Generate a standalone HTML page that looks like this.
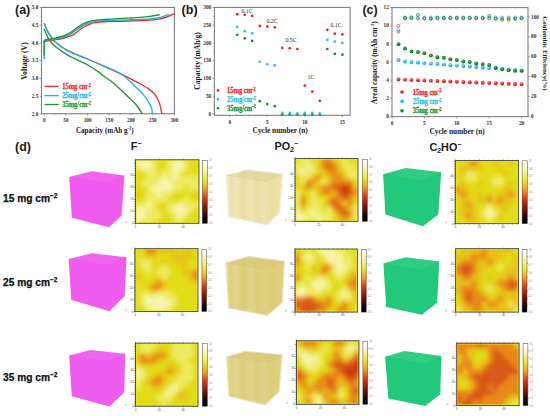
<!DOCTYPE html><html><head><meta charset="utf-8"><style>html,body{margin:0;padding:0;background:#fff;width:550px;height:416px;overflow:hidden}svg{display:block}</style></head><body><svg width="550" height="416" viewBox="0 0 550 416"><text x="15.00" y="14.00" style='font-family:"Liberation Sans",sans-serif;font-weight:bold;font-size:12.50px' fill="#1a1a1a" text-anchor="start" >(a)</text>
<text x="181.60" y="14.00" style='font-family:"Liberation Sans",sans-serif;font-weight:bold;font-size:12.50px' fill="#1a1a1a" text-anchor="start" >(b)</text>
<text x="362.40" y="14.40" style='font-family:"Liberation Sans",sans-serif;font-weight:bold;font-size:12.50px' fill="#1a1a1a" text-anchor="start" >(c)</text>
<text x="15.00" y="150.50" style='font-family:"Liberation Sans",sans-serif;font-weight:bold;font-size:12.50px' fill="#1a1a1a" text-anchor="start" >(d)</text>
<rect x="41.50" y="7.45" width="132.90" height="106.25" fill="none" stroke="#808080" stroke-width="1.1"/>
<line x1="39.70" y1="7.40" x2="41.50" y2="7.40" stroke="#808080" stroke-width="0.8"/>
<text x="0" y="0" transform="translate(38.30 9.00) scale(1 1.180)" style='font-family:"Liberation Serif",serif;font-weight:bold;font-size:5.30px' fill="#303030" text-anchor="end" >5.0</text>
<line x1="39.70" y1="25.17" x2="41.50" y2="25.17" stroke="#808080" stroke-width="0.8"/>
<text x="0" y="0" transform="translate(38.30 26.77) scale(1 1.180)" style='font-family:"Liberation Serif",serif;font-weight:bold;font-size:5.30px' fill="#303030" text-anchor="end" >4.5</text>
<line x1="39.70" y1="42.95" x2="41.50" y2="42.95" stroke="#808080" stroke-width="0.8"/>
<text x="0" y="0" transform="translate(38.30 44.55) scale(1 1.180)" style='font-family:"Liberation Serif",serif;font-weight:bold;font-size:5.30px' fill="#303030" text-anchor="end" >4.0</text>
<line x1="39.70" y1="60.72" x2="41.50" y2="60.72" stroke="#808080" stroke-width="0.8"/>
<text x="0" y="0" transform="translate(38.30 62.32) scale(1 1.180)" style='font-family:"Liberation Serif",serif;font-weight:bold;font-size:5.30px' fill="#303030" text-anchor="end" >3.5</text>
<line x1="39.70" y1="78.50" x2="41.50" y2="78.50" stroke="#808080" stroke-width="0.8"/>
<text x="0" y="0" transform="translate(38.30 80.10) scale(1 1.180)" style='font-family:"Liberation Serif",serif;font-weight:bold;font-size:5.30px' fill="#303030" text-anchor="end" >3.0</text>
<line x1="39.70" y1="96.28" x2="41.50" y2="96.28" stroke="#808080" stroke-width="0.8"/>
<text x="0" y="0" transform="translate(38.30 97.88) scale(1 1.180)" style='font-family:"Liberation Serif",serif;font-weight:bold;font-size:5.30px' fill="#303030" text-anchor="end" >2.5</text>
<line x1="39.70" y1="114.05" x2="41.50" y2="114.05" stroke="#808080" stroke-width="0.8"/>
<text x="0" y="0" transform="translate(38.30 115.65) scale(1 1.180)" style='font-family:"Liberation Serif",serif;font-weight:bold;font-size:5.30px' fill="#303030" text-anchor="end" >2.0</text>
<line x1="40.50" y1="16.29" x2="41.50" y2="16.29" stroke="#808080" stroke-width="0.6"/>
<line x1="40.50" y1="34.06" x2="41.50" y2="34.06" stroke="#808080" stroke-width="0.6"/>
<line x1="40.50" y1="51.84" x2="41.50" y2="51.84" stroke="#808080" stroke-width="0.6"/>
<line x1="40.50" y1="69.61" x2="41.50" y2="69.61" stroke="#808080" stroke-width="0.6"/>
<line x1="40.50" y1="87.39" x2="41.50" y2="87.39" stroke="#808080" stroke-width="0.6"/>
<line x1="40.50" y1="105.16" x2="41.50" y2="105.16" stroke="#808080" stroke-width="0.6"/>
<line x1="44.20" y1="113.70" x2="44.20" y2="115.50" stroke="#808080" stroke-width="0.8"/>
<text x="0" y="0" transform="translate(44.20 121.90) scale(1 1.180)" style='font-family:"Liberation Serif",serif;font-weight:bold;font-size:5.30px' fill="#303030" text-anchor="middle" >0</text>
<line x1="65.90" y1="113.70" x2="65.90" y2="115.50" stroke="#808080" stroke-width="0.8"/>
<text x="0" y="0" transform="translate(65.90 121.90) scale(1 1.180)" style='font-family:"Liberation Serif",serif;font-weight:bold;font-size:5.30px' fill="#303030" text-anchor="middle" >50</text>
<line x1="87.60" y1="113.70" x2="87.60" y2="115.50" stroke="#808080" stroke-width="0.8"/>
<text x="0" y="0" transform="translate(87.60 121.90) scale(1 1.180)" style='font-family:"Liberation Serif",serif;font-weight:bold;font-size:5.30px' fill="#303030" text-anchor="middle" >100</text>
<line x1="109.30" y1="113.70" x2="109.30" y2="115.50" stroke="#808080" stroke-width="0.8"/>
<text x="0" y="0" transform="translate(109.30 121.90) scale(1 1.180)" style='font-family:"Liberation Serif",serif;font-weight:bold;font-size:5.30px' fill="#303030" text-anchor="middle" >150</text>
<line x1="131.00" y1="113.70" x2="131.00" y2="115.50" stroke="#808080" stroke-width="0.8"/>
<text x="0" y="0" transform="translate(131.00 121.90) scale(1 1.180)" style='font-family:"Liberation Serif",serif;font-weight:bold;font-size:5.30px' fill="#303030" text-anchor="middle" >200</text>
<line x1="152.70" y1="113.70" x2="152.70" y2="115.50" stroke="#808080" stroke-width="0.8"/>
<text x="0" y="0" transform="translate(152.70 121.90) scale(1 1.180)" style='font-family:"Liberation Serif",serif;font-weight:bold;font-size:5.30px' fill="#303030" text-anchor="middle" >250</text>
<line x1="174.40" y1="113.70" x2="174.40" y2="115.50" stroke="#808080" stroke-width="0.8"/>
<text x="0" y="0" transform="translate(174.40 121.90) scale(1 1.180)" style='font-family:"Liberation Serif",serif;font-weight:bold;font-size:5.30px' fill="#303030" text-anchor="middle" >300</text>
<line x1="55.05" y1="113.70" x2="55.05" y2="114.70" stroke="#808080" stroke-width="0.6"/>
<line x1="76.75" y1="113.70" x2="76.75" y2="114.70" stroke="#808080" stroke-width="0.6"/>
<line x1="98.45" y1="113.70" x2="98.45" y2="114.70" stroke="#808080" stroke-width="0.6"/>
<line x1="120.15" y1="113.70" x2="120.15" y2="114.70" stroke="#808080" stroke-width="0.6"/>
<line x1="141.85" y1="113.70" x2="141.85" y2="114.70" stroke="#808080" stroke-width="0.6"/>
<line x1="163.55" y1="113.70" x2="163.55" y2="114.70" stroke="#808080" stroke-width="0.6"/>
<text x="26.60" y="61.00" style='font-family:"Liberation Serif",serif;font-weight:bold;font-size:7.80px' fill="#1a1a1a" text-anchor="middle" transform="rotate(-90 26.6 61)">Voltage (V)</text>
<text x="0" y="0" transform="translate(104.80 132.50) scale(1 1.180)" style='font-family:"Liberation Serif",serif;font-weight:bold;font-size:7.10px' fill="#1a1a1a" text-anchor="middle" >Capacity (mAh g<tspan dy="-2.5" font-size="4.5">-1</tspan><tspan dy="2.5">)</tspan></text>
<path d="M44.10,23.00 C44.63,24.27 46.23,28.45 47.30,30.60 C48.37,32.75 49.07,33.92 50.50,35.90 C51.93,37.88 53.18,40.12 55.90,42.50 C58.62,44.88 63.17,48.08 66.80,50.20 C70.43,52.32 74.07,53.65 77.70,55.20 C81.33,56.75 84.05,57.60 88.60,59.50 C93.15,61.40 99.47,64.13 105.00,66.60 C110.53,69.07 116.57,71.77 121.80,74.30 C127.03,76.83 132.03,79.45 136.40,81.80 C140.77,84.15 144.85,86.22 148.00,88.40 C151.15,90.58 153.37,92.37 155.30,94.90 C157.23,97.43 158.52,100.45 159.60,103.60 C160.68,106.75 161.43,112.10 161.80,113.80" fill="none" stroke="#ee2a2a" stroke-width="1.35"/>
<path d="M44.10,23.60 C44.63,24.82 46.23,28.82 47.30,30.90 C48.37,32.98 49.07,34.15 50.50,36.10 C51.93,38.05 53.18,40.23 55.90,42.60 C58.62,44.97 63.17,48.20 66.80,50.30 C70.43,52.40 74.07,53.67 77.70,55.20 C81.33,56.73 84.05,57.60 88.60,59.50 C93.15,61.40 99.47,64.10 105.00,66.60 C110.53,69.10 116.57,71.00 121.80,74.50 C127.03,78.00 132.77,84.20 136.40,87.60 C140.03,91.00 141.42,92.23 143.60,94.90 C145.78,97.57 148.13,101.25 149.50,103.60 C150.87,105.95 151.32,107.30 151.80,109.00 C152.28,110.70 152.30,113.00 152.40,113.80" fill="none" stroke="#1eb0ee" stroke-width="1.35"/>
<path d="M43.90,28.70 C44.47,29.92 46.38,34.03 47.30,36.00 C48.22,37.97 47.97,38.67 49.40,40.50 C50.83,42.33 53.00,44.65 55.90,47.00 C58.80,49.35 63.17,52.42 66.80,54.60 C70.43,56.78 74.07,58.28 77.70,60.10 C81.33,61.92 84.97,63.42 88.60,65.50 C92.23,67.58 97.32,71.05 99.50,72.60 C101.68,74.15 100.78,74.07 101.70,74.80 C102.62,75.53 102.87,75.47 105.00,77.00 C107.13,78.53 110.48,80.53 114.50,84.00 C118.52,87.47 125.45,94.30 129.10,97.80 C132.75,101.30 134.22,102.33 136.40,105.00 C138.58,107.67 141.23,112.33 142.20,113.80" fill="none" stroke="#1d9a2a" stroke-width="1.35"/>
<path d="M44.30,41.60 C45.25,41.40 48.22,40.72 50.00,40.40 C51.78,40.08 53.33,39.93 55.00,39.70 C56.67,39.47 58.00,39.45 60.00,39.00 C62.00,38.55 64.82,37.70 67.00,37.00 C69.18,36.30 71.10,35.88 73.10,34.80 C75.10,33.72 77.07,31.88 79.00,30.50 C80.93,29.12 82.87,27.58 84.70,26.50 C86.53,25.42 88.30,24.63 90.00,24.00 C91.70,23.37 93.23,23.03 94.90,22.70 C96.57,22.37 98.07,22.17 100.00,22.00 C101.93,21.83 103.17,21.82 106.50,21.70 C109.83,21.58 114.42,21.47 120.00,21.30 C125.58,21.13 135.00,20.88 140.00,20.70 C145.00,20.52 146.67,20.50 150.00,20.20 C153.33,19.90 157.17,19.43 160.00,18.90 C162.83,18.37 164.60,17.85 167.00,17.00 C169.40,16.15 173.17,14.33 174.40,13.80" fill="none" stroke="#ee2a2a" stroke-width="1.35"/>
<path d="M44.2,59.3 L44.2,40.6" fill="none" stroke="#1eb0ee" stroke-width="1.35"/>
<path d="M44.2,55.6 L44.2,40.2" fill="none" stroke="#1d9a2a" stroke-width="1.35"/>
<path d="M44.30,40.60 C45.25,40.43 48.22,39.87 50.00,39.60 C51.78,39.33 53.33,39.23 55.00,39.00 C56.67,38.77 58.17,38.67 60.00,38.20 C61.83,37.73 64.07,37.00 66.00,36.20 C67.93,35.40 69.77,34.52 71.60,33.40 C73.43,32.28 75.05,30.83 77.00,29.50 C78.95,28.17 81.47,26.48 83.30,25.40 C85.13,24.32 86.30,23.62 88.00,23.00 C89.70,22.38 91.83,22.03 93.50,21.70 C95.17,21.37 96.32,21.17 98.00,21.00 C99.68,20.83 100.77,20.82 103.60,20.70 C106.43,20.58 111.10,20.43 115.00,20.30 C118.90,20.17 122.83,20.03 127.00,19.90 C131.17,19.77 136.17,19.67 140.00,19.50 C143.83,19.33 147.00,19.18 150.00,18.90 C153.00,18.62 155.67,18.25 158.00,17.80 C160.33,17.35 162.12,16.78 164.00,16.20 C165.88,15.62 168.42,14.62 169.30,14.30" fill="none" stroke="#1eb0ee" stroke-width="1.35"/>
<path d="M44.30,40.20 C45.25,40.00 48.22,39.33 50.00,39.00 C51.78,38.67 53.33,38.53 55.00,38.20 C56.67,37.87 58.17,37.57 60.00,37.00 C61.83,36.43 64.07,35.65 66.00,34.80 C67.93,33.95 69.93,32.93 71.60,31.90 C73.27,30.87 74.30,29.82 76.00,28.60 C77.70,27.38 79.97,25.67 81.80,24.60 C83.63,23.53 85.30,22.85 87.00,22.20 C88.70,21.55 90.17,21.08 92.00,20.70 C93.83,20.32 96.07,20.10 98.00,19.90 C99.93,19.70 100.77,19.67 103.60,19.50 C106.43,19.33 111.10,19.12 115.00,18.90 C118.90,18.68 122.83,18.45 127.00,18.20 C131.17,17.95 136.17,17.72 140.00,17.40 C143.83,17.08 146.70,16.75 150.00,16.30 C153.30,15.85 158.17,14.97 159.80,14.70" fill="none" stroke="#1d9a2a" stroke-width="1.35"/>
<line x1="44.5" y1="86.40" x2="58.7" y2="86.40" stroke="#ee2a2a" stroke-width="1.35"/>
<text x="0.00" y="0.00" style='font-family:"Liberation Serif",serif;font-weight:bold;font-size:6.50px' fill="#ee2a2a" text-anchor="start" transform="translate(62.2 89.00) scale(1 1.25)" stroke="#ee2a2a" stroke-width="0.2">15mg cm<tspan dy="-2" font-size="4.2">-2</tspan></text>
<line x1="44.5" y1="95.60" x2="58.7" y2="95.60" stroke="#1eb0ee" stroke-width="1.35"/>
<text x="0.00" y="0.00" style='font-family:"Liberation Serif",serif;font-weight:bold;font-size:6.50px' fill="#1eb0ee" text-anchor="start" transform="translate(62.2 98.20) scale(1 1.25)" stroke="#1eb0ee" stroke-width="0.2">25mg/cm<tspan dy="-2" font-size="4.2">-2</tspan></text>
<line x1="44.5" y1="104.50" x2="58.7" y2="104.50" stroke="#1d9a2a" stroke-width="1.35"/>
<text x="0.00" y="0.00" style='font-family:"Liberation Serif",serif;font-weight:bold;font-size:6.50px' fill="#1d9a2a" text-anchor="start" transform="translate(62.2 107.10) scale(1 1.25)" stroke="#1d9a2a" stroke-width="0.2">35mg/cm<tspan dy="-2" font-size="4.2">-2</tspan></text>
<rect x="214.40" y="7.45" width="135.70" height="107.85" fill="none" stroke="#808080" stroke-width="1.1"/>
<line x1="212.60" y1="114.00" x2="214.40" y2="114.00" stroke="#808080" stroke-width="0.8"/>
<text x="0" y="0" transform="translate(211.20 115.60) scale(1 1.180)" style='font-family:"Liberation Serif",serif;font-weight:bold;font-size:5.30px' fill="#303030" text-anchor="end" >0</text>
<line x1="212.60" y1="96.23" x2="214.40" y2="96.23" stroke="#808080" stroke-width="0.8"/>
<text x="0" y="0" transform="translate(211.20 97.83) scale(1 1.180)" style='font-family:"Liberation Serif",serif;font-weight:bold;font-size:5.30px' fill="#303030" text-anchor="end" >50</text>
<line x1="212.60" y1="78.47" x2="214.40" y2="78.47" stroke="#808080" stroke-width="0.8"/>
<text x="0" y="0" transform="translate(211.20 80.07) scale(1 1.180)" style='font-family:"Liberation Serif",serif;font-weight:bold;font-size:5.30px' fill="#303030" text-anchor="end" >100</text>
<line x1="212.60" y1="60.70" x2="214.40" y2="60.70" stroke="#808080" stroke-width="0.8"/>
<text x="0" y="0" transform="translate(211.20 62.30) scale(1 1.180)" style='font-family:"Liberation Serif",serif;font-weight:bold;font-size:5.30px' fill="#303030" text-anchor="end" >150</text>
<line x1="212.60" y1="42.94" x2="214.40" y2="42.94" stroke="#808080" stroke-width="0.8"/>
<text x="0" y="0" transform="translate(211.20 44.54) scale(1 1.180)" style='font-family:"Liberation Serif",serif;font-weight:bold;font-size:5.30px' fill="#303030" text-anchor="end" >200</text>
<line x1="212.60" y1="25.17" x2="214.40" y2="25.17" stroke="#808080" stroke-width="0.8"/>
<text x="0" y="0" transform="translate(211.20 26.77) scale(1 1.180)" style='font-family:"Liberation Serif",serif;font-weight:bold;font-size:5.30px' fill="#303030" text-anchor="end" >250</text>
<line x1="212.60" y1="7.41" x2="214.40" y2="7.41" stroke="#808080" stroke-width="0.8"/>
<text x="0" y="0" transform="translate(211.20 9.01) scale(1 1.180)" style='font-family:"Liberation Serif",serif;font-weight:bold;font-size:5.30px' fill="#303030" text-anchor="end" >300</text>
<line x1="213.40" y1="105.12" x2="214.40" y2="105.12" stroke="#808080" stroke-width="0.6"/>
<line x1="213.40" y1="87.35" x2="214.40" y2="87.35" stroke="#808080" stroke-width="0.6"/>
<line x1="213.40" y1="69.59" x2="214.40" y2="69.59" stroke="#808080" stroke-width="0.6"/>
<line x1="213.40" y1="51.82" x2="214.40" y2="51.82" stroke="#808080" stroke-width="0.6"/>
<line x1="213.40" y1="34.06" x2="214.40" y2="34.06" stroke="#808080" stroke-width="0.6"/>
<line x1="213.40" y1="16.29" x2="214.40" y2="16.29" stroke="#808080" stroke-width="0.6"/>
<line x1="229.70" y1="115.30" x2="229.70" y2="117.10" stroke="#808080" stroke-width="0.8"/>
<text x="0" y="0" transform="translate(229.70 124.20) scale(1 1.180)" style='font-family:"Liberation Serif",serif;font-weight:bold;font-size:5.30px' fill="#303030" text-anchor="middle" >0</text>
<line x1="267.25" y1="115.30" x2="267.25" y2="117.10" stroke="#808080" stroke-width="0.8"/>
<text x="0" y="0" transform="translate(267.25 124.20) scale(1 1.180)" style='font-family:"Liberation Serif",serif;font-weight:bold;font-size:5.30px' fill="#303030" text-anchor="middle" >5</text>
<line x1="304.80" y1="115.30" x2="304.80" y2="117.10" stroke="#808080" stroke-width="0.8"/>
<text x="0" y="0" transform="translate(304.80 124.20) scale(1 1.180)" style='font-family:"Liberation Serif",serif;font-weight:bold;font-size:5.30px' fill="#303030" text-anchor="middle" >10</text>
<line x1="342.35" y1="115.30" x2="342.35" y2="117.10" stroke="#808080" stroke-width="0.8"/>
<text x="0" y="0" transform="translate(342.35 124.20) scale(1 1.180)" style='font-family:"Liberation Serif",serif;font-weight:bold;font-size:5.30px' fill="#303030" text-anchor="middle" >15</text>
<line x1="248.47" y1="115.30" x2="248.47" y2="116.30" stroke="#808080" stroke-width="0.6"/>
<line x1="286.02" y1="115.30" x2="286.02" y2="116.30" stroke="#808080" stroke-width="0.6"/>
<line x1="323.57" y1="115.30" x2="323.57" y2="116.30" stroke="#808080" stroke-width="0.6"/>
<text x="200.20" y="61.00" style='font-family:"Liberation Serif",serif;font-weight:bold;font-size:7.50px' fill="#1a1a1a" text-anchor="middle" transform="rotate(-90 200.2 61)">Capacity (mAh/g)</text>
<text x="0" y="0" transform="translate(280.20 132.60) scale(1 1.180)" style='font-family:"Liberation Serif",serif;font-weight:bold;font-size:7.40px' fill="#1a1a1a" text-anchor="middle" >Cycle number (n)</text>
<circle cx="237.21" cy="34.77" r="1.35" fill="#10902a"/>
<circle cx="244.72" cy="38.32" r="1.35" fill="#10902a"/>
<circle cx="252.23" cy="40.81" r="1.35" fill="#10902a"/>
<circle cx="259.74" cy="101.21" r="1.35" fill="#10902a"/>
<circle cx="267.25" cy="104.05" r="1.35" fill="#10902a"/>
<circle cx="274.76" cy="106.18" r="1.35" fill="#10902a"/>
<circle cx="282.27" cy="114.36" r="1.35" fill="#10902a"/>
<circle cx="289.78" cy="114.36" r="1.35" fill="#10902a"/>
<circle cx="297.29" cy="114.36" r="1.35" fill="#10902a"/>
<circle cx="304.80" cy="114.36" r="1.35" fill="#10902a"/>
<circle cx="312.31" cy="114.36" r="1.35" fill="#10902a"/>
<circle cx="319.82" cy="114.36" r="1.35" fill="#10902a"/>
<circle cx="327.33" cy="48.98" r="1.35" fill="#10902a"/>
<circle cx="334.84" cy="53.95" r="1.35" fill="#10902a"/>
<circle cx="342.35" cy="54.66" r="1.35" fill="#10902a"/>
<circle cx="237.21" cy="26.95" r="1.35" fill="#20c0f0"/>
<circle cx="244.72" cy="31.22" r="1.35" fill="#20c0f0"/>
<circle cx="252.23" cy="33.35" r="1.35" fill="#20c0f0"/>
<circle cx="259.74" cy="61.77" r="1.35" fill="#20c0f0"/>
<circle cx="267.25" cy="64.26" r="1.35" fill="#20c0f0"/>
<circle cx="274.76" cy="65.32" r="1.35" fill="#20c0f0"/>
<circle cx="282.27" cy="112.93" r="1.35" fill="#20c0f0"/>
<circle cx="289.78" cy="112.93" r="1.35" fill="#20c0f0"/>
<circle cx="297.29" cy="113.29" r="1.35" fill="#20c0f0"/>
<circle cx="304.80" cy="112.93" r="1.35" fill="#20c0f0"/>
<circle cx="312.31" cy="112.93" r="1.35" fill="#20c0f0"/>
<circle cx="319.82" cy="113.29" r="1.35" fill="#20c0f0"/>
<circle cx="327.33" cy="39.74" r="1.35" fill="#20c0f0"/>
<circle cx="334.84" cy="41.52" r="1.35" fill="#20c0f0"/>
<circle cx="342.35" cy="42.94" r="1.35" fill="#20c0f0"/>
<circle cx="237.21" cy="14.16" r="1.35" fill="#f02020"/>
<circle cx="244.72" cy="14.87" r="1.35" fill="#f02020"/>
<circle cx="252.23" cy="15.94" r="1.35" fill="#f02020"/>
<circle cx="259.74" cy="25.89" r="1.35" fill="#f02020"/>
<circle cx="267.25" cy="26.60" r="1.35" fill="#f02020"/>
<circle cx="274.76" cy="27.31" r="1.35" fill="#f02020"/>
<circle cx="282.27" cy="47.91" r="1.35" fill="#f02020"/>
<circle cx="289.78" cy="48.27" r="1.35" fill="#f02020"/>
<circle cx="297.29" cy="48.98" r="1.35" fill="#f02020"/>
<circle cx="304.80" cy="85.58" r="1.35" fill="#f02020"/>
<circle cx="312.31" cy="91.62" r="1.35" fill="#f02020"/>
<circle cx="319.82" cy="100.85" r="1.35" fill="#f02020"/>
<circle cx="327.33" cy="29.79" r="1.35" fill="#f02020"/>
<circle cx="334.84" cy="33.70" r="1.35" fill="#f02020"/>
<circle cx="342.35" cy="34.41" r="1.35" fill="#f02020"/>
<text x="247.00" y="13.00" style='font-family:"Liberation Serif",serif;font-size:5.80px' fill="#222" text-anchor="middle" >0.1C</text>
<text x="272.00" y="23.00" style='font-family:"Liberation Serif",serif;font-size:5.80px' fill="#222" text-anchor="middle" >0.2C</text>
<text x="291.00" y="42.20" style='font-family:"Liberation Serif",serif;font-size:5.80px' fill="#222" text-anchor="middle" >0.5C</text>
<text x="311.00" y="79.10" style='font-family:"Liberation Serif",serif;font-size:5.80px' fill="#222" text-anchor="middle" >1C</text>
<text x="336.00" y="27.00" style='font-family:"Liberation Serif",serif;font-size:5.80px' fill="#222" text-anchor="middle" >0.1C</text>
<circle cx="218" cy="90.40" r="1.3" fill="#f02020"/>
<text x="0.00" y="0.00" style='font-family:"Liberation Serif",serif;font-weight:bold;font-size:6.50px' fill="#f02020" text-anchor="start" transform="translate(227 93.00) scale(1 1.25)" stroke="#f02020" stroke-width="0.2">15mg cm<tspan dy="-2" font-size="4.2">-2</tspan></text>
<circle cx="218" cy="99.40" r="1.3" fill="#20c0f0"/>
<text x="0.00" y="0.00" style='font-family:"Liberation Serif",serif;font-weight:bold;font-size:6.50px' fill="#20c0f0" text-anchor="start" transform="translate(227 102.00) scale(1 1.25)" stroke="#20c0f0" stroke-width="0.2">25mg/cm<tspan dy="-2" font-size="4.2">-2</tspan></text>
<circle cx="218" cy="108.30" r="1.3" fill="#10902a"/>
<text x="0.00" y="0.00" style='font-family:"Liberation Serif",serif;font-weight:bold;font-size:6.50px' fill="#10902a" text-anchor="start" transform="translate(227 110.90) scale(1 1.25)" stroke="#10902a" stroke-width="0.2">35mg/cm<tspan dy="-2" font-size="4.2">-2</tspan></text>
<rect x="392.00" y="7.60" width="136.00" height="109.00" fill="none" stroke="#808080" stroke-width="1.1"/>
<line x1="390.20" y1="116.30" x2="392.00" y2="116.30" stroke="#808080" stroke-width="0.8"/>
<text x="0" y="0" transform="translate(388.80 117.90) scale(1 1.180)" style='font-family:"Liberation Serif",serif;font-weight:bold;font-size:5.30px' fill="#303030" text-anchor="end" >0</text>
<line x1="390.20" y1="98.20" x2="392.00" y2="98.20" stroke="#808080" stroke-width="0.8"/>
<text x="0" y="0" transform="translate(388.80 99.80) scale(1 1.180)" style='font-family:"Liberation Serif",serif;font-weight:bold;font-size:5.30px' fill="#303030" text-anchor="end" >2</text>
<line x1="390.20" y1="80.10" x2="392.00" y2="80.10" stroke="#808080" stroke-width="0.8"/>
<text x="0" y="0" transform="translate(388.80 81.70) scale(1 1.180)" style='font-family:"Liberation Serif",serif;font-weight:bold;font-size:5.30px' fill="#303030" text-anchor="end" >4</text>
<line x1="390.20" y1="62.00" x2="392.00" y2="62.00" stroke="#808080" stroke-width="0.8"/>
<text x="0" y="0" transform="translate(388.80 63.60) scale(1 1.180)" style='font-family:"Liberation Serif",serif;font-weight:bold;font-size:5.30px' fill="#303030" text-anchor="end" >6</text>
<line x1="390.20" y1="43.90" x2="392.00" y2="43.90" stroke="#808080" stroke-width="0.8"/>
<text x="0" y="0" transform="translate(388.80 45.50) scale(1 1.180)" style='font-family:"Liberation Serif",serif;font-weight:bold;font-size:5.30px' fill="#303030" text-anchor="end" >8</text>
<line x1="390.20" y1="25.80" x2="392.00" y2="25.80" stroke="#808080" stroke-width="0.8"/>
<text x="0" y="0" transform="translate(388.80 27.40) scale(1 1.180)" style='font-family:"Liberation Serif",serif;font-weight:bold;font-size:5.30px' fill="#303030" text-anchor="end" >10</text>
<line x1="390.20" y1="7.70" x2="392.00" y2="7.70" stroke="#808080" stroke-width="0.8"/>
<text x="0" y="0" transform="translate(388.80 9.30) scale(1 1.180)" style='font-family:"Liberation Serif",serif;font-weight:bold;font-size:5.30px' fill="#303030" text-anchor="end" >12</text>
<line x1="391.00" y1="107.25" x2="392.00" y2="107.25" stroke="#808080" stroke-width="0.6"/>
<line x1="391.00" y1="89.15" x2="392.00" y2="89.15" stroke="#808080" stroke-width="0.6"/>
<line x1="391.00" y1="71.05" x2="392.00" y2="71.05" stroke="#808080" stroke-width="0.6"/>
<line x1="391.00" y1="52.95" x2="392.00" y2="52.95" stroke="#808080" stroke-width="0.6"/>
<line x1="391.00" y1="34.85" x2="392.00" y2="34.85" stroke="#808080" stroke-width="0.6"/>
<line x1="391.00" y1="16.75" x2="392.00" y2="16.75" stroke="#808080" stroke-width="0.6"/>
<line x1="528.00" y1="116.30" x2="529.80" y2="116.30" stroke="#808080" stroke-width="0.8"/>
<text x="0" y="0" transform="translate(531.00 117.90) scale(1 1.180)" style='font-family:"Liberation Serif",serif;font-weight:bold;font-size:5.30px' fill="#303030" text-anchor="start" >0</text>
<line x1="528.00" y1="96.42" x2="529.80" y2="96.42" stroke="#808080" stroke-width="0.8"/>
<text x="0" y="0" transform="translate(531.00 98.02) scale(1 1.180)" style='font-family:"Liberation Serif",serif;font-weight:bold;font-size:5.30px' fill="#303030" text-anchor="start" >20</text>
<line x1="528.00" y1="76.54" x2="529.80" y2="76.54" stroke="#808080" stroke-width="0.8"/>
<text x="0" y="0" transform="translate(531.00 78.14) scale(1 1.180)" style='font-family:"Liberation Serif",serif;font-weight:bold;font-size:5.30px' fill="#303030" text-anchor="start" >40</text>
<line x1="528.00" y1="56.66" x2="529.80" y2="56.66" stroke="#808080" stroke-width="0.8"/>
<text x="0" y="0" transform="translate(531.00 58.26) scale(1 1.180)" style='font-family:"Liberation Serif",serif;font-weight:bold;font-size:5.30px' fill="#303030" text-anchor="start" >60</text>
<line x1="528.00" y1="36.78" x2="529.80" y2="36.78" stroke="#808080" stroke-width="0.8"/>
<text x="0" y="0" transform="translate(531.00 38.38) scale(1 1.180)" style='font-family:"Liberation Serif",serif;font-weight:bold;font-size:5.30px' fill="#303030" text-anchor="start" >80</text>
<line x1="528.00" y1="16.90" x2="529.80" y2="16.90" stroke="#808080" stroke-width="0.8"/>
<text x="0" y="0" transform="translate(531.00 18.50) scale(1 1.180)" style='font-family:"Liberation Serif",serif;font-weight:bold;font-size:5.30px' fill="#303030" text-anchor="start" >100</text>
<line x1="528.00" y1="106.36" x2="529.00" y2="106.36" stroke="#808080" stroke-width="0.6"/>
<line x1="528.00" y1="86.48" x2="529.00" y2="86.48" stroke="#808080" stroke-width="0.6"/>
<line x1="528.00" y1="66.60" x2="529.00" y2="66.60" stroke="#808080" stroke-width="0.6"/>
<line x1="528.00" y1="46.72" x2="529.00" y2="46.72" stroke="#808080" stroke-width="0.6"/>
<line x1="528.00" y1="26.84" x2="529.00" y2="26.84" stroke="#808080" stroke-width="0.6"/>
<line x1="392.00" y1="116.60" x2="392.00" y2="118.40" stroke="#808080" stroke-width="0.8"/>
<text x="0" y="0" transform="translate(392.00 125.30) scale(1 1.180)" style='font-family:"Liberation Serif",serif;font-weight:bold;font-size:5.30px' fill="#303030" text-anchor="middle" >0</text>
<line x1="424.40" y1="116.60" x2="424.40" y2="118.40" stroke="#808080" stroke-width="0.8"/>
<text x="0" y="0" transform="translate(424.40 125.30) scale(1 1.180)" style='font-family:"Liberation Serif",serif;font-weight:bold;font-size:5.30px' fill="#303030" text-anchor="middle" >5</text>
<line x1="456.80" y1="116.60" x2="456.80" y2="118.40" stroke="#808080" stroke-width="0.8"/>
<text x="0" y="0" transform="translate(456.80 125.30) scale(1 1.180)" style='font-family:"Liberation Serif",serif;font-weight:bold;font-size:5.30px' fill="#303030" text-anchor="middle" >10</text>
<line x1="489.20" y1="116.60" x2="489.20" y2="118.40" stroke="#808080" stroke-width="0.8"/>
<text x="0" y="0" transform="translate(489.20 125.30) scale(1 1.180)" style='font-family:"Liberation Serif",serif;font-weight:bold;font-size:5.30px' fill="#303030" text-anchor="middle" >15</text>
<line x1="521.60" y1="116.60" x2="521.60" y2="118.40" stroke="#808080" stroke-width="0.8"/>
<text x="0" y="0" transform="translate(521.60 125.30) scale(1 1.180)" style='font-family:"Liberation Serif",serif;font-weight:bold;font-size:5.30px' fill="#303030" text-anchor="middle" >20</text>
<text x="377.00" y="62.80" style='font-family:"Liberation Serif",serif;font-weight:bold;font-size:7.40px' fill="#1a1a1a" text-anchor="middle" transform="rotate(-90 377 62.8)">Areal capacity (mAh cm<tspan dy="-2.5" font-size="4.5">-2</tspan><tspan dy="2.5">)</tspan></text>
<text x="543.20" y="53.50" style='font-family:"Liberation Serif",serif;font-weight:bold;font-size:6.85px' fill="#1a1a1a" text-anchor="middle" transform="rotate(90 543.2 53.5)">Coulombic Efficiency(%)</text>
<text x="0" y="0" transform="translate(457.10 133.60) scale(1 1.180)" style='font-family:"Liberation Serif",serif;font-weight:bold;font-size:7.40px' fill="#1a1a1a" text-anchor="middle" >Cycle number (n)</text>
<defs><radialGradient id="gr" cx="0.4" cy="0.35" r="0.65"><stop offset="0" stop-color="#ff9a9a"/><stop offset="0.5" stop-color="#f02a2a"/><stop offset="1" stop-color="#c81010"/></radialGradient><radialGradient id="gb" cx="0.4" cy="0.35" r="0.65"><stop offset="0" stop-color="#b0ecff"/><stop offset="0.5" stop-color="#28c0f4"/><stop offset="1" stop-color="#0898d8"/></radialGradient><radialGradient id="gg" cx="0.4" cy="0.35" r="0.65"><stop offset="0" stop-color="#60c070"/><stop offset="0.5" stop-color="#10902a"/><stop offset="1" stop-color="#006a18"/></radialGradient></defs>
<circle cx="398.48" cy="79.38" r="1.95" fill="url(#gr)"/>
<circle cx="404.96" cy="79.63" r="1.95" fill="url(#gr)"/>
<circle cx="411.44" cy="79.89" r="1.95" fill="url(#gr)"/>
<circle cx="417.92" cy="80.15" r="1.95" fill="url(#gr)"/>
<circle cx="424.40" cy="80.40" r="1.95" fill="url(#gr)"/>
<circle cx="430.88" cy="80.66" r="1.95" fill="url(#gr)"/>
<circle cx="437.36" cy="80.92" r="1.95" fill="url(#gr)"/>
<circle cx="443.84" cy="81.18" r="1.95" fill="url(#gr)"/>
<circle cx="450.32" cy="81.43" r="1.95" fill="url(#gr)"/>
<circle cx="456.80" cy="81.69" r="1.95" fill="url(#gr)"/>
<circle cx="463.28" cy="81.95" r="1.95" fill="url(#gr)"/>
<circle cx="469.76" cy="82.21" r="1.95" fill="url(#gr)"/>
<circle cx="476.24" cy="82.46" r="1.95" fill="url(#gr)"/>
<circle cx="482.72" cy="82.72" r="1.95" fill="url(#gr)"/>
<circle cx="489.20" cy="82.98" r="1.95" fill="url(#gr)"/>
<circle cx="495.68" cy="83.23" r="1.95" fill="url(#gr)"/>
<circle cx="502.16" cy="83.49" r="1.95" fill="url(#gr)"/>
<circle cx="508.64" cy="83.75" r="1.95" fill="url(#gr)"/>
<circle cx="515.12" cy="84.01" r="1.95" fill="url(#gr)"/>
<circle cx="521.60" cy="84.26" r="1.95" fill="url(#gr)"/>
<circle cx="398.48" cy="59.83" r="1.95" fill="url(#gb)"/>
<circle cx="404.96" cy="61.46" r="1.95" fill="url(#gb)"/>
<circle cx="411.44" cy="62.00" r="1.95" fill="url(#gb)"/>
<circle cx="417.92" cy="62.45" r="1.95" fill="url(#gb)"/>
<circle cx="424.40" cy="63.09" r="1.95" fill="url(#gb)"/>
<circle cx="430.88" cy="63.63" r="1.95" fill="url(#gb)"/>
<circle cx="437.36" cy="63.99" r="1.95" fill="url(#gb)"/>
<circle cx="443.84" cy="64.53" r="1.95" fill="url(#gb)"/>
<circle cx="450.32" cy="65.17" r="1.95" fill="url(#gb)"/>
<circle cx="456.80" cy="65.62" r="1.95" fill="url(#gb)"/>
<circle cx="463.28" cy="66.07" r="1.95" fill="url(#gb)"/>
<circle cx="469.76" cy="66.52" r="1.95" fill="url(#gb)"/>
<circle cx="476.24" cy="66.98" r="1.95" fill="url(#gb)"/>
<circle cx="482.72" cy="67.43" r="1.95" fill="url(#gb)"/>
<circle cx="489.20" cy="68.15" r="1.95" fill="url(#gb)"/>
<circle cx="495.68" cy="68.33" r="1.95" fill="url(#gb)"/>
<circle cx="502.16" cy="68.70" r="1.95" fill="url(#gb)"/>
<circle cx="508.64" cy="69.69" r="1.95" fill="url(#gb)"/>
<circle cx="515.12" cy="70.14" r="1.95" fill="url(#gb)"/>
<circle cx="521.60" cy="70.60" r="1.95" fill="url(#gb)"/>
<circle cx="398.48" cy="44.17" r="1.95" fill="url(#gg)"/>
<circle cx="404.96" cy="48.52" r="1.95" fill="url(#gg)"/>
<circle cx="411.44" cy="51.41" r="1.95" fill="url(#gg)"/>
<circle cx="417.92" cy="52.05" r="1.95" fill="url(#gg)"/>
<circle cx="424.40" cy="53.13" r="1.95" fill="url(#gg)"/>
<circle cx="430.88" cy="55.39" r="1.95" fill="url(#gg)"/>
<circle cx="437.36" cy="57.20" r="1.95" fill="url(#gg)"/>
<circle cx="443.84" cy="57.75" r="1.95" fill="url(#gg)"/>
<circle cx="450.32" cy="59.19" r="1.95" fill="url(#gg)"/>
<circle cx="456.80" cy="60.01" r="1.95" fill="url(#gg)"/>
<circle cx="463.28" cy="61.46" r="1.95" fill="url(#gg)"/>
<circle cx="469.76" cy="62.00" r="1.95" fill="url(#gg)"/>
<circle cx="476.24" cy="63.54" r="1.95" fill="url(#gg)"/>
<circle cx="482.72" cy="64.08" r="1.95" fill="url(#gg)"/>
<circle cx="489.20" cy="64.99" r="1.95" fill="url(#gg)"/>
<circle cx="495.68" cy="67.79" r="1.95" fill="url(#gg)"/>
<circle cx="502.16" cy="69.33" r="1.95" fill="url(#gg)"/>
<circle cx="508.64" cy="70.14" r="1.95" fill="url(#gg)"/>
<circle cx="515.12" cy="70.69" r="1.95" fill="url(#gg)"/>
<circle cx="521.60" cy="70.69" r="1.95" fill="url(#gg)"/>
<circle cx="398.48" cy="25.85" r="1.45" fill="none" stroke="#f02020" stroke-width="0.75"/>
<circle cx="404.96" cy="18.39" r="1.45" fill="none" stroke="#f02020" stroke-width="0.75"/>
<circle cx="411.44" cy="18.39" r="1.45" fill="none" stroke="#f02020" stroke-width="0.75"/>
<circle cx="417.92" cy="18.39" r="1.45" fill="none" stroke="#f02020" stroke-width="0.75"/>
<circle cx="424.40" cy="18.39" r="1.45" fill="none" stroke="#f02020" stroke-width="0.75"/>
<circle cx="430.88" cy="18.39" r="1.45" fill="none" stroke="#f02020" stroke-width="0.75"/>
<circle cx="437.36" cy="18.39" r="1.45" fill="none" stroke="#f02020" stroke-width="0.75"/>
<circle cx="443.84" cy="18.39" r="1.45" fill="none" stroke="#f02020" stroke-width="0.75"/>
<circle cx="450.32" cy="18.39" r="1.45" fill="none" stroke="#f02020" stroke-width="0.75"/>
<circle cx="456.80" cy="18.39" r="1.45" fill="none" stroke="#f02020" stroke-width="0.75"/>
<circle cx="463.28" cy="18.39" r="1.45" fill="none" stroke="#f02020" stroke-width="0.75"/>
<circle cx="469.76" cy="18.39" r="1.45" fill="none" stroke="#f02020" stroke-width="0.75"/>
<circle cx="476.24" cy="18.39" r="1.45" fill="none" stroke="#f02020" stroke-width="0.75"/>
<circle cx="482.72" cy="18.39" r="1.45" fill="none" stroke="#f02020" stroke-width="0.75"/>
<circle cx="489.20" cy="18.39" r="1.45" fill="none" stroke="#f02020" stroke-width="0.75"/>
<circle cx="495.68" cy="18.39" r="1.45" fill="none" stroke="#f02020" stroke-width="0.75"/>
<circle cx="502.16" cy="18.39" r="1.45" fill="none" stroke="#f02020" stroke-width="0.75"/>
<circle cx="508.64" cy="18.39" r="1.45" fill="none" stroke="#f02020" stroke-width="0.75"/>
<circle cx="515.12" cy="18.39" r="1.45" fill="none" stroke="#f02020" stroke-width="0.75"/>
<circle cx="521.60" cy="18.39" r="1.45" fill="none" stroke="#f02020" stroke-width="0.75"/>
<circle cx="398.48" cy="29.82" r="1.45" fill="none" stroke="#20c0f0" stroke-width="0.75"/>
<circle cx="404.96" cy="17.40" r="1.45" fill="none" stroke="#20c0f0" stroke-width="0.75"/>
<circle cx="411.44" cy="17.40" r="1.45" fill="none" stroke="#20c0f0" stroke-width="0.75"/>
<circle cx="417.92" cy="17.40" r="1.45" fill="none" stroke="#20c0f0" stroke-width="0.75"/>
<circle cx="424.40" cy="17.40" r="1.45" fill="none" stroke="#20c0f0" stroke-width="0.75"/>
<circle cx="430.88" cy="17.40" r="1.45" fill="none" stroke="#20c0f0" stroke-width="0.75"/>
<circle cx="437.36" cy="17.40" r="1.45" fill="none" stroke="#20c0f0" stroke-width="0.75"/>
<circle cx="443.84" cy="17.40" r="1.45" fill="none" stroke="#20c0f0" stroke-width="0.75"/>
<circle cx="450.32" cy="17.40" r="1.45" fill="none" stroke="#20c0f0" stroke-width="0.75"/>
<circle cx="456.80" cy="17.40" r="1.45" fill="none" stroke="#20c0f0" stroke-width="0.75"/>
<circle cx="463.28" cy="17.40" r="1.45" fill="none" stroke="#20c0f0" stroke-width="0.75"/>
<circle cx="469.76" cy="17.40" r="1.45" fill="none" stroke="#20c0f0" stroke-width="0.75"/>
<circle cx="476.24" cy="17.40" r="1.45" fill="none" stroke="#20c0f0" stroke-width="0.75"/>
<circle cx="482.72" cy="17.40" r="1.45" fill="none" stroke="#20c0f0" stroke-width="0.75"/>
<circle cx="489.20" cy="17.40" r="1.45" fill="none" stroke="#20c0f0" stroke-width="0.75"/>
<circle cx="495.68" cy="17.40" r="1.45" fill="none" stroke="#20c0f0" stroke-width="0.75"/>
<circle cx="502.16" cy="17.40" r="1.45" fill="none" stroke="#20c0f0" stroke-width="0.75"/>
<circle cx="508.64" cy="17.40" r="1.45" fill="none" stroke="#20c0f0" stroke-width="0.75"/>
<circle cx="515.12" cy="17.40" r="1.45" fill="none" stroke="#20c0f0" stroke-width="0.75"/>
<circle cx="521.60" cy="17.40" r="1.45" fill="none" stroke="#20c0f0" stroke-width="0.75"/>
<circle cx="398.48" cy="31.81" r="1.45" fill="none" stroke="#10902a" stroke-width="0.75"/>
<circle cx="404.96" cy="17.89" r="1.45" fill="none" stroke="#10902a" stroke-width="0.75"/>
<circle cx="411.44" cy="17.40" r="1.45" fill="none" stroke="#10902a" stroke-width="0.75"/>
<circle cx="417.92" cy="14.91" r="1.45" fill="none" stroke="#10902a" stroke-width="0.75"/>
<circle cx="424.40" cy="18.39" r="1.45" fill="none" stroke="#10902a" stroke-width="0.75"/>
<circle cx="430.88" cy="18.89" r="1.45" fill="none" stroke="#10902a" stroke-width="0.75"/>
<circle cx="437.36" cy="17.89" r="1.45" fill="none" stroke="#10902a" stroke-width="0.75"/>
<circle cx="443.84" cy="17.89" r="1.45" fill="none" stroke="#10902a" stroke-width="0.75"/>
<circle cx="450.32" cy="17.89" r="1.45" fill="none" stroke="#10902a" stroke-width="0.75"/>
<circle cx="456.80" cy="17.89" r="1.45" fill="none" stroke="#10902a" stroke-width="0.75"/>
<circle cx="463.28" cy="17.89" r="1.45" fill="none" stroke="#10902a" stroke-width="0.75"/>
<circle cx="469.76" cy="17.89" r="1.45" fill="none" stroke="#10902a" stroke-width="0.75"/>
<circle cx="476.24" cy="17.89" r="1.45" fill="none" stroke="#10902a" stroke-width="0.75"/>
<circle cx="482.72" cy="17.89" r="1.45" fill="none" stroke="#10902a" stroke-width="0.75"/>
<circle cx="489.20" cy="15.91" r="1.45" fill="none" stroke="#10902a" stroke-width="0.75"/>
<circle cx="495.68" cy="18.89" r="1.45" fill="none" stroke="#10902a" stroke-width="0.75"/>
<circle cx="502.16" cy="19.88" r="1.45" fill="none" stroke="#10902a" stroke-width="0.75"/>
<circle cx="508.64" cy="19.88" r="1.45" fill="none" stroke="#10902a" stroke-width="0.75"/>
<circle cx="515.12" cy="18.89" r="1.45" fill="none" stroke="#10902a" stroke-width="0.75"/>
<circle cx="521.60" cy="17.89" r="1.45" fill="none" stroke="#10902a" stroke-width="0.75"/>
<circle cx="402" cy="92.00" r="1.8" fill="#f02020"/>
<text x="0.00" y="0.00" style='font-family:"Liberation Serif",serif;font-weight:bold;font-size:6.50px' fill="#f02020" text-anchor="start" transform="translate(412.7 94.60) scale(1 1.25)" stroke="#f02020" stroke-width="0.2">15mg cm<tspan dy="-2" font-size="4.2">-2</tspan></text>
<circle cx="402" cy="101.40" r="1.8" fill="#20c0f0"/>
<text x="0.00" y="0.00" style='font-family:"Liberation Serif",serif;font-weight:bold;font-size:6.50px' fill="#20c0f0" text-anchor="start" transform="translate(412.7 104.00) scale(1 1.25)" stroke="#20c0f0" stroke-width="0.2">25mg cm<tspan dy="-2" font-size="4.2">-2</tspan></text>
<circle cx="402" cy="110.80" r="1.8" fill="#10902a"/>
<text x="0.00" y="0.00" style='font-family:"Liberation Serif",serif;font-weight:bold;font-size:6.50px' fill="#10902a" text-anchor="start" transform="translate(412.7 113.40) scale(1 1.25)" stroke="#10902a" stroke-width="0.2">35mg cm<tspan dy="-2" font-size="4.2">-2</tspan></text>
<text x="3.00" y="201.50" style='font-family:"Liberation Sans",sans-serif;font-weight:bold;font-size:10.20px' fill="#111" text-anchor="start" stroke="#111" stroke-width="0.25">15 mg cm<tspan dy="-3.6" font-size="6.6">&#8722;2</tspan></text>
<text x="3.00" y="285.60" style='font-family:"Liberation Sans",sans-serif;font-weight:bold;font-size:10.20px' fill="#111" text-anchor="start" stroke="#111" stroke-width="0.25">25 mg cm<tspan dy="-3.6" font-size="6.6">&#8722;2</tspan></text>
<text x="3.00" y="380.80" style='font-family:"Liberation Sans",sans-serif;font-weight:bold;font-size:10.20px' fill="#111" text-anchor="start" stroke="#111" stroke-width="0.25">35 mg cm<tspan dy="-3.6" font-size="6.6">&#8722;2</tspan></text>
<text x="130.80" y="149.80" style='font-family:"Liberation Sans",sans-serif;font-weight:bold;font-size:10.80px' fill="#1a1a1a" text-anchor="start" >F<tspan dy="-3.5" font-size="7">&#8722;</tspan></text>
<text x="274.50" y="149.60" style='font-family:"Liberation Sans",sans-serif;font-weight:bold;font-size:10.80px' fill="#1a1a1a" text-anchor="start" >PO<tspan dy="2.5" font-size="7">2</tspan><tspan dy="-6.5" font-size="7">&#8722;</tspan></text>
<text x="429.40" y="150.70" style='font-family:"Liberation Sans",sans-serif;font-weight:bold;font-size:10.80px' fill="#1a1a1a" text-anchor="start" >C<tspan dy="2.5" font-size="7">2</tspan><tspan dy="-2.5">HO</tspan><tspan dy="-3.5" font-size="7">&#8722;</tspan></text>
<defs>
<linearGradient id="cb" x1="0" y1="0" x2="0" y2="1"><stop offset="0" stop-color="#ffffff"/><stop offset="0.1" stop-color="#fbfad0"/><stop offset="0.3" stop-color="#eee830"/><stop offset="0.45" stop-color="#f0a020"/><stop offset="0.6" stop-color="#d83810"/><stop offset="0.78" stop-color="#701008"/><stop offset="0.92" stop-color="#100202"/><stop offset="1" stop-color="#000000"/></linearGradient>
<filter id="bl" x="-20%" y="-20%" width="140%" height="140%"><feGaussianBlur stdDeviation="0.44"/></filter><filter id="grain" x="0" y="0" width="100%" height="100%"><feTurbulence type="fractalNoise" baseFrequency="1.1" numOctaves="1" seed="7"/><feColorMatrix type="matrix" values="0 0 0 0 0.55  0 0 0 0 0.25  0 0 0 0 0.05  1.6 0 0 0 -0.75"/></filter>
<clipPath id="cpF1"><rect x="135.40" y="159.80" width="63.60" height="63.50"/></clipPath>
<clipPath id="cpP1"><rect x="295.10" y="158.50" width="62.90" height="62.80"/></clipPath>
<clipPath id="cpC1"><rect x="455.30" y="160.40" width="63.30" height="63.30"/></clipPath>
<clipPath id="cpF2"><rect x="135.00" y="248.70" width="63.00" height="62.80"/></clipPath>
<clipPath id="cpP2"><rect x="295.10" y="249.00" width="62.30" height="63.10"/></clipPath>
<clipPath id="cpC2"><rect x="455.70" y="248.70" width="62.90" height="63.40"/></clipPath>
<clipPath id="cpF3"><rect x="135.50" y="343.10" width="62.50" height="63.10"/></clipPath>
<clipPath id="cpP3"><rect x="296.50" y="340.80" width="62.50" height="63.50"/></clipPath>
<clipPath id="cpC3"><rect x="456.80" y="343.10" width="62.30" height="62.50"/></clipPath>
<linearGradient id="stripe" x1="0" y1="0" x2="1" y2="0"><stop offset="0" stop-color="#fff" stop-opacity="0.55"/><stop offset="0.08" stop-color="#fff" stop-opacity="0.15"/><stop offset="0.18" stop-color="#fff" stop-opacity="0.3"/><stop offset="0.3" stop-color="#fff" stop-opacity="0.05"/><stop offset="0.42" stop-color="#fff" stop-opacity="0.25"/><stop offset="0.55" stop-color="#fff" stop-opacity="0.08"/><stop offset="0.68" stop-color="#fff" stop-opacity="0.2"/><stop offset="0.8" stop-color="#fff" stop-opacity="0.05"/><stop offset="1" stop-color="#fff" stop-opacity="0.2"/></linearGradient>
</defs>
<g clip-path="url(#cpF1)"><g transform="translate(135.40 159.80) scale(5.3000 5.2917)" filter="url(#bl)">
<rect x="-1" y="-1" width="1.1" height="1.1" fill="#f8f6af"/>
<rect x="0" y="-1" width="1.1" height="1.1" fill="#f8f6af"/>
<rect x="1" y="-1" width="1.1" height="1.1" fill="#f8f6af"/>
<rect x="2" y="-1" width="1.1" height="1.1" fill="#f8f6af"/>
<rect x="3" y="-1" width="1.1" height="1.1" fill="#f0ec5f"/>
<rect x="4" y="-1" width="1.1" height="1.1" fill="#e2de12"/>
<rect x="5" y="-1" width="1.1" height="1.1" fill="#e2de12"/>
<rect x="6" y="-1" width="1.1" height="1.1" fill="#f0ec5f"/>
<rect x="7" y="-1" width="1.1" height="1.1" fill="#f8f6af"/>
<rect x="8" y="-1" width="1.1" height="1.1" fill="#f8f6af"/>
<rect x="9" y="-1" width="1.1" height="1.1" fill="#f0ec5f"/>
<rect x="10" y="-1" width="1.1" height="1.1" fill="#e2de12"/>
<rect x="11" y="-1" width="1.1" height="1.1" fill="#e2de12"/>
<rect x="12" y="-1" width="1.1" height="1.1" fill="#e2de12"/>
<rect x="-1" y="0" width="1.1" height="1.1" fill="#f8f6af"/>
<rect x="0" y="0" width="1.1" height="1.1" fill="#f8f6af"/>
<rect x="1" y="0" width="1.1" height="1.1" fill="#f8f6af"/>
<rect x="2" y="0" width="1.1" height="1.1" fill="#f8f6af"/>
<rect x="3" y="0" width="1.1" height="1.1" fill="#f0ec5f"/>
<rect x="4" y="0" width="1.1" height="1.1" fill="#e2de12"/>
<rect x="5" y="0" width="1.1" height="1.1" fill="#e2de12"/>
<rect x="6" y="0" width="1.1" height="1.1" fill="#f0ec5f"/>
<rect x="7" y="0" width="1.1" height="1.1" fill="#f8f6af"/>
<rect x="8" y="0" width="1.1" height="1.1" fill="#f8f6af"/>
<rect x="9" y="0" width="1.1" height="1.1" fill="#f0ec5f"/>
<rect x="10" y="0" width="1.1" height="1.1" fill="#e2de12"/>
<rect x="11" y="0" width="1.1" height="1.1" fill="#e2de12"/>
<rect x="12" y="0" width="1.1" height="1.1" fill="#e2de12"/>
<rect x="-1" y="1" width="1.1" height="1.1" fill="#f0ec5f"/>
<rect x="0" y="1" width="1.1" height="1.1" fill="#f0ec5f"/>
<rect x="1" y="1" width="1.1" height="1.1" fill="#f8f6af"/>
<rect x="2" y="1" width="1.1" height="1.1" fill="#f8f6af"/>
<rect x="3" y="1" width="1.1" height="1.1" fill="#f0ec5f"/>
<rect x="4" y="1" width="1.1" height="1.1" fill="#e2de12"/>
<rect x="5" y="1" width="1.1" height="1.1" fill="#e2de12"/>
<rect x="6" y="1" width="1.1" height="1.1" fill="#f0ec5f"/>
<rect x="7" y="1" width="1.1" height="1.1" fill="#f8f6af"/>
<rect x="8" y="1" width="1.1" height="1.1" fill="#f8f6af"/>
<rect x="9" y="1" width="1.1" height="1.1" fill="#f0ec5f"/>
<rect x="10" y="1" width="1.1" height="1.1" fill="#e2de12"/>
<rect x="11" y="1" width="1.1" height="1.1" fill="#e2de12"/>
<rect x="12" y="1" width="1.1" height="1.1" fill="#e2de12"/>
<rect x="-1" y="2" width="1.1" height="1.1" fill="#e2de12"/>
<rect x="0" y="2" width="1.1" height="1.1" fill="#e2de12"/>
<rect x="1" y="2" width="1.1" height="1.1" fill="#e2de12"/>
<rect x="2" y="2" width="1.1" height="1.1" fill="#f0ec5f"/>
<rect x="3" y="2" width="1.1" height="1.1" fill="#f0ec5f"/>
<rect x="4" y="2" width="1.1" height="1.1" fill="#e2de12"/>
<rect x="5" y="2" width="1.1" height="1.1" fill="#f0ec5f"/>
<rect x="6" y="2" width="1.1" height="1.1" fill="#f0ec5f"/>
<rect x="7" y="2" width="1.1" height="1.1" fill="#f8f6af"/>
<rect x="8" y="2" width="1.1" height="1.1" fill="#f0ec5f"/>
<rect x="9" y="2" width="1.1" height="1.1" fill="#e2de12"/>
<rect x="10" y="2" width="1.1" height="1.1" fill="#e2de12"/>
<rect x="11" y="2" width="1.1" height="1.1" fill="#e2de12"/>
<rect x="12" y="2" width="1.1" height="1.1" fill="#e2de12"/>
<rect x="-1" y="3" width="1.1" height="1.1" fill="#e2de12"/>
<rect x="0" y="3" width="1.1" height="1.1" fill="#e2de12"/>
<rect x="1" y="3" width="1.1" height="1.1" fill="#e2de12"/>
<rect x="2" y="3" width="1.1" height="1.1" fill="#f0ec5f"/>
<rect x="3" y="3" width="1.1" height="1.1" fill="#f0ec5f"/>
<rect x="4" y="3" width="1.1" height="1.1" fill="#f0ec5f"/>
<rect x="5" y="3" width="1.1" height="1.1" fill="#f8f6af"/>
<rect x="6" y="3" width="1.1" height="1.1" fill="#f0ec5f"/>
<rect x="7" y="3" width="1.1" height="1.1" fill="#f8f6af"/>
<rect x="8" y="3" width="1.1" height="1.1" fill="#f0ec5f"/>
<rect x="9" y="3" width="1.1" height="1.1" fill="#f0ec5f"/>
<rect x="10" y="3" width="1.1" height="1.1" fill="#f0ec5f"/>
<rect x="11" y="3" width="1.1" height="1.1" fill="#f0ec5f"/>
<rect x="12" y="3" width="1.1" height="1.1" fill="#f0ec5f"/>
<rect x="-1" y="4" width="1.1" height="1.1" fill="#e2de12"/>
<rect x="0" y="4" width="1.1" height="1.1" fill="#e2de12"/>
<rect x="1" y="4" width="1.1" height="1.1" fill="#f0ec5f"/>
<rect x="2" y="4" width="1.1" height="1.1" fill="#f0ec5f"/>
<rect x="3" y="4" width="1.1" height="1.1" fill="#f0ec5f"/>
<rect x="4" y="4" width="1.1" height="1.1" fill="#f8f6af"/>
<rect x="5" y="4" width="1.1" height="1.1" fill="#f8f6af"/>
<rect x="6" y="4" width="1.1" height="1.1" fill="#f8f6af"/>
<rect x="7" y="4" width="1.1" height="1.1" fill="#f0ec5f"/>
<rect x="8" y="4" width="1.1" height="1.1" fill="#f0ec5f"/>
<rect x="9" y="4" width="1.1" height="1.1" fill="#f0ec5f"/>
<rect x="10" y="4" width="1.1" height="1.1" fill="#f0ec5f"/>
<rect x="11" y="4" width="1.1" height="1.1" fill="#f0ec5f"/>
<rect x="12" y="4" width="1.1" height="1.1" fill="#f0ec5f"/>
<rect x="-1" y="5" width="1.1" height="1.1" fill="#e2de12"/>
<rect x="0" y="5" width="1.1" height="1.1" fill="#e2de12"/>
<rect x="1" y="5" width="1.1" height="1.1" fill="#e2de12"/>
<rect x="2" y="5" width="1.1" height="1.1" fill="#f0ec5f"/>
<rect x="3" y="5" width="1.1" height="1.1" fill="#f8f6af"/>
<rect x="4" y="5" width="1.1" height="1.1" fill="#f8f6af"/>
<rect x="5" y="5" width="1.1" height="1.1" fill="#f8f6af"/>
<rect x="6" y="5" width="1.1" height="1.1" fill="#f8f6af"/>
<rect x="7" y="5" width="1.1" height="1.1" fill="#f0ec5f"/>
<rect x="8" y="5" width="1.1" height="1.1" fill="#f0ec5f"/>
<rect x="9" y="5" width="1.1" height="1.1" fill="#e2de12"/>
<rect x="10" y="5" width="1.1" height="1.1" fill="#f0ec5f"/>
<rect x="11" y="5" width="1.1" height="1.1" fill="#f0ec5f"/>
<rect x="12" y="5" width="1.1" height="1.1" fill="#f0ec5f"/>
<rect x="-1" y="6" width="1.1" height="1.1" fill="#e8c412"/>
<rect x="0" y="6" width="1.1" height="1.1" fill="#e8c412"/>
<rect x="1" y="6" width="1.1" height="1.1" fill="#e2de12"/>
<rect x="2" y="6" width="1.1" height="1.1" fill="#f0ec5f"/>
<rect x="3" y="6" width="1.1" height="1.1" fill="#f0ec5f"/>
<rect x="4" y="6" width="1.1" height="1.1" fill="#f8f6af"/>
<rect x="5" y="6" width="1.1" height="1.1" fill="#f0ec5f"/>
<rect x="6" y="6" width="1.1" height="1.1" fill="#f0ec5f"/>
<rect x="7" y="6" width="1.1" height="1.1" fill="#e2de12"/>
<rect x="8" y="6" width="1.1" height="1.1" fill="#e2de12"/>
<rect x="9" y="6" width="1.1" height="1.1" fill="#e2de12"/>
<rect x="10" y="6" width="1.1" height="1.1" fill="#e2de12"/>
<rect x="11" y="6" width="1.1" height="1.1" fill="#e8c412"/>
<rect x="12" y="6" width="1.1" height="1.1" fill="#e8c412"/>
<rect x="-1" y="7" width="1.1" height="1.1" fill="#e2de12"/>
<rect x="0" y="7" width="1.1" height="1.1" fill="#e2de12"/>
<rect x="1" y="7" width="1.1" height="1.1" fill="#e2de12"/>
<rect x="2" y="7" width="1.1" height="1.1" fill="#f0ec5f"/>
<rect x="3" y="7" width="1.1" height="1.1" fill="#f0ec5f"/>
<rect x="4" y="7" width="1.1" height="1.1" fill="#f0ec5f"/>
<rect x="5" y="7" width="1.1" height="1.1" fill="#f0ec5f"/>
<rect x="6" y="7" width="1.1" height="1.1" fill="#e2de12"/>
<rect x="7" y="7" width="1.1" height="1.1" fill="#e2de12"/>
<rect x="8" y="7" width="1.1" height="1.1" fill="#e2de12"/>
<rect x="9" y="7" width="1.1" height="1.1" fill="#f0ec5f"/>
<rect x="10" y="7" width="1.1" height="1.1" fill="#e2de12"/>
<rect x="11" y="7" width="1.1" height="1.1" fill="#e2de12"/>
<rect x="12" y="7" width="1.1" height="1.1" fill="#e2de12"/>
<rect x="-1" y="8" width="1.1" height="1.1" fill="#f0ec5f"/>
<rect x="0" y="8" width="1.1" height="1.1" fill="#f0ec5f"/>
<rect x="1" y="8" width="1.1" height="1.1" fill="#f0ec5f"/>
<rect x="2" y="8" width="1.1" height="1.1" fill="#f8f6af"/>
<rect x="3" y="8" width="1.1" height="1.1" fill="#f0ec5f"/>
<rect x="4" y="8" width="1.1" height="1.1" fill="#e2de12"/>
<rect x="5" y="8" width="1.1" height="1.1" fill="#e2de12"/>
<rect x="6" y="8" width="1.1" height="1.1" fill="#f0ec5f"/>
<rect x="7" y="8" width="1.1" height="1.1" fill="#f0ec5f"/>
<rect x="8" y="8" width="1.1" height="1.1" fill="#f8f6af"/>
<rect x="9" y="8" width="1.1" height="1.1" fill="#f0ec5f"/>
<rect x="10" y="8" width="1.1" height="1.1" fill="#f0ec5f"/>
<rect x="11" y="8" width="1.1" height="1.1" fill="#f0ec5f"/>
<rect x="12" y="8" width="1.1" height="1.1" fill="#f0ec5f"/>
<rect x="-1" y="9" width="1.1" height="1.1" fill="#f8f6af"/>
<rect x="0" y="9" width="1.1" height="1.1" fill="#f8f6af"/>
<rect x="1" y="9" width="1.1" height="1.1" fill="#f8f6af"/>
<rect x="2" y="9" width="1.1" height="1.1" fill="#f0ec5f"/>
<rect x="3" y="9" width="1.1" height="1.1" fill="#f0ec5f"/>
<rect x="4" y="9" width="1.1" height="1.1" fill="#e2de12"/>
<rect x="5" y="9" width="1.1" height="1.1" fill="#e2de12"/>
<rect x="6" y="9" width="1.1" height="1.1" fill="#f0ec5f"/>
<rect x="7" y="9" width="1.1" height="1.1" fill="#f8f6af"/>
<rect x="8" y="9" width="1.1" height="1.1" fill="#f8f6af"/>
<rect x="9" y="9" width="1.1" height="1.1" fill="#f8f6af"/>
<rect x="10" y="9" width="1.1" height="1.1" fill="#f0ec5f"/>
<rect x="11" y="9" width="1.1" height="1.1" fill="#e2de12"/>
<rect x="12" y="9" width="1.1" height="1.1" fill="#e2de12"/>
<rect x="-1" y="10" width="1.1" height="1.1" fill="#f8f6af"/>
<rect x="0" y="10" width="1.1" height="1.1" fill="#f8f6af"/>
<rect x="1" y="10" width="1.1" height="1.1" fill="#f8f6af"/>
<rect x="2" y="10" width="1.1" height="1.1" fill="#f0ec5f"/>
<rect x="3" y="10" width="1.1" height="1.1" fill="#f0ec5f"/>
<rect x="4" y="10" width="1.1" height="1.1" fill="#f0ec5f"/>
<rect x="5" y="10" width="1.1" height="1.1" fill="#e2de12"/>
<rect x="6" y="10" width="1.1" height="1.1" fill="#e2de12"/>
<rect x="7" y="10" width="1.1" height="1.1" fill="#f0ec5f"/>
<rect x="8" y="10" width="1.1" height="1.1" fill="#f8f6af"/>
<rect x="9" y="10" width="1.1" height="1.1" fill="#f0ec5f"/>
<rect x="10" y="10" width="1.1" height="1.1" fill="#e2de12"/>
<rect x="11" y="10" width="1.1" height="1.1" fill="#e2de12"/>
<rect x="12" y="10" width="1.1" height="1.1" fill="#e2de12"/>
<rect x="-1" y="11" width="1.1" height="1.1" fill="#f8f6af"/>
<rect x="0" y="11" width="1.1" height="1.1" fill="#f8f6af"/>
<rect x="1" y="11" width="1.1" height="1.1" fill="#f0ec5f"/>
<rect x="2" y="11" width="1.1" height="1.1" fill="#f0ec5f"/>
<rect x="3" y="11" width="1.1" height="1.1" fill="#f0ec5f"/>
<rect x="4" y="11" width="1.1" height="1.1" fill="#e2de12"/>
<rect x="5" y="11" width="1.1" height="1.1" fill="#e2de12"/>
<rect x="6" y="11" width="1.1" height="1.1" fill="#e2de12"/>
<rect x="7" y="11" width="1.1" height="1.1" fill="#f0ec5f"/>
<rect x="8" y="11" width="1.1" height="1.1" fill="#f0ec5f"/>
<rect x="9" y="11" width="1.1" height="1.1" fill="#e2de12"/>
<rect x="10" y="11" width="1.1" height="1.1" fill="#e2de12"/>
<rect x="11" y="11" width="1.1" height="1.1" fill="#e2de12"/>
<rect x="12" y="11" width="1.1" height="1.1" fill="#e2de12"/>
<rect x="-1" y="12" width="1.1" height="1.1" fill="#f8f6af"/>
<rect x="0" y="12" width="1.1" height="1.1" fill="#f8f6af"/>
<rect x="1" y="12" width="1.1" height="1.1" fill="#f0ec5f"/>
<rect x="2" y="12" width="1.1" height="1.1" fill="#f0ec5f"/>
<rect x="3" y="12" width="1.1" height="1.1" fill="#f0ec5f"/>
<rect x="4" y="12" width="1.1" height="1.1" fill="#e2de12"/>
<rect x="5" y="12" width="1.1" height="1.1" fill="#e2de12"/>
<rect x="6" y="12" width="1.1" height="1.1" fill="#e2de12"/>
<rect x="7" y="12" width="1.1" height="1.1" fill="#f0ec5f"/>
<rect x="8" y="12" width="1.1" height="1.1" fill="#f0ec5f"/>
<rect x="9" y="12" width="1.1" height="1.1" fill="#e2de12"/>
<rect x="10" y="12" width="1.1" height="1.1" fill="#e2de12"/>
<rect x="11" y="12" width="1.1" height="1.1" fill="#e2de12"/>
<rect x="12" y="12" width="1.1" height="1.1" fill="#e2de12"/>
</g><rect x="135.40" y="159.80" width="63.60" height="63.50" filter="url(#grain)" opacity="0.18"/></g>
<rect x="136.30" y="160.70" width="61.80" height="61.70" fill="none" stroke="#eeee10" stroke-opacity="0.7" stroke-width="1"/>
<rect x="135.40" y="159.80" width="63.60" height="63.50" fill="none" stroke="#333" stroke-width="0.8"/>
<line x1="135.40" y1="223.30" x2="134.00" y2="223.30" stroke="#222" stroke-width="0.6"/>
<line x1="135.40" y1="220.90" x2="134.40" y2="220.90" stroke="#222" stroke-width="0.6"/>
<line x1="135.40" y1="218.51" x2="134.40" y2="218.51" stroke="#222" stroke-width="0.6"/>
<line x1="135.40" y1="216.11" x2="134.40" y2="216.11" stroke="#222" stroke-width="0.6"/>
<line x1="135.40" y1="213.72" x2="134.40" y2="213.72" stroke="#222" stroke-width="0.6"/>
<line x1="135.40" y1="211.32" x2="134.00" y2="211.32" stroke="#222" stroke-width="0.6"/>
<line x1="135.40" y1="208.92" x2="134.40" y2="208.92" stroke="#222" stroke-width="0.6"/>
<line x1="135.40" y1="206.53" x2="134.40" y2="206.53" stroke="#222" stroke-width="0.6"/>
<line x1="135.40" y1="204.13" x2="134.40" y2="204.13" stroke="#222" stroke-width="0.6"/>
<line x1="135.40" y1="201.73" x2="134.40" y2="201.73" stroke="#222" stroke-width="0.6"/>
<line x1="135.40" y1="199.34" x2="134.00" y2="199.34" stroke="#222" stroke-width="0.6"/>
<line x1="135.40" y1="196.94" x2="134.40" y2="196.94" stroke="#222" stroke-width="0.6"/>
<line x1="135.40" y1="194.55" x2="134.40" y2="194.55" stroke="#222" stroke-width="0.6"/>
<line x1="135.40" y1="192.15" x2="134.40" y2="192.15" stroke="#222" stroke-width="0.6"/>
<line x1="135.40" y1="189.75" x2="134.40" y2="189.75" stroke="#222" stroke-width="0.6"/>
<line x1="135.40" y1="187.36" x2="134.00" y2="187.36" stroke="#222" stroke-width="0.6"/>
<line x1="135.40" y1="184.96" x2="134.40" y2="184.96" stroke="#222" stroke-width="0.6"/>
<line x1="135.40" y1="182.56" x2="134.40" y2="182.56" stroke="#222" stroke-width="0.6"/>
<line x1="135.40" y1="180.17" x2="134.40" y2="180.17" stroke="#222" stroke-width="0.6"/>
<line x1="135.40" y1="177.77" x2="134.40" y2="177.77" stroke="#222" stroke-width="0.6"/>
<line x1="135.40" y1="175.38" x2="134.00" y2="175.38" stroke="#222" stroke-width="0.6"/>
<line x1="135.40" y1="172.98" x2="134.40" y2="172.98" stroke="#222" stroke-width="0.6"/>
<line x1="135.40" y1="170.58" x2="134.40" y2="170.58" stroke="#222" stroke-width="0.6"/>
<line x1="135.40" y1="168.19" x2="134.40" y2="168.19" stroke="#222" stroke-width="0.6"/>
<line x1="135.40" y1="165.79" x2="134.40" y2="165.79" stroke="#222" stroke-width="0.6"/>
<line x1="135.40" y1="163.39" x2="134.00" y2="163.39" stroke="#222" stroke-width="0.6"/>
<line x1="135.40" y1="161.00" x2="134.40" y2="161.00" stroke="#222" stroke-width="0.6"/>
<line x1="135.40" y1="223.30" x2="135.40" y2="224.40" stroke="#333" stroke-width="0.5"/>
<line x1="135.40" y1="159.80" x2="135.40" y2="158.70" stroke="#333" stroke-width="0.5"/>
<line x1="140.19" y1="223.30" x2="140.19" y2="224.00" stroke="#333" stroke-width="0.5"/>
<line x1="140.19" y1="159.80" x2="140.19" y2="159.10" stroke="#333" stroke-width="0.5"/>
<line x1="144.98" y1="223.30" x2="144.98" y2="224.00" stroke="#333" stroke-width="0.5"/>
<line x1="144.98" y1="159.80" x2="144.98" y2="159.10" stroke="#333" stroke-width="0.5"/>
<line x1="149.78" y1="223.30" x2="149.78" y2="224.00" stroke="#333" stroke-width="0.5"/>
<line x1="149.78" y1="159.80" x2="149.78" y2="159.10" stroke="#333" stroke-width="0.5"/>
<line x1="154.57" y1="223.30" x2="154.57" y2="224.00" stroke="#333" stroke-width="0.5"/>
<line x1="154.57" y1="159.80" x2="154.57" y2="159.10" stroke="#333" stroke-width="0.5"/>
<line x1="159.36" y1="223.30" x2="159.36" y2="224.40" stroke="#333" stroke-width="0.5"/>
<line x1="159.36" y1="159.80" x2="159.36" y2="158.70" stroke="#333" stroke-width="0.5"/>
<line x1="164.15" y1="223.30" x2="164.15" y2="224.00" stroke="#333" stroke-width="0.5"/>
<line x1="164.15" y1="159.80" x2="164.15" y2="159.10" stroke="#333" stroke-width="0.5"/>
<line x1="168.95" y1="223.30" x2="168.95" y2="224.00" stroke="#333" stroke-width="0.5"/>
<line x1="168.95" y1="159.80" x2="168.95" y2="159.10" stroke="#333" stroke-width="0.5"/>
<line x1="173.74" y1="223.30" x2="173.74" y2="224.00" stroke="#333" stroke-width="0.5"/>
<line x1="173.74" y1="159.80" x2="173.74" y2="159.10" stroke="#333" stroke-width="0.5"/>
<line x1="178.53" y1="223.30" x2="178.53" y2="224.00" stroke="#333" stroke-width="0.5"/>
<line x1="178.53" y1="159.80" x2="178.53" y2="159.10" stroke="#333" stroke-width="0.5"/>
<line x1="183.32" y1="223.30" x2="183.32" y2="224.40" stroke="#333" stroke-width="0.5"/>
<line x1="183.32" y1="159.80" x2="183.32" y2="158.70" stroke="#333" stroke-width="0.5"/>
<line x1="188.12" y1="223.30" x2="188.12" y2="224.00" stroke="#333" stroke-width="0.5"/>
<line x1="188.12" y1="159.80" x2="188.12" y2="159.10" stroke="#333" stroke-width="0.5"/>
<line x1="192.91" y1="223.30" x2="192.91" y2="224.00" stroke="#333" stroke-width="0.5"/>
<line x1="192.91" y1="159.80" x2="192.91" y2="159.10" stroke="#333" stroke-width="0.5"/>
<line x1="197.70" y1="223.30" x2="197.70" y2="224.00" stroke="#333" stroke-width="0.5"/>
<line x1="197.70" y1="159.80" x2="197.70" y2="159.10" stroke="#333" stroke-width="0.5"/>
<text x="133.60" y="212.32" style="font-family:'Liberation Sans',sans-serif;font-size:3px" fill="#555" text-anchor="end">10</text>
<text x="133.60" y="200.34" style="font-family:'Liberation Sans',sans-serif;font-size:3px" fill="#555" text-anchor="end">20</text>
<text x="133.60" y="188.36" style="font-family:'Liberation Sans',sans-serif;font-size:3px" fill="#555" text-anchor="end">30</text>
<text x="133.60" y="176.38" style="font-family:'Liberation Sans',sans-serif;font-size:3px" fill="#555" text-anchor="end">40</text>
<text x="133.60" y="224.30" style="font-family:'Liberation Sans',sans-serif;font-size:3px" fill="#555" text-anchor="end">0</text>
<text x="135.40" y="227.60" style="font-family:'Liberation Sans',sans-serif;font-size:3px" fill="#555" text-anchor="middle">0</text>
<text x="159.36" y="227.60" style="font-family:'Liberation Sans',sans-serif;font-size:3px" fill="#555" text-anchor="middle">20</text>
<text x="183.32" y="227.60" style="font-family:'Liberation Sans',sans-serif;font-size:3px" fill="#555" text-anchor="middle">40</text>
<line x1="125.40" y1="222.80" x2="126.80" y2="221.10" stroke="#3a3" stroke-width="0.7"/>
<rect x="202.30" y="160.40" width="5.00" height="62.90" fill="url(#cb)" stroke="#444" stroke-width="0.5"/>
<line x1="207.30" y1="167.39" x2="208.30" y2="167.39" stroke="#555" stroke-width="0.4"/>
<line x1="207.30" y1="174.38" x2="208.30" y2="174.38" stroke="#555" stroke-width="0.4"/>
<line x1="207.30" y1="181.37" x2="208.30" y2="181.37" stroke="#555" stroke-width="0.4"/>
<line x1="207.30" y1="188.36" x2="208.30" y2="188.36" stroke="#555" stroke-width="0.4"/>
<line x1="207.30" y1="195.34" x2="208.30" y2="195.34" stroke="#555" stroke-width="0.4"/>
<line x1="207.30" y1="202.33" x2="208.30" y2="202.33" stroke="#555" stroke-width="0.4"/>
<line x1="207.30" y1="209.32" x2="208.30" y2="209.32" stroke="#555" stroke-width="0.4"/>
<line x1="207.30" y1="216.31" x2="208.30" y2="216.31" stroke="#555" stroke-width="0.4"/>
<text x="208.90" y="161.30" style="font-family:'Liberation Sans',sans-serif;font-size:2.6px" fill="#888">10</text>
<text x="208.90" y="169.16" style="font-family:'Liberation Sans',sans-serif;font-size:2.6px" fill="#888">0.8</text>
<text x="208.90" y="177.03" style="font-family:'Liberation Sans',sans-serif;font-size:2.6px" fill="#888">0.7</text>
<text x="208.90" y="184.89" style="font-family:'Liberation Sans',sans-serif;font-size:2.6px" fill="#888">0.6</text>
<text x="208.90" y="192.75" style="font-family:'Liberation Sans',sans-serif;font-size:2.6px" fill="#888">0.4</text>
<text x="208.90" y="200.61" style="font-family:'Liberation Sans',sans-serif;font-size:2.6px" fill="#888">0.3</text>
<text x="208.90" y="208.48" style="font-family:'Liberation Sans',sans-serif;font-size:2.6px" fill="#888">0.2</text>
<text x="208.90" y="216.34" style="font-family:'Liberation Sans',sans-serif;font-size:2.6px" fill="#888">0.1</text>
<text x="208.90" y="224.20" style="font-family:'Liberation Sans',sans-serif;font-size:2.6px" fill="#888">0.0</text>
<g clip-path="url(#cpP1)"><g transform="translate(295.10 158.50) scale(5.2417 5.2333)" filter="url(#bl)">
<rect x="-1" y="-1" width="1.1" height="1.1" fill="#e2de12"/>
<rect x="0" y="-1" width="1.1" height="1.1" fill="#e2de12"/>
<rect x="1" y="-1" width="1.1" height="1.1" fill="#f0ec5f"/>
<rect x="2" y="-1" width="1.1" height="1.1" fill="#f0ec5f"/>
<rect x="3" y="-1" width="1.1" height="1.1" fill="#e2de12"/>
<rect x="4" y="-1" width="1.1" height="1.1" fill="#e2de12"/>
<rect x="5" y="-1" width="1.1" height="1.1" fill="#e88a16"/>
<rect x="6" y="-1" width="1.1" height="1.1" fill="#e88a16"/>
<rect x="7" y="-1" width="1.1" height="1.1" fill="#e8c412"/>
<rect x="8" y="-1" width="1.1" height="1.1" fill="#e2de12"/>
<rect x="9" y="-1" width="1.1" height="1.1" fill="#f0ec5f"/>
<rect x="10" y="-1" width="1.1" height="1.1" fill="#e2de12"/>
<rect x="11" y="-1" width="1.1" height="1.1" fill="#e2de12"/>
<rect x="12" y="-1" width="1.1" height="1.1" fill="#e2de12"/>
<rect x="-1" y="0" width="1.1" height="1.1" fill="#e2de12"/>
<rect x="0" y="0" width="1.1" height="1.1" fill="#e2de12"/>
<rect x="1" y="0" width="1.1" height="1.1" fill="#f0ec5f"/>
<rect x="2" y="0" width="1.1" height="1.1" fill="#f0ec5f"/>
<rect x="3" y="0" width="1.1" height="1.1" fill="#e2de12"/>
<rect x="4" y="0" width="1.1" height="1.1" fill="#e2de12"/>
<rect x="5" y="0" width="1.1" height="1.1" fill="#e88a16"/>
<rect x="6" y="0" width="1.1" height="1.1" fill="#e88a16"/>
<rect x="7" y="0" width="1.1" height="1.1" fill="#e8c412"/>
<rect x="8" y="0" width="1.1" height="1.1" fill="#e2de12"/>
<rect x="9" y="0" width="1.1" height="1.1" fill="#f0ec5f"/>
<rect x="10" y="0" width="1.1" height="1.1" fill="#e2de12"/>
<rect x="11" y="0" width="1.1" height="1.1" fill="#e2de12"/>
<rect x="12" y="0" width="1.1" height="1.1" fill="#e2de12"/>
<rect x="-1" y="1" width="1.1" height="1.1" fill="#f0ec5f"/>
<rect x="0" y="1" width="1.1" height="1.1" fill="#f0ec5f"/>
<rect x="1" y="1" width="1.1" height="1.1" fill="#f0ec5f"/>
<rect x="2" y="1" width="1.1" height="1.1" fill="#f8f6af"/>
<rect x="3" y="1" width="1.1" height="1.1" fill="#f0ec5f"/>
<rect x="4" y="1" width="1.1" height="1.1" fill="#e8c412"/>
<rect x="5" y="1" width="1.1" height="1.1" fill="#e88a16"/>
<rect x="6" y="1" width="1.1" height="1.1" fill="#da5612"/>
<rect x="7" y="1" width="1.1" height="1.1" fill="#e88a16"/>
<rect x="8" y="1" width="1.1" height="1.1" fill="#e8c412"/>
<rect x="9" y="1" width="1.1" height="1.1" fill="#f0ec5f"/>
<rect x="10" y="1" width="1.1" height="1.1" fill="#f0ec5f"/>
<rect x="11" y="1" width="1.1" height="1.1" fill="#e2de12"/>
<rect x="12" y="1" width="1.1" height="1.1" fill="#e2de12"/>
<rect x="-1" y="2" width="1.1" height="1.1" fill="#f0ec5f"/>
<rect x="0" y="2" width="1.1" height="1.1" fill="#f0ec5f"/>
<rect x="1" y="2" width="1.1" height="1.1" fill="#f8f6af"/>
<rect x="2" y="2" width="1.1" height="1.1" fill="#f0ec5f"/>
<rect x="3" y="2" width="1.1" height="1.1" fill="#f0ec5f"/>
<rect x="4" y="2" width="1.1" height="1.1" fill="#e2de12"/>
<rect x="5" y="2" width="1.1" height="1.1" fill="#e8c412"/>
<rect x="6" y="2" width="1.1" height="1.1" fill="#e88a16"/>
<rect x="7" y="2" width="1.1" height="1.1" fill="#e88a16"/>
<rect x="8" y="2" width="1.1" height="1.1" fill="#e8c412"/>
<rect x="9" y="2" width="1.1" height="1.1" fill="#e2de12"/>
<rect x="10" y="2" width="1.1" height="1.1" fill="#f0ec5f"/>
<rect x="11" y="2" width="1.1" height="1.1" fill="#f0ec5f"/>
<rect x="12" y="2" width="1.1" height="1.1" fill="#f0ec5f"/>
<rect x="-1" y="3" width="1.1" height="1.1" fill="#e2de12"/>
<rect x="0" y="3" width="1.1" height="1.1" fill="#e2de12"/>
<rect x="1" y="3" width="1.1" height="1.1" fill="#f0ec5f"/>
<rect x="2" y="3" width="1.1" height="1.1" fill="#f0ec5f"/>
<rect x="3" y="3" width="1.1" height="1.1" fill="#e8c412"/>
<rect x="4" y="3" width="1.1" height="1.1" fill="#e88a16"/>
<rect x="5" y="3" width="1.1" height="1.1" fill="#e2de12"/>
<rect x="6" y="3" width="1.1" height="1.1" fill="#e8c412"/>
<rect x="7" y="3" width="1.1" height="1.1" fill="#e88a16"/>
<rect x="8" y="3" width="1.1" height="1.1" fill="#e88a16"/>
<rect x="9" y="3" width="1.1" height="1.1" fill="#e8c412"/>
<rect x="10" y="3" width="1.1" height="1.1" fill="#f0ec5f"/>
<rect x="11" y="3" width="1.1" height="1.1" fill="#f0ec5f"/>
<rect x="12" y="3" width="1.1" height="1.1" fill="#f0ec5f"/>
<rect x="-1" y="4" width="1.1" height="1.1" fill="#e2de12"/>
<rect x="0" y="4" width="1.1" height="1.1" fill="#e2de12"/>
<rect x="1" y="4" width="1.1" height="1.1" fill="#f0ec5f"/>
<rect x="2" y="4" width="1.1" height="1.1" fill="#e88a16"/>
<rect x="3" y="4" width="1.1" height="1.1" fill="#e88a16"/>
<rect x="4" y="4" width="1.1" height="1.1" fill="#e2de12"/>
<rect x="5" y="4" width="1.1" height="1.1" fill="#f0ec5f"/>
<rect x="6" y="4" width="1.1" height="1.1" fill="#e8c412"/>
<rect x="7" y="4" width="1.1" height="1.1" fill="#e88a16"/>
<rect x="8" y="4" width="1.1" height="1.1" fill="#e88a16"/>
<rect x="9" y="4" width="1.1" height="1.1" fill="#e88a16"/>
<rect x="10" y="4" width="1.1" height="1.1" fill="#e88a16"/>
<rect x="11" y="4" width="1.1" height="1.1" fill="#e2de12"/>
<rect x="12" y="4" width="1.1" height="1.1" fill="#e2de12"/>
<rect x="-1" y="5" width="1.1" height="1.1" fill="#e2de12"/>
<rect x="0" y="5" width="1.1" height="1.1" fill="#e2de12"/>
<rect x="1" y="5" width="1.1" height="1.1" fill="#e8c412"/>
<rect x="2" y="5" width="1.1" height="1.1" fill="#e88a16"/>
<rect x="3" y="5" width="1.1" height="1.1" fill="#e8c412"/>
<rect x="4" y="5" width="1.1" height="1.1" fill="#e8c412"/>
<rect x="5" y="5" width="1.1" height="1.1" fill="#e88a16"/>
<rect x="6" y="5" width="1.1" height="1.1" fill="#e88a16"/>
<rect x="7" y="5" width="1.1" height="1.1" fill="#da5612"/>
<rect x="8" y="5" width="1.1" height="1.1" fill="#da5612"/>
<rect x="9" y="5" width="1.1" height="1.1" fill="#c8380c"/>
<rect x="10" y="5" width="1.1" height="1.1" fill="#da5612"/>
<rect x="11" y="5" width="1.1" height="1.1" fill="#e8c412"/>
<rect x="12" y="5" width="1.1" height="1.1" fill="#e8c412"/>
<rect x="-1" y="6" width="1.1" height="1.1" fill="#f0ec5f"/>
<rect x="0" y="6" width="1.1" height="1.1" fill="#f0ec5f"/>
<rect x="1" y="6" width="1.1" height="1.1" fill="#e2de12"/>
<rect x="2" y="6" width="1.1" height="1.1" fill="#e2de12"/>
<rect x="3" y="6" width="1.1" height="1.1" fill="#f0ec5f"/>
<rect x="4" y="6" width="1.1" height="1.1" fill="#e8c412"/>
<rect x="5" y="6" width="1.1" height="1.1" fill="#e88a16"/>
<rect x="6" y="6" width="1.1" height="1.1" fill="#e88a16"/>
<rect x="7" y="6" width="1.1" height="1.1" fill="#e8c412"/>
<rect x="8" y="6" width="1.1" height="1.1" fill="#da5612"/>
<rect x="9" y="6" width="1.1" height="1.1" fill="#c8380c"/>
<rect x="10" y="6" width="1.1" height="1.1" fill="#da5612"/>
<rect x="11" y="6" width="1.1" height="1.1" fill="#e88a16"/>
<rect x="12" y="6" width="1.1" height="1.1" fill="#e88a16"/>
<rect x="-1" y="7" width="1.1" height="1.1" fill="#f0ec5f"/>
<rect x="0" y="7" width="1.1" height="1.1" fill="#f0ec5f"/>
<rect x="1" y="7" width="1.1" height="1.1" fill="#e88a16"/>
<rect x="2" y="7" width="1.1" height="1.1" fill="#e2de12"/>
<rect x="3" y="7" width="1.1" height="1.1" fill="#f0ec5f"/>
<rect x="4" y="7" width="1.1" height="1.1" fill="#e2de12"/>
<rect x="5" y="7" width="1.1" height="1.1" fill="#e2de12"/>
<rect x="6" y="7" width="1.1" height="1.1" fill="#e8c412"/>
<rect x="7" y="7" width="1.1" height="1.1" fill="#e88a16"/>
<rect x="8" y="7" width="1.1" height="1.1" fill="#e88a16"/>
<rect x="9" y="7" width="1.1" height="1.1" fill="#da5612"/>
<rect x="10" y="7" width="1.1" height="1.1" fill="#e88a16"/>
<rect x="11" y="7" width="1.1" height="1.1" fill="#e8c412"/>
<rect x="12" y="7" width="1.1" height="1.1" fill="#e8c412"/>
<rect x="-1" y="8" width="1.1" height="1.1" fill="#f0ec5f"/>
<rect x="0" y="8" width="1.1" height="1.1" fill="#f0ec5f"/>
<rect x="1" y="8" width="1.1" height="1.1" fill="#e88a16"/>
<rect x="2" y="8" width="1.1" height="1.1" fill="#e2de12"/>
<rect x="3" y="8" width="1.1" height="1.1" fill="#f0ec5f"/>
<rect x="4" y="8" width="1.1" height="1.1" fill="#f0ec5f"/>
<rect x="5" y="8" width="1.1" height="1.1" fill="#e2de12"/>
<rect x="6" y="8" width="1.1" height="1.1" fill="#e88a16"/>
<rect x="7" y="8" width="1.1" height="1.1" fill="#da5612"/>
<rect x="8" y="8" width="1.1" height="1.1" fill="#e88a16"/>
<rect x="9" y="8" width="1.1" height="1.1" fill="#e8c412"/>
<rect x="10" y="8" width="1.1" height="1.1" fill="#e88a16"/>
<rect x="11" y="8" width="1.1" height="1.1" fill="#e2de12"/>
<rect x="12" y="8" width="1.1" height="1.1" fill="#e2de12"/>
<rect x="-1" y="9" width="1.1" height="1.1" fill="#f0ec5f"/>
<rect x="0" y="9" width="1.1" height="1.1" fill="#f0ec5f"/>
<rect x="1" y="9" width="1.1" height="1.1" fill="#e8c412"/>
<rect x="2" y="9" width="1.1" height="1.1" fill="#f0ec5f"/>
<rect x="3" y="9" width="1.1" height="1.1" fill="#f0ec5f"/>
<rect x="4" y="9" width="1.1" height="1.1" fill="#f0ec5f"/>
<rect x="5" y="9" width="1.1" height="1.1" fill="#e2de12"/>
<rect x="6" y="9" width="1.1" height="1.1" fill="#f0ec5f"/>
<rect x="7" y="9" width="1.1" height="1.1" fill="#e88a16"/>
<rect x="8" y="9" width="1.1" height="1.1" fill="#da5612"/>
<rect x="9" y="9" width="1.1" height="1.1" fill="#e88a16"/>
<rect x="10" y="9" width="1.1" height="1.1" fill="#e8c412"/>
<rect x="11" y="9" width="1.1" height="1.1" fill="#f0ec5f"/>
<rect x="12" y="9" width="1.1" height="1.1" fill="#f0ec5f"/>
<rect x="-1" y="10" width="1.1" height="1.1" fill="#f8f6af"/>
<rect x="0" y="10" width="1.1" height="1.1" fill="#f8f6af"/>
<rect x="1" y="10" width="1.1" height="1.1" fill="#f0ec5f"/>
<rect x="2" y="10" width="1.1" height="1.1" fill="#f0ec5f"/>
<rect x="3" y="10" width="1.1" height="1.1" fill="#f8f6af"/>
<rect x="4" y="10" width="1.1" height="1.1" fill="#f0ec5f"/>
<rect x="5" y="10" width="1.1" height="1.1" fill="#f0ec5f"/>
<rect x="6" y="10" width="1.1" height="1.1" fill="#f0ec5f"/>
<rect x="7" y="10" width="1.1" height="1.1" fill="#e2de12"/>
<rect x="8" y="10" width="1.1" height="1.1" fill="#e88a16"/>
<rect x="9" y="10" width="1.1" height="1.1" fill="#da5612"/>
<rect x="10" y="10" width="1.1" height="1.1" fill="#e88a16"/>
<rect x="11" y="10" width="1.1" height="1.1" fill="#f0ec5f"/>
<rect x="12" y="10" width="1.1" height="1.1" fill="#f0ec5f"/>
<rect x="-1" y="11" width="1.1" height="1.1" fill="#f8f6af"/>
<rect x="0" y="11" width="1.1" height="1.1" fill="#f8f6af"/>
<rect x="1" y="11" width="1.1" height="1.1" fill="#f8f6af"/>
<rect x="2" y="11" width="1.1" height="1.1" fill="#f0ec5f"/>
<rect x="3" y="11" width="1.1" height="1.1" fill="#f0ec5f"/>
<rect x="4" y="11" width="1.1" height="1.1" fill="#f8f6af"/>
<rect x="5" y="11" width="1.1" height="1.1" fill="#f0ec5f"/>
<rect x="6" y="11" width="1.1" height="1.1" fill="#f0ec5f"/>
<rect x="7" y="11" width="1.1" height="1.1" fill="#e2de12"/>
<rect x="8" y="11" width="1.1" height="1.1" fill="#e8c412"/>
<rect x="9" y="11" width="1.1" height="1.1" fill="#e88a16"/>
<rect x="10" y="11" width="1.1" height="1.1" fill="#e8c412"/>
<rect x="11" y="11" width="1.1" height="1.1" fill="#f0ec5f"/>
<rect x="12" y="11" width="1.1" height="1.1" fill="#f0ec5f"/>
<rect x="-1" y="12" width="1.1" height="1.1" fill="#f8f6af"/>
<rect x="0" y="12" width="1.1" height="1.1" fill="#f8f6af"/>
<rect x="1" y="12" width="1.1" height="1.1" fill="#f8f6af"/>
<rect x="2" y="12" width="1.1" height="1.1" fill="#f0ec5f"/>
<rect x="3" y="12" width="1.1" height="1.1" fill="#f0ec5f"/>
<rect x="4" y="12" width="1.1" height="1.1" fill="#f8f6af"/>
<rect x="5" y="12" width="1.1" height="1.1" fill="#f0ec5f"/>
<rect x="6" y="12" width="1.1" height="1.1" fill="#f0ec5f"/>
<rect x="7" y="12" width="1.1" height="1.1" fill="#e2de12"/>
<rect x="8" y="12" width="1.1" height="1.1" fill="#e8c412"/>
<rect x="9" y="12" width="1.1" height="1.1" fill="#e88a16"/>
<rect x="10" y="12" width="1.1" height="1.1" fill="#e8c412"/>
<rect x="11" y="12" width="1.1" height="1.1" fill="#f0ec5f"/>
<rect x="12" y="12" width="1.1" height="1.1" fill="#f0ec5f"/>
</g><rect x="295.10" y="158.50" width="62.90" height="62.80" filter="url(#grain)" opacity="0.18"/></g>
<rect x="296.00" y="159.40" width="61.10" height="61.00" fill="none" stroke="#eeee10" stroke-opacity="0.7" stroke-width="1"/>
<rect x="295.10" y="158.50" width="62.90" height="62.80" fill="none" stroke="#333" stroke-width="0.8"/>
<line x1="295.10" y1="221.30" x2="293.70" y2="221.30" stroke="#222" stroke-width="0.6"/>
<line x1="295.10" y1="218.93" x2="294.10" y2="218.93" stroke="#222" stroke-width="0.6"/>
<line x1="295.10" y1="216.56" x2="294.10" y2="216.56" stroke="#222" stroke-width="0.6"/>
<line x1="295.10" y1="214.19" x2="294.10" y2="214.19" stroke="#222" stroke-width="0.6"/>
<line x1="295.10" y1="211.82" x2="294.10" y2="211.82" stroke="#222" stroke-width="0.6"/>
<line x1="295.10" y1="209.45" x2="293.70" y2="209.45" stroke="#222" stroke-width="0.6"/>
<line x1="295.10" y1="207.08" x2="294.10" y2="207.08" stroke="#222" stroke-width="0.6"/>
<line x1="295.10" y1="204.71" x2="294.10" y2="204.71" stroke="#222" stroke-width="0.6"/>
<line x1="295.10" y1="202.34" x2="294.10" y2="202.34" stroke="#222" stroke-width="0.6"/>
<line x1="295.10" y1="199.97" x2="294.10" y2="199.97" stroke="#222" stroke-width="0.6"/>
<line x1="295.10" y1="197.60" x2="293.70" y2="197.60" stroke="#222" stroke-width="0.6"/>
<line x1="295.10" y1="195.23" x2="294.10" y2="195.23" stroke="#222" stroke-width="0.6"/>
<line x1="295.10" y1="192.86" x2="294.10" y2="192.86" stroke="#222" stroke-width="0.6"/>
<line x1="295.10" y1="190.49" x2="294.10" y2="190.49" stroke="#222" stroke-width="0.6"/>
<line x1="295.10" y1="188.12" x2="294.10" y2="188.12" stroke="#222" stroke-width="0.6"/>
<line x1="295.10" y1="185.75" x2="293.70" y2="185.75" stroke="#222" stroke-width="0.6"/>
<line x1="295.10" y1="183.38" x2="294.10" y2="183.38" stroke="#222" stroke-width="0.6"/>
<line x1="295.10" y1="181.01" x2="294.10" y2="181.01" stroke="#222" stroke-width="0.6"/>
<line x1="295.10" y1="178.64" x2="294.10" y2="178.64" stroke="#222" stroke-width="0.6"/>
<line x1="295.10" y1="176.27" x2="294.10" y2="176.27" stroke="#222" stroke-width="0.6"/>
<line x1="295.10" y1="173.90" x2="293.70" y2="173.90" stroke="#222" stroke-width="0.6"/>
<line x1="295.10" y1="171.53" x2="294.10" y2="171.53" stroke="#222" stroke-width="0.6"/>
<line x1="295.10" y1="169.16" x2="294.10" y2="169.16" stroke="#222" stroke-width="0.6"/>
<line x1="295.10" y1="166.79" x2="294.10" y2="166.79" stroke="#222" stroke-width="0.6"/>
<line x1="295.10" y1="164.42" x2="294.10" y2="164.42" stroke="#222" stroke-width="0.6"/>
<line x1="295.10" y1="162.05" x2="293.70" y2="162.05" stroke="#222" stroke-width="0.6"/>
<line x1="295.10" y1="159.68" x2="294.10" y2="159.68" stroke="#222" stroke-width="0.6"/>
<line x1="295.10" y1="221.30" x2="295.10" y2="222.40" stroke="#333" stroke-width="0.5"/>
<line x1="295.10" y1="158.50" x2="295.10" y2="157.40" stroke="#333" stroke-width="0.5"/>
<line x1="299.84" y1="221.30" x2="299.84" y2="222.00" stroke="#333" stroke-width="0.5"/>
<line x1="299.84" y1="158.50" x2="299.84" y2="157.80" stroke="#333" stroke-width="0.5"/>
<line x1="304.58" y1="221.30" x2="304.58" y2="222.00" stroke="#333" stroke-width="0.5"/>
<line x1="304.58" y1="158.50" x2="304.58" y2="157.80" stroke="#333" stroke-width="0.5"/>
<line x1="309.32" y1="221.30" x2="309.32" y2="222.00" stroke="#333" stroke-width="0.5"/>
<line x1="309.32" y1="158.50" x2="309.32" y2="157.80" stroke="#333" stroke-width="0.5"/>
<line x1="314.06" y1="221.30" x2="314.06" y2="222.00" stroke="#333" stroke-width="0.5"/>
<line x1="314.06" y1="158.50" x2="314.06" y2="157.80" stroke="#333" stroke-width="0.5"/>
<line x1="318.80" y1="221.30" x2="318.80" y2="222.40" stroke="#333" stroke-width="0.5"/>
<line x1="318.80" y1="158.50" x2="318.80" y2="157.40" stroke="#333" stroke-width="0.5"/>
<line x1="323.54" y1="221.30" x2="323.54" y2="222.00" stroke="#333" stroke-width="0.5"/>
<line x1="323.54" y1="158.50" x2="323.54" y2="157.80" stroke="#333" stroke-width="0.5"/>
<line x1="328.28" y1="221.30" x2="328.28" y2="222.00" stroke="#333" stroke-width="0.5"/>
<line x1="328.28" y1="158.50" x2="328.28" y2="157.80" stroke="#333" stroke-width="0.5"/>
<line x1="333.02" y1="221.30" x2="333.02" y2="222.00" stroke="#333" stroke-width="0.5"/>
<line x1="333.02" y1="158.50" x2="333.02" y2="157.80" stroke="#333" stroke-width="0.5"/>
<line x1="337.76" y1="221.30" x2="337.76" y2="222.00" stroke="#333" stroke-width="0.5"/>
<line x1="337.76" y1="158.50" x2="337.76" y2="157.80" stroke="#333" stroke-width="0.5"/>
<line x1="342.50" y1="221.30" x2="342.50" y2="222.40" stroke="#333" stroke-width="0.5"/>
<line x1="342.50" y1="158.50" x2="342.50" y2="157.40" stroke="#333" stroke-width="0.5"/>
<line x1="347.24" y1="221.30" x2="347.24" y2="222.00" stroke="#333" stroke-width="0.5"/>
<line x1="347.24" y1="158.50" x2="347.24" y2="157.80" stroke="#333" stroke-width="0.5"/>
<line x1="351.98" y1="221.30" x2="351.98" y2="222.00" stroke="#333" stroke-width="0.5"/>
<line x1="351.98" y1="158.50" x2="351.98" y2="157.80" stroke="#333" stroke-width="0.5"/>
<line x1="356.72" y1="221.30" x2="356.72" y2="222.00" stroke="#333" stroke-width="0.5"/>
<line x1="356.72" y1="158.50" x2="356.72" y2="157.80" stroke="#333" stroke-width="0.5"/>
<text x="293.30" y="210.45" style="font-family:'Liberation Sans',sans-serif;font-size:3px" fill="#555" text-anchor="end">10</text>
<text x="293.30" y="198.60" style="font-family:'Liberation Sans',sans-serif;font-size:3px" fill="#555" text-anchor="end">20</text>
<text x="293.30" y="186.75" style="font-family:'Liberation Sans',sans-serif;font-size:3px" fill="#555" text-anchor="end">30</text>
<text x="293.30" y="174.90" style="font-family:'Liberation Sans',sans-serif;font-size:3px" fill="#555" text-anchor="end">40</text>
<text x="293.30" y="222.30" style="font-family:'Liberation Sans',sans-serif;font-size:3px" fill="#555" text-anchor="end">0</text>
<text x="295.10" y="225.60" style="font-family:'Liberation Sans',sans-serif;font-size:3px" fill="#555" text-anchor="middle">0</text>
<text x="318.80" y="225.60" style="font-family:'Liberation Sans',sans-serif;font-size:3px" fill="#555" text-anchor="middle">20</text>
<text x="342.50" y="225.60" style="font-family:'Liberation Sans',sans-serif;font-size:3px" fill="#555" text-anchor="middle">40</text>
<line x1="285.10" y1="220.80" x2="286.50" y2="219.10" stroke="#3a3" stroke-width="0.7"/>
<rect x="362.30" y="159.20" width="5.00" height="62.10" fill="url(#cb)" stroke="#444" stroke-width="0.5"/>
<line x1="367.30" y1="166.10" x2="368.30" y2="166.10" stroke="#555" stroke-width="0.4"/>
<line x1="367.30" y1="173.00" x2="368.30" y2="173.00" stroke="#555" stroke-width="0.4"/>
<line x1="367.30" y1="179.90" x2="368.30" y2="179.90" stroke="#555" stroke-width="0.4"/>
<line x1="367.30" y1="186.80" x2="368.30" y2="186.80" stroke="#555" stroke-width="0.4"/>
<line x1="367.30" y1="193.70" x2="368.30" y2="193.70" stroke="#555" stroke-width="0.4"/>
<line x1="367.30" y1="200.60" x2="368.30" y2="200.60" stroke="#555" stroke-width="0.4"/>
<line x1="367.30" y1="207.50" x2="368.30" y2="207.50" stroke="#555" stroke-width="0.4"/>
<line x1="367.30" y1="214.40" x2="368.30" y2="214.40" stroke="#555" stroke-width="0.4"/>
<text x="368.90" y="160.10" style="font-family:'Liberation Sans',sans-serif;font-size:2.6px" fill="#888">10</text>
<text x="368.90" y="167.86" style="font-family:'Liberation Sans',sans-serif;font-size:2.6px" fill="#888">0.8</text>
<text x="368.90" y="175.62" style="font-family:'Liberation Sans',sans-serif;font-size:2.6px" fill="#888">0.7</text>
<text x="368.90" y="183.39" style="font-family:'Liberation Sans',sans-serif;font-size:2.6px" fill="#888">0.6</text>
<text x="368.90" y="191.15" style="font-family:'Liberation Sans',sans-serif;font-size:2.6px" fill="#888">0.4</text>
<text x="368.90" y="198.91" style="font-family:'Liberation Sans',sans-serif;font-size:2.6px" fill="#888">0.3</text>
<text x="368.90" y="206.68" style="font-family:'Liberation Sans',sans-serif;font-size:2.6px" fill="#888">0.2</text>
<text x="368.90" y="214.44" style="font-family:'Liberation Sans',sans-serif;font-size:2.6px" fill="#888">0.1</text>
<text x="368.90" y="222.20" style="font-family:'Liberation Sans',sans-serif;font-size:2.6px" fill="#888">0.0</text>
<g clip-path="url(#cpC1)"><g transform="translate(455.30 160.40) scale(5.2750 5.2750)" filter="url(#bl)">
<rect x="-1" y="-1" width="1.1" height="1.1" fill="#e2de12"/>
<rect x="0" y="-1" width="1.1" height="1.1" fill="#e2de12"/>
<rect x="1" y="-1" width="1.1" height="1.1" fill="#e2de12"/>
<rect x="2" y="-1" width="1.1" height="1.1" fill="#e8c412"/>
<rect x="3" y="-1" width="1.1" height="1.1" fill="#e88a16"/>
<rect x="4" y="-1" width="1.1" height="1.1" fill="#e8c412"/>
<rect x="5" y="-1" width="1.1" height="1.1" fill="#e2de12"/>
<rect x="6" y="-1" width="1.1" height="1.1" fill="#e2de12"/>
<rect x="7" y="-1" width="1.1" height="1.1" fill="#e8c412"/>
<rect x="8" y="-1" width="1.1" height="1.1" fill="#e2de12"/>
<rect x="9" y="-1" width="1.1" height="1.1" fill="#e2de12"/>
<rect x="10" y="-1" width="1.1" height="1.1" fill="#e8c412"/>
<rect x="11" y="-1" width="1.1" height="1.1" fill="#e2de12"/>
<rect x="12" y="-1" width="1.1" height="1.1" fill="#e2de12"/>
<rect x="-1" y="0" width="1.1" height="1.1" fill="#e2de12"/>
<rect x="0" y="0" width="1.1" height="1.1" fill="#e2de12"/>
<rect x="1" y="0" width="1.1" height="1.1" fill="#e2de12"/>
<rect x="2" y="0" width="1.1" height="1.1" fill="#e8c412"/>
<rect x="3" y="0" width="1.1" height="1.1" fill="#e88a16"/>
<rect x="4" y="0" width="1.1" height="1.1" fill="#e8c412"/>
<rect x="5" y="0" width="1.1" height="1.1" fill="#e2de12"/>
<rect x="6" y="0" width="1.1" height="1.1" fill="#e2de12"/>
<rect x="7" y="0" width="1.1" height="1.1" fill="#e8c412"/>
<rect x="8" y="0" width="1.1" height="1.1" fill="#e2de12"/>
<rect x="9" y="0" width="1.1" height="1.1" fill="#e2de12"/>
<rect x="10" y="0" width="1.1" height="1.1" fill="#e8c412"/>
<rect x="11" y="0" width="1.1" height="1.1" fill="#e2de12"/>
<rect x="12" y="0" width="1.1" height="1.1" fill="#e2de12"/>
<rect x="-1" y="1" width="1.1" height="1.1" fill="#e2de12"/>
<rect x="0" y="1" width="1.1" height="1.1" fill="#e2de12"/>
<rect x="1" y="1" width="1.1" height="1.1" fill="#e8c412"/>
<rect x="2" y="1" width="1.1" height="1.1" fill="#e8c412"/>
<rect x="3" y="1" width="1.1" height="1.1" fill="#e8c412"/>
<rect x="4" y="1" width="1.1" height="1.1" fill="#e8c412"/>
<rect x="5" y="1" width="1.1" height="1.1" fill="#e2de12"/>
<rect x="6" y="1" width="1.1" height="1.1" fill="#e2de12"/>
<rect x="7" y="1" width="1.1" height="1.1" fill="#e2de12"/>
<rect x="8" y="1" width="1.1" height="1.1" fill="#e8c412"/>
<rect x="9" y="1" width="1.1" height="1.1" fill="#e2de12"/>
<rect x="10" y="1" width="1.1" height="1.1" fill="#e2de12"/>
<rect x="11" y="1" width="1.1" height="1.1" fill="#e2de12"/>
<rect x="12" y="1" width="1.1" height="1.1" fill="#e2de12"/>
<rect x="-1" y="2" width="1.1" height="1.1" fill="#e2de12"/>
<rect x="0" y="2" width="1.1" height="1.1" fill="#e2de12"/>
<rect x="1" y="2" width="1.1" height="1.1" fill="#e8c412"/>
<rect x="2" y="2" width="1.1" height="1.1" fill="#f0ec5f"/>
<rect x="3" y="2" width="1.1" height="1.1" fill="#f0ec5f"/>
<rect x="4" y="2" width="1.1" height="1.1" fill="#e2de12"/>
<rect x="5" y="2" width="1.1" height="1.1" fill="#e2de12"/>
<rect x="6" y="2" width="1.1" height="1.1" fill="#e2de12"/>
<rect x="7" y="2" width="1.1" height="1.1" fill="#e2de12"/>
<rect x="8" y="2" width="1.1" height="1.1" fill="#e2de12"/>
<rect x="9" y="2" width="1.1" height="1.1" fill="#e8c412"/>
<rect x="10" y="2" width="1.1" height="1.1" fill="#e2de12"/>
<rect x="11" y="2" width="1.1" height="1.1" fill="#e2de12"/>
<rect x="12" y="2" width="1.1" height="1.1" fill="#e2de12"/>
<rect x="-1" y="3" width="1.1" height="1.1" fill="#e2de12"/>
<rect x="0" y="3" width="1.1" height="1.1" fill="#e2de12"/>
<rect x="1" y="3" width="1.1" height="1.1" fill="#e2de12"/>
<rect x="2" y="3" width="1.1" height="1.1" fill="#f0ec5f"/>
<rect x="3" y="3" width="1.1" height="1.1" fill="#f0ec5f"/>
<rect x="4" y="3" width="1.1" height="1.1" fill="#e2de12"/>
<rect x="5" y="3" width="1.1" height="1.1" fill="#e2de12"/>
<rect x="6" y="3" width="1.1" height="1.1" fill="#e2de12"/>
<rect x="7" y="3" width="1.1" height="1.1" fill="#f0ec5f"/>
<rect x="8" y="3" width="1.1" height="1.1" fill="#f0ec5f"/>
<rect x="9" y="3" width="1.1" height="1.1" fill="#e2de12"/>
<rect x="10" y="3" width="1.1" height="1.1" fill="#e2de12"/>
<rect x="11" y="3" width="1.1" height="1.1" fill="#e2de12"/>
<rect x="12" y="3" width="1.1" height="1.1" fill="#e2de12"/>
<rect x="-1" y="4" width="1.1" height="1.1" fill="#e2de12"/>
<rect x="0" y="4" width="1.1" height="1.1" fill="#e2de12"/>
<rect x="1" y="4" width="1.1" height="1.1" fill="#e8c412"/>
<rect x="2" y="4" width="1.1" height="1.1" fill="#e2de12"/>
<rect x="3" y="4" width="1.1" height="1.1" fill="#e2de12"/>
<rect x="4" y="4" width="1.1" height="1.1" fill="#e8c412"/>
<rect x="5" y="4" width="1.1" height="1.1" fill="#e2de12"/>
<rect x="6" y="4" width="1.1" height="1.1" fill="#e2de12"/>
<rect x="7" y="4" width="1.1" height="1.1" fill="#f0ec5f"/>
<rect x="8" y="4" width="1.1" height="1.1" fill="#f0ec5f"/>
<rect x="9" y="4" width="1.1" height="1.1" fill="#e2de12"/>
<rect x="10" y="4" width="1.1" height="1.1" fill="#e8c412"/>
<rect x="11" y="4" width="1.1" height="1.1" fill="#e2de12"/>
<rect x="12" y="4" width="1.1" height="1.1" fill="#e2de12"/>
<rect x="-1" y="5" width="1.1" height="1.1" fill="#e88a16"/>
<rect x="0" y="5" width="1.1" height="1.1" fill="#e88a16"/>
<rect x="1" y="5" width="1.1" height="1.1" fill="#e8c412"/>
<rect x="2" y="5" width="1.1" height="1.1" fill="#e8c412"/>
<rect x="3" y="5" width="1.1" height="1.1" fill="#e2de12"/>
<rect x="4" y="5" width="1.1" height="1.1" fill="#e2de12"/>
<rect x="5" y="5" width="1.1" height="1.1" fill="#e2de12"/>
<rect x="6" y="5" width="1.1" height="1.1" fill="#e2de12"/>
<rect x="7" y="5" width="1.1" height="1.1" fill="#e2de12"/>
<rect x="8" y="5" width="1.1" height="1.1" fill="#e2de12"/>
<rect x="9" y="5" width="1.1" height="1.1" fill="#e8c412"/>
<rect x="10" y="5" width="1.1" height="1.1" fill="#e8c412"/>
<rect x="11" y="5" width="1.1" height="1.1" fill="#e2de12"/>
<rect x="12" y="5" width="1.1" height="1.1" fill="#e2de12"/>
<rect x="-1" y="6" width="1.1" height="1.1" fill="#e8c412"/>
<rect x="0" y="6" width="1.1" height="1.1" fill="#e8c412"/>
<rect x="1" y="6" width="1.1" height="1.1" fill="#e88a16"/>
<rect x="2" y="6" width="1.1" height="1.1" fill="#e8c412"/>
<rect x="3" y="6" width="1.1" height="1.1" fill="#e2de12"/>
<rect x="4" y="6" width="1.1" height="1.1" fill="#e8c412"/>
<rect x="5" y="6" width="1.1" height="1.1" fill="#e2de12"/>
<rect x="6" y="6" width="1.1" height="1.1" fill="#e8c412"/>
<rect x="7" y="6" width="1.1" height="1.1" fill="#e2de12"/>
<rect x="8" y="6" width="1.1" height="1.1" fill="#e8c412"/>
<rect x="9" y="6" width="1.1" height="1.1" fill="#e8c412"/>
<rect x="10" y="6" width="1.1" height="1.1" fill="#e88a16"/>
<rect x="11" y="6" width="1.1" height="1.1" fill="#e8c412"/>
<rect x="12" y="6" width="1.1" height="1.1" fill="#e8c412"/>
<rect x="-1" y="7" width="1.1" height="1.1" fill="#e2de12"/>
<rect x="0" y="7" width="1.1" height="1.1" fill="#e2de12"/>
<rect x="1" y="7" width="1.1" height="1.1" fill="#e8c412"/>
<rect x="2" y="7" width="1.1" height="1.1" fill="#e8c412"/>
<rect x="3" y="7" width="1.1" height="1.1" fill="#e2de12"/>
<rect x="4" y="7" width="1.1" height="1.1" fill="#e8c412"/>
<rect x="5" y="7" width="1.1" height="1.1" fill="#e8c412"/>
<rect x="6" y="7" width="1.1" height="1.1" fill="#e88a16"/>
<rect x="7" y="7" width="1.1" height="1.1" fill="#e8c412"/>
<rect x="8" y="7" width="1.1" height="1.1" fill="#e88a16"/>
<rect x="9" y="7" width="1.1" height="1.1" fill="#e8c412"/>
<rect x="10" y="7" width="1.1" height="1.1" fill="#e8c412"/>
<rect x="11" y="7" width="1.1" height="1.1" fill="#e2de12"/>
<rect x="12" y="7" width="1.1" height="1.1" fill="#e2de12"/>
<rect x="-1" y="8" width="1.1" height="1.1" fill="#e2de12"/>
<rect x="0" y="8" width="1.1" height="1.1" fill="#e2de12"/>
<rect x="1" y="8" width="1.1" height="1.1" fill="#e8c412"/>
<rect x="2" y="8" width="1.1" height="1.1" fill="#e88a16"/>
<rect x="3" y="8" width="1.1" height="1.1" fill="#e8c412"/>
<rect x="4" y="8" width="1.1" height="1.1" fill="#e2de12"/>
<rect x="5" y="8" width="1.1" height="1.1" fill="#e2de12"/>
<rect x="6" y="8" width="1.1" height="1.1" fill="#f0ec5f"/>
<rect x="7" y="8" width="1.1" height="1.1" fill="#e8c412"/>
<rect x="8" y="8" width="1.1" height="1.1" fill="#e8c412"/>
<rect x="9" y="8" width="1.1" height="1.1" fill="#e8c412"/>
<rect x="10" y="8" width="1.1" height="1.1" fill="#e2de12"/>
<rect x="11" y="8" width="1.1" height="1.1" fill="#e2de12"/>
<rect x="12" y="8" width="1.1" height="1.1" fill="#e2de12"/>
<rect x="-1" y="9" width="1.1" height="1.1" fill="#e2de12"/>
<rect x="0" y="9" width="1.1" height="1.1" fill="#e2de12"/>
<rect x="1" y="9" width="1.1" height="1.1" fill="#e8c412"/>
<rect x="2" y="9" width="1.1" height="1.1" fill="#e8c412"/>
<rect x="3" y="9" width="1.1" height="1.1" fill="#e8c412"/>
<rect x="4" y="9" width="1.1" height="1.1" fill="#e2de12"/>
<rect x="5" y="9" width="1.1" height="1.1" fill="#f0ec5f"/>
<rect x="6" y="9" width="1.1" height="1.1" fill="#f8f6af"/>
<rect x="7" y="9" width="1.1" height="1.1" fill="#f0ec5f"/>
<rect x="8" y="9" width="1.1" height="1.1" fill="#e2de12"/>
<rect x="9" y="9" width="1.1" height="1.1" fill="#e8c412"/>
<rect x="10" y="9" width="1.1" height="1.1" fill="#e2de12"/>
<rect x="11" y="9" width="1.1" height="1.1" fill="#e2de12"/>
<rect x="12" y="9" width="1.1" height="1.1" fill="#e2de12"/>
<rect x="-1" y="10" width="1.1" height="1.1" fill="#e2de12"/>
<rect x="0" y="10" width="1.1" height="1.1" fill="#e2de12"/>
<rect x="1" y="10" width="1.1" height="1.1" fill="#e8c412"/>
<rect x="2" y="10" width="1.1" height="1.1" fill="#e88a16"/>
<rect x="3" y="10" width="1.1" height="1.1" fill="#e8c412"/>
<rect x="4" y="10" width="1.1" height="1.1" fill="#e2de12"/>
<rect x="5" y="10" width="1.1" height="1.1" fill="#f0ec5f"/>
<rect x="6" y="10" width="1.1" height="1.1" fill="#f8f6af"/>
<rect x="7" y="10" width="1.1" height="1.1" fill="#f0ec5f"/>
<rect x="8" y="10" width="1.1" height="1.1" fill="#e8c412"/>
<rect x="9" y="10" width="1.1" height="1.1" fill="#e2de12"/>
<rect x="10" y="10" width="1.1" height="1.1" fill="#e2de12"/>
<rect x="11" y="10" width="1.1" height="1.1" fill="#e2de12"/>
<rect x="12" y="10" width="1.1" height="1.1" fill="#e2de12"/>
<rect x="-1" y="11" width="1.1" height="1.1" fill="#e2de12"/>
<rect x="0" y="11" width="1.1" height="1.1" fill="#e2de12"/>
<rect x="1" y="11" width="1.1" height="1.1" fill="#e2de12"/>
<rect x="2" y="11" width="1.1" height="1.1" fill="#e8c412"/>
<rect x="3" y="11" width="1.1" height="1.1" fill="#e8c412"/>
<rect x="4" y="11" width="1.1" height="1.1" fill="#e2de12"/>
<rect x="5" y="11" width="1.1" height="1.1" fill="#e2de12"/>
<rect x="6" y="11" width="1.1" height="1.1" fill="#f0ec5f"/>
<rect x="7" y="11" width="1.1" height="1.1" fill="#e2de12"/>
<rect x="8" y="11" width="1.1" height="1.1" fill="#e2de12"/>
<rect x="9" y="11" width="1.1" height="1.1" fill="#e2de12"/>
<rect x="10" y="11" width="1.1" height="1.1" fill="#e2de12"/>
<rect x="11" y="11" width="1.1" height="1.1" fill="#e2de12"/>
<rect x="12" y="11" width="1.1" height="1.1" fill="#e2de12"/>
<rect x="-1" y="12" width="1.1" height="1.1" fill="#e2de12"/>
<rect x="0" y="12" width="1.1" height="1.1" fill="#e2de12"/>
<rect x="1" y="12" width="1.1" height="1.1" fill="#e2de12"/>
<rect x="2" y="12" width="1.1" height="1.1" fill="#e8c412"/>
<rect x="3" y="12" width="1.1" height="1.1" fill="#e8c412"/>
<rect x="4" y="12" width="1.1" height="1.1" fill="#e2de12"/>
<rect x="5" y="12" width="1.1" height="1.1" fill="#e2de12"/>
<rect x="6" y="12" width="1.1" height="1.1" fill="#f0ec5f"/>
<rect x="7" y="12" width="1.1" height="1.1" fill="#e2de12"/>
<rect x="8" y="12" width="1.1" height="1.1" fill="#e2de12"/>
<rect x="9" y="12" width="1.1" height="1.1" fill="#e2de12"/>
<rect x="10" y="12" width="1.1" height="1.1" fill="#e2de12"/>
<rect x="11" y="12" width="1.1" height="1.1" fill="#e2de12"/>
<rect x="12" y="12" width="1.1" height="1.1" fill="#e2de12"/>
</g><rect x="455.30" y="160.40" width="63.30" height="63.30" filter="url(#grain)" opacity="0.18"/></g>
<rect x="456.20" y="161.30" width="61.50" height="61.50" fill="none" stroke="#eeee10" stroke-opacity="0.7" stroke-width="1"/>
<rect x="455.30" y="160.40" width="63.30" height="63.30" fill="none" stroke="#333" stroke-width="0.8"/>
<line x1="455.30" y1="223.70" x2="453.90" y2="223.70" stroke="#222" stroke-width="0.6"/>
<line x1="455.30" y1="221.31" x2="454.30" y2="221.31" stroke="#222" stroke-width="0.6"/>
<line x1="455.30" y1="218.92" x2="454.30" y2="218.92" stroke="#222" stroke-width="0.6"/>
<line x1="455.30" y1="216.53" x2="454.30" y2="216.53" stroke="#222" stroke-width="0.6"/>
<line x1="455.30" y1="214.15" x2="454.30" y2="214.15" stroke="#222" stroke-width="0.6"/>
<line x1="455.30" y1="211.76" x2="453.90" y2="211.76" stroke="#222" stroke-width="0.6"/>
<line x1="455.30" y1="209.37" x2="454.30" y2="209.37" stroke="#222" stroke-width="0.6"/>
<line x1="455.30" y1="206.98" x2="454.30" y2="206.98" stroke="#222" stroke-width="0.6"/>
<line x1="455.30" y1="204.59" x2="454.30" y2="204.59" stroke="#222" stroke-width="0.6"/>
<line x1="455.30" y1="202.20" x2="454.30" y2="202.20" stroke="#222" stroke-width="0.6"/>
<line x1="455.30" y1="199.81" x2="453.90" y2="199.81" stroke="#222" stroke-width="0.6"/>
<line x1="455.30" y1="197.42" x2="454.30" y2="197.42" stroke="#222" stroke-width="0.6"/>
<line x1="455.30" y1="195.04" x2="454.30" y2="195.04" stroke="#222" stroke-width="0.6"/>
<line x1="455.30" y1="192.65" x2="454.30" y2="192.65" stroke="#222" stroke-width="0.6"/>
<line x1="455.30" y1="190.26" x2="454.30" y2="190.26" stroke="#222" stroke-width="0.6"/>
<line x1="455.30" y1="187.87" x2="453.90" y2="187.87" stroke="#222" stroke-width="0.6"/>
<line x1="455.30" y1="185.48" x2="454.30" y2="185.48" stroke="#222" stroke-width="0.6"/>
<line x1="455.30" y1="183.09" x2="454.30" y2="183.09" stroke="#222" stroke-width="0.6"/>
<line x1="455.30" y1="180.70" x2="454.30" y2="180.70" stroke="#222" stroke-width="0.6"/>
<line x1="455.30" y1="178.32" x2="454.30" y2="178.32" stroke="#222" stroke-width="0.6"/>
<line x1="455.30" y1="175.93" x2="453.90" y2="175.93" stroke="#222" stroke-width="0.6"/>
<line x1="455.30" y1="173.54" x2="454.30" y2="173.54" stroke="#222" stroke-width="0.6"/>
<line x1="455.30" y1="171.15" x2="454.30" y2="171.15" stroke="#222" stroke-width="0.6"/>
<line x1="455.30" y1="168.76" x2="454.30" y2="168.76" stroke="#222" stroke-width="0.6"/>
<line x1="455.30" y1="166.37" x2="454.30" y2="166.37" stroke="#222" stroke-width="0.6"/>
<line x1="455.30" y1="163.98" x2="453.90" y2="163.98" stroke="#222" stroke-width="0.6"/>
<line x1="455.30" y1="161.59" x2="454.30" y2="161.59" stroke="#222" stroke-width="0.6"/>
<line x1="455.30" y1="223.70" x2="455.30" y2="224.80" stroke="#333" stroke-width="0.5"/>
<line x1="455.30" y1="160.40" x2="455.30" y2="159.30" stroke="#333" stroke-width="0.5"/>
<line x1="460.08" y1="223.70" x2="460.08" y2="224.40" stroke="#333" stroke-width="0.5"/>
<line x1="460.08" y1="160.40" x2="460.08" y2="159.70" stroke="#333" stroke-width="0.5"/>
<line x1="464.85" y1="223.70" x2="464.85" y2="224.40" stroke="#333" stroke-width="0.5"/>
<line x1="464.85" y1="160.40" x2="464.85" y2="159.70" stroke="#333" stroke-width="0.5"/>
<line x1="469.63" y1="223.70" x2="469.63" y2="224.40" stroke="#333" stroke-width="0.5"/>
<line x1="469.63" y1="160.40" x2="469.63" y2="159.70" stroke="#333" stroke-width="0.5"/>
<line x1="474.41" y1="223.70" x2="474.41" y2="224.40" stroke="#333" stroke-width="0.5"/>
<line x1="474.41" y1="160.40" x2="474.41" y2="159.70" stroke="#333" stroke-width="0.5"/>
<line x1="479.19" y1="223.70" x2="479.19" y2="224.80" stroke="#333" stroke-width="0.5"/>
<line x1="479.19" y1="160.40" x2="479.19" y2="159.30" stroke="#333" stroke-width="0.5"/>
<line x1="483.96" y1="223.70" x2="483.96" y2="224.40" stroke="#333" stroke-width="0.5"/>
<line x1="483.96" y1="160.40" x2="483.96" y2="159.70" stroke="#333" stroke-width="0.5"/>
<line x1="488.74" y1="223.70" x2="488.74" y2="224.40" stroke="#333" stroke-width="0.5"/>
<line x1="488.74" y1="160.40" x2="488.74" y2="159.70" stroke="#333" stroke-width="0.5"/>
<line x1="493.52" y1="223.70" x2="493.52" y2="224.40" stroke="#333" stroke-width="0.5"/>
<line x1="493.52" y1="160.40" x2="493.52" y2="159.70" stroke="#333" stroke-width="0.5"/>
<line x1="498.30" y1="223.70" x2="498.30" y2="224.40" stroke="#333" stroke-width="0.5"/>
<line x1="498.30" y1="160.40" x2="498.30" y2="159.70" stroke="#333" stroke-width="0.5"/>
<line x1="503.07" y1="223.70" x2="503.07" y2="224.80" stroke="#333" stroke-width="0.5"/>
<line x1="503.07" y1="160.40" x2="503.07" y2="159.30" stroke="#333" stroke-width="0.5"/>
<line x1="507.85" y1="223.70" x2="507.85" y2="224.40" stroke="#333" stroke-width="0.5"/>
<line x1="507.85" y1="160.40" x2="507.85" y2="159.70" stroke="#333" stroke-width="0.5"/>
<line x1="512.63" y1="223.70" x2="512.63" y2="224.40" stroke="#333" stroke-width="0.5"/>
<line x1="512.63" y1="160.40" x2="512.63" y2="159.70" stroke="#333" stroke-width="0.5"/>
<line x1="517.41" y1="223.70" x2="517.41" y2="224.40" stroke="#333" stroke-width="0.5"/>
<line x1="517.41" y1="160.40" x2="517.41" y2="159.70" stroke="#333" stroke-width="0.5"/>
<text x="453.50" y="212.76" style="font-family:'Liberation Sans',sans-serif;font-size:3px" fill="#555" text-anchor="end">10</text>
<text x="453.50" y="200.81" style="font-family:'Liberation Sans',sans-serif;font-size:3px" fill="#555" text-anchor="end">20</text>
<text x="453.50" y="188.87" style="font-family:'Liberation Sans',sans-serif;font-size:3px" fill="#555" text-anchor="end">30</text>
<text x="453.50" y="176.93" style="font-family:'Liberation Sans',sans-serif;font-size:3px" fill="#555" text-anchor="end">40</text>
<text x="453.50" y="224.70" style="font-family:'Liberation Sans',sans-serif;font-size:3px" fill="#555" text-anchor="end">0</text>
<text x="455.30" y="228.00" style="font-family:'Liberation Sans',sans-serif;font-size:3px" fill="#555" text-anchor="middle">0</text>
<text x="479.19" y="228.00" style="font-family:'Liberation Sans',sans-serif;font-size:3px" fill="#555" text-anchor="middle">20</text>
<text x="503.07" y="228.00" style="font-family:'Liberation Sans',sans-serif;font-size:3px" fill="#555" text-anchor="middle">40</text>
<line x1="445.30" y1="223.20" x2="446.70" y2="221.50" stroke="#3a3" stroke-width="0.7"/>
<rect x="522.10" y="160.80" width="5.20" height="62.90" fill="url(#cb)" stroke="#444" stroke-width="0.5"/>
<line x1="527.30" y1="167.79" x2="528.30" y2="167.79" stroke="#555" stroke-width="0.4"/>
<line x1="527.30" y1="174.78" x2="528.30" y2="174.78" stroke="#555" stroke-width="0.4"/>
<line x1="527.30" y1="181.77" x2="528.30" y2="181.77" stroke="#555" stroke-width="0.4"/>
<line x1="527.30" y1="188.76" x2="528.30" y2="188.76" stroke="#555" stroke-width="0.4"/>
<line x1="527.30" y1="195.74" x2="528.30" y2="195.74" stroke="#555" stroke-width="0.4"/>
<line x1="527.30" y1="202.73" x2="528.30" y2="202.73" stroke="#555" stroke-width="0.4"/>
<line x1="527.30" y1="209.72" x2="528.30" y2="209.72" stroke="#555" stroke-width="0.4"/>
<line x1="527.30" y1="216.71" x2="528.30" y2="216.71" stroke="#555" stroke-width="0.4"/>
<text x="528.90" y="161.70" style="font-family:'Liberation Sans',sans-serif;font-size:2.6px" fill="#888">10</text>
<text x="528.90" y="169.56" style="font-family:'Liberation Sans',sans-serif;font-size:2.6px" fill="#888">0.8</text>
<text x="528.90" y="177.43" style="font-family:'Liberation Sans',sans-serif;font-size:2.6px" fill="#888">0.7</text>
<text x="528.90" y="185.29" style="font-family:'Liberation Sans',sans-serif;font-size:2.6px" fill="#888">0.6</text>
<text x="528.90" y="193.15" style="font-family:'Liberation Sans',sans-serif;font-size:2.6px" fill="#888">0.4</text>
<text x="528.90" y="201.01" style="font-family:'Liberation Sans',sans-serif;font-size:2.6px" fill="#888">0.3</text>
<text x="528.90" y="208.88" style="font-family:'Liberation Sans',sans-serif;font-size:2.6px" fill="#888">0.2</text>
<text x="528.90" y="216.74" style="font-family:'Liberation Sans',sans-serif;font-size:2.6px" fill="#888">0.1</text>
<text x="528.90" y="224.60" style="font-family:'Liberation Sans',sans-serif;font-size:2.6px" fill="#888">0.0</text>
<g clip-path="url(#cpF2)"><g transform="translate(135.00 248.70) scale(5.2500 5.2333)" filter="url(#bl)">
<rect x="-1" y="-1" width="1.1" height="1.1" fill="#e2de12"/>
<rect x="0" y="-1" width="1.1" height="1.1" fill="#e2de12"/>
<rect x="1" y="-1" width="1.1" height="1.1" fill="#e2de12"/>
<rect x="2" y="-1" width="1.1" height="1.1" fill="#e88a16"/>
<rect x="3" y="-1" width="1.1" height="1.1" fill="#e88a16"/>
<rect x="4" y="-1" width="1.1" height="1.1" fill="#e8c412"/>
<rect x="5" y="-1" width="1.1" height="1.1" fill="#e8c412"/>
<rect x="6" y="-1" width="1.1" height="1.1" fill="#e8c412"/>
<rect x="7" y="-1" width="1.1" height="1.1" fill="#e8c412"/>
<rect x="8" y="-1" width="1.1" height="1.1" fill="#e2de12"/>
<rect x="9" y="-1" width="1.1" height="1.1" fill="#e8c412"/>
<rect x="10" y="-1" width="1.1" height="1.1" fill="#e8c412"/>
<rect x="11" y="-1" width="1.1" height="1.1" fill="#e2de12"/>
<rect x="12" y="-1" width="1.1" height="1.1" fill="#e2de12"/>
<rect x="-1" y="0" width="1.1" height="1.1" fill="#e2de12"/>
<rect x="0" y="0" width="1.1" height="1.1" fill="#e2de12"/>
<rect x="1" y="0" width="1.1" height="1.1" fill="#e2de12"/>
<rect x="2" y="0" width="1.1" height="1.1" fill="#e88a16"/>
<rect x="3" y="0" width="1.1" height="1.1" fill="#e88a16"/>
<rect x="4" y="0" width="1.1" height="1.1" fill="#e8c412"/>
<rect x="5" y="0" width="1.1" height="1.1" fill="#e8c412"/>
<rect x="6" y="0" width="1.1" height="1.1" fill="#e8c412"/>
<rect x="7" y="0" width="1.1" height="1.1" fill="#e8c412"/>
<rect x="8" y="0" width="1.1" height="1.1" fill="#e2de12"/>
<rect x="9" y="0" width="1.1" height="1.1" fill="#e8c412"/>
<rect x="10" y="0" width="1.1" height="1.1" fill="#e8c412"/>
<rect x="11" y="0" width="1.1" height="1.1" fill="#e2de12"/>
<rect x="12" y="0" width="1.1" height="1.1" fill="#e2de12"/>
<rect x="-1" y="1" width="1.1" height="1.1" fill="#e2de12"/>
<rect x="0" y="1" width="1.1" height="1.1" fill="#e2de12"/>
<rect x="1" y="1" width="1.1" height="1.1" fill="#e2de12"/>
<rect x="2" y="1" width="1.1" height="1.1" fill="#e8c412"/>
<rect x="3" y="1" width="1.1" height="1.1" fill="#e8c412"/>
<rect x="4" y="1" width="1.1" height="1.1" fill="#e2de12"/>
<rect x="5" y="1" width="1.1" height="1.1" fill="#e2de12"/>
<rect x="6" y="1" width="1.1" height="1.1" fill="#e2de12"/>
<rect x="7" y="1" width="1.1" height="1.1" fill="#e8c412"/>
<rect x="8" y="1" width="1.1" height="1.1" fill="#e8c412"/>
<rect x="9" y="1" width="1.1" height="1.1" fill="#e8c412"/>
<rect x="10" y="1" width="1.1" height="1.1" fill="#e8c412"/>
<rect x="11" y="1" width="1.1" height="1.1" fill="#e2de12"/>
<rect x="12" y="1" width="1.1" height="1.1" fill="#e2de12"/>
<rect x="-1" y="2" width="1.1" height="1.1" fill="#e2de12"/>
<rect x="0" y="2" width="1.1" height="1.1" fill="#e2de12"/>
<rect x="1" y="2" width="1.1" height="1.1" fill="#f0ec5f"/>
<rect x="2" y="2" width="1.1" height="1.1" fill="#f0ec5f"/>
<rect x="3" y="2" width="1.1" height="1.1" fill="#e2de12"/>
<rect x="4" y="2" width="1.1" height="1.1" fill="#e2de12"/>
<rect x="5" y="2" width="1.1" height="1.1" fill="#e8c412"/>
<rect x="6" y="2" width="1.1" height="1.1" fill="#e2de12"/>
<rect x="7" y="2" width="1.1" height="1.1" fill="#e8c412"/>
<rect x="8" y="2" width="1.1" height="1.1" fill="#e8c412"/>
<rect x="9" y="2" width="1.1" height="1.1" fill="#e8c412"/>
<rect x="10" y="2" width="1.1" height="1.1" fill="#e2de12"/>
<rect x="11" y="2" width="1.1" height="1.1" fill="#e2de12"/>
<rect x="12" y="2" width="1.1" height="1.1" fill="#e2de12"/>
<rect x="-1" y="3" width="1.1" height="1.1" fill="#e2de12"/>
<rect x="0" y="3" width="1.1" height="1.1" fill="#e2de12"/>
<rect x="1" y="3" width="1.1" height="1.1" fill="#f0ec5f"/>
<rect x="2" y="3" width="1.1" height="1.1" fill="#f0ec5f"/>
<rect x="3" y="3" width="1.1" height="1.1" fill="#e2de12"/>
<rect x="4" y="3" width="1.1" height="1.1" fill="#e2de12"/>
<rect x="5" y="3" width="1.1" height="1.1" fill="#f0ec5f"/>
<rect x="6" y="3" width="1.1" height="1.1" fill="#e2de12"/>
<rect x="7" y="3" width="1.1" height="1.1" fill="#e2de12"/>
<rect x="8" y="3" width="1.1" height="1.1" fill="#e2de12"/>
<rect x="9" y="3" width="1.1" height="1.1" fill="#e8c412"/>
<rect x="10" y="3" width="1.1" height="1.1" fill="#e2de12"/>
<rect x="11" y="3" width="1.1" height="1.1" fill="#e2de12"/>
<rect x="12" y="3" width="1.1" height="1.1" fill="#e2de12"/>
<rect x="-1" y="4" width="1.1" height="1.1" fill="#e2de12"/>
<rect x="0" y="4" width="1.1" height="1.1" fill="#e2de12"/>
<rect x="1" y="4" width="1.1" height="1.1" fill="#e2de12"/>
<rect x="2" y="4" width="1.1" height="1.1" fill="#f0ec5f"/>
<rect x="3" y="4" width="1.1" height="1.1" fill="#e2de12"/>
<rect x="4" y="4" width="1.1" height="1.1" fill="#f0ec5f"/>
<rect x="5" y="4" width="1.1" height="1.1" fill="#f0ec5f"/>
<rect x="6" y="4" width="1.1" height="1.1" fill="#f0ec5f"/>
<rect x="7" y="4" width="1.1" height="1.1" fill="#e2de12"/>
<rect x="8" y="4" width="1.1" height="1.1" fill="#e2de12"/>
<rect x="9" y="4" width="1.1" height="1.1" fill="#e8c412"/>
<rect x="10" y="4" width="1.1" height="1.1" fill="#e8c412"/>
<rect x="11" y="4" width="1.1" height="1.1" fill="#e88a16"/>
<rect x="12" y="4" width="1.1" height="1.1" fill="#e88a16"/>
<rect x="-1" y="5" width="1.1" height="1.1" fill="#e8c412"/>
<rect x="0" y="5" width="1.1" height="1.1" fill="#e8c412"/>
<rect x="1" y="5" width="1.1" height="1.1" fill="#e2de12"/>
<rect x="2" y="5" width="1.1" height="1.1" fill="#e2de12"/>
<rect x="3" y="5" width="1.1" height="1.1" fill="#e2de12"/>
<rect x="4" y="5" width="1.1" height="1.1" fill="#e2de12"/>
<rect x="5" y="5" width="1.1" height="1.1" fill="#f0ec5f"/>
<rect x="6" y="5" width="1.1" height="1.1" fill="#e2de12"/>
<rect x="7" y="5" width="1.1" height="1.1" fill="#e2de12"/>
<rect x="8" y="5" width="1.1" height="1.1" fill="#e2de12"/>
<rect x="9" y="5" width="1.1" height="1.1" fill="#e2de12"/>
<rect x="10" y="5" width="1.1" height="1.1" fill="#e8c412"/>
<rect x="11" y="5" width="1.1" height="1.1" fill="#e88a16"/>
<rect x="12" y="5" width="1.1" height="1.1" fill="#e88a16"/>
<rect x="-1" y="6" width="1.1" height="1.1" fill="#e2de12"/>
<rect x="0" y="6" width="1.1" height="1.1" fill="#e2de12"/>
<rect x="1" y="6" width="1.1" height="1.1" fill="#e2de12"/>
<rect x="2" y="6" width="1.1" height="1.1" fill="#e2de12"/>
<rect x="3" y="6" width="1.1" height="1.1" fill="#e8c412"/>
<rect x="4" y="6" width="1.1" height="1.1" fill="#e88a16"/>
<rect x="5" y="6" width="1.1" height="1.1" fill="#e8c412"/>
<rect x="6" y="6" width="1.1" height="1.1" fill="#e2de12"/>
<rect x="7" y="6" width="1.1" height="1.1" fill="#e2de12"/>
<rect x="8" y="6" width="1.1" height="1.1" fill="#e2de12"/>
<rect x="9" y="6" width="1.1" height="1.1" fill="#e2de12"/>
<rect x="10" y="6" width="1.1" height="1.1" fill="#e2de12"/>
<rect x="11" y="6" width="1.1" height="1.1" fill="#e8c412"/>
<rect x="12" y="6" width="1.1" height="1.1" fill="#e8c412"/>
<rect x="-1" y="7" width="1.1" height="1.1" fill="#e2de12"/>
<rect x="0" y="7" width="1.1" height="1.1" fill="#e2de12"/>
<rect x="1" y="7" width="1.1" height="1.1" fill="#e2de12"/>
<rect x="2" y="7" width="1.1" height="1.1" fill="#e8c412"/>
<rect x="3" y="7" width="1.1" height="1.1" fill="#e88a16"/>
<rect x="4" y="7" width="1.1" height="1.1" fill="#e88a16"/>
<rect x="5" y="7" width="1.1" height="1.1" fill="#e8c412"/>
<rect x="6" y="7" width="1.1" height="1.1" fill="#e2de12"/>
<rect x="7" y="7" width="1.1" height="1.1" fill="#e2de12"/>
<rect x="8" y="7" width="1.1" height="1.1" fill="#e2de12"/>
<rect x="9" y="7" width="1.1" height="1.1" fill="#e2de12"/>
<rect x="10" y="7" width="1.1" height="1.1" fill="#e2de12"/>
<rect x="11" y="7" width="1.1" height="1.1" fill="#e2de12"/>
<rect x="12" y="7" width="1.1" height="1.1" fill="#e2de12"/>
<rect x="-1" y="8" width="1.1" height="1.1" fill="#e2de12"/>
<rect x="0" y="8" width="1.1" height="1.1" fill="#e2de12"/>
<rect x="1" y="8" width="1.1" height="1.1" fill="#f0ec5f"/>
<rect x="2" y="8" width="1.1" height="1.1" fill="#f0ec5f"/>
<rect x="3" y="8" width="1.1" height="1.1" fill="#e2de12"/>
<rect x="4" y="8" width="1.1" height="1.1" fill="#f0ec5f"/>
<rect x="5" y="8" width="1.1" height="1.1" fill="#f0ec5f"/>
<rect x="6" y="8" width="1.1" height="1.1" fill="#f0ec5f"/>
<rect x="7" y="8" width="1.1" height="1.1" fill="#e2de12"/>
<rect x="8" y="8" width="1.1" height="1.1" fill="#e2de12"/>
<rect x="9" y="8" width="1.1" height="1.1" fill="#e2de12"/>
<rect x="10" y="8" width="1.1" height="1.1" fill="#e2de12"/>
<rect x="11" y="8" width="1.1" height="1.1" fill="#e2de12"/>
<rect x="12" y="8" width="1.1" height="1.1" fill="#e2de12"/>
<rect x="-1" y="9" width="1.1" height="1.1" fill="#e2de12"/>
<rect x="0" y="9" width="1.1" height="1.1" fill="#e2de12"/>
<rect x="1" y="9" width="1.1" height="1.1" fill="#f0ec5f"/>
<rect x="2" y="9" width="1.1" height="1.1" fill="#f8f6af"/>
<rect x="3" y="9" width="1.1" height="1.1" fill="#f8f6af"/>
<rect x="4" y="9" width="1.1" height="1.1" fill="#f8f6af"/>
<rect x="5" y="9" width="1.1" height="1.1" fill="#f8f6af"/>
<rect x="6" y="9" width="1.1" height="1.1" fill="#f0ec5f"/>
<rect x="7" y="9" width="1.1" height="1.1" fill="#f0ec5f"/>
<rect x="8" y="9" width="1.1" height="1.1" fill="#e2de12"/>
<rect x="9" y="9" width="1.1" height="1.1" fill="#e2de12"/>
<rect x="10" y="9" width="1.1" height="1.1" fill="#e2de12"/>
<rect x="11" y="9" width="1.1" height="1.1" fill="#e2de12"/>
<rect x="12" y="9" width="1.1" height="1.1" fill="#e2de12"/>
<rect x="-1" y="10" width="1.1" height="1.1" fill="#e2de12"/>
<rect x="0" y="10" width="1.1" height="1.1" fill="#e2de12"/>
<rect x="1" y="10" width="1.1" height="1.1" fill="#f0ec5f"/>
<rect x="2" y="10" width="1.1" height="1.1" fill="#f8f6af"/>
<rect x="3" y="10" width="1.1" height="1.1" fill="#f8f6af"/>
<rect x="4" y="10" width="1.1" height="1.1" fill="#f8f6af"/>
<rect x="5" y="10" width="1.1" height="1.1" fill="#f8f6af"/>
<rect x="6" y="10" width="1.1" height="1.1" fill="#f8f6af"/>
<rect x="7" y="10" width="1.1" height="1.1" fill="#f0ec5f"/>
<rect x="8" y="10" width="1.1" height="1.1" fill="#e2de12"/>
<rect x="9" y="10" width="1.1" height="1.1" fill="#e2de12"/>
<rect x="10" y="10" width="1.1" height="1.1" fill="#e2de12"/>
<rect x="11" y="10" width="1.1" height="1.1" fill="#e2de12"/>
<rect x="12" y="10" width="1.1" height="1.1" fill="#e2de12"/>
<rect x="-1" y="11" width="1.1" height="1.1" fill="#e2de12"/>
<rect x="0" y="11" width="1.1" height="1.1" fill="#e2de12"/>
<rect x="1" y="11" width="1.1" height="1.1" fill="#e2de12"/>
<rect x="2" y="11" width="1.1" height="1.1" fill="#f0ec5f"/>
<rect x="3" y="11" width="1.1" height="1.1" fill="#f8f6af"/>
<rect x="4" y="11" width="1.1" height="1.1" fill="#f8f6af"/>
<rect x="5" y="11" width="1.1" height="1.1" fill="#f8f6af"/>
<rect x="6" y="11" width="1.1" height="1.1" fill="#f0ec5f"/>
<rect x="7" y="11" width="1.1" height="1.1" fill="#e2de12"/>
<rect x="8" y="11" width="1.1" height="1.1" fill="#e2de12"/>
<rect x="9" y="11" width="1.1" height="1.1" fill="#e2de12"/>
<rect x="10" y="11" width="1.1" height="1.1" fill="#e2de12"/>
<rect x="11" y="11" width="1.1" height="1.1" fill="#e2de12"/>
<rect x="12" y="11" width="1.1" height="1.1" fill="#e2de12"/>
<rect x="-1" y="12" width="1.1" height="1.1" fill="#e2de12"/>
<rect x="0" y="12" width="1.1" height="1.1" fill="#e2de12"/>
<rect x="1" y="12" width="1.1" height="1.1" fill="#e2de12"/>
<rect x="2" y="12" width="1.1" height="1.1" fill="#f0ec5f"/>
<rect x="3" y="12" width="1.1" height="1.1" fill="#f8f6af"/>
<rect x="4" y="12" width="1.1" height="1.1" fill="#f8f6af"/>
<rect x="5" y="12" width="1.1" height="1.1" fill="#f8f6af"/>
<rect x="6" y="12" width="1.1" height="1.1" fill="#f0ec5f"/>
<rect x="7" y="12" width="1.1" height="1.1" fill="#e2de12"/>
<rect x="8" y="12" width="1.1" height="1.1" fill="#e2de12"/>
<rect x="9" y="12" width="1.1" height="1.1" fill="#e2de12"/>
<rect x="10" y="12" width="1.1" height="1.1" fill="#e2de12"/>
<rect x="11" y="12" width="1.1" height="1.1" fill="#e2de12"/>
<rect x="12" y="12" width="1.1" height="1.1" fill="#e2de12"/>
</g><rect x="135.00" y="248.70" width="63.00" height="62.80" filter="url(#grain)" opacity="0.18"/></g>
<rect x="135.90" y="249.60" width="61.20" height="61.00" fill="none" stroke="#eeee10" stroke-opacity="0.7" stroke-width="1"/>
<rect x="135.00" y="248.70" width="63.00" height="62.80" fill="none" stroke="#333" stroke-width="0.8"/>
<line x1="135.00" y1="311.50" x2="133.60" y2="311.50" stroke="#222" stroke-width="0.6"/>
<line x1="135.00" y1="309.13" x2="134.00" y2="309.13" stroke="#222" stroke-width="0.6"/>
<line x1="135.00" y1="306.76" x2="134.00" y2="306.76" stroke="#222" stroke-width="0.6"/>
<line x1="135.00" y1="304.39" x2="134.00" y2="304.39" stroke="#222" stroke-width="0.6"/>
<line x1="135.00" y1="302.02" x2="134.00" y2="302.02" stroke="#222" stroke-width="0.6"/>
<line x1="135.00" y1="299.65" x2="133.60" y2="299.65" stroke="#222" stroke-width="0.6"/>
<line x1="135.00" y1="297.28" x2="134.00" y2="297.28" stroke="#222" stroke-width="0.6"/>
<line x1="135.00" y1="294.91" x2="134.00" y2="294.91" stroke="#222" stroke-width="0.6"/>
<line x1="135.00" y1="292.54" x2="134.00" y2="292.54" stroke="#222" stroke-width="0.6"/>
<line x1="135.00" y1="290.17" x2="134.00" y2="290.17" stroke="#222" stroke-width="0.6"/>
<line x1="135.00" y1="287.80" x2="133.60" y2="287.80" stroke="#222" stroke-width="0.6"/>
<line x1="135.00" y1="285.43" x2="134.00" y2="285.43" stroke="#222" stroke-width="0.6"/>
<line x1="135.00" y1="283.06" x2="134.00" y2="283.06" stroke="#222" stroke-width="0.6"/>
<line x1="135.00" y1="280.69" x2="134.00" y2="280.69" stroke="#222" stroke-width="0.6"/>
<line x1="135.00" y1="278.32" x2="134.00" y2="278.32" stroke="#222" stroke-width="0.6"/>
<line x1="135.00" y1="275.95" x2="133.60" y2="275.95" stroke="#222" stroke-width="0.6"/>
<line x1="135.00" y1="273.58" x2="134.00" y2="273.58" stroke="#222" stroke-width="0.6"/>
<line x1="135.00" y1="271.21" x2="134.00" y2="271.21" stroke="#222" stroke-width="0.6"/>
<line x1="135.00" y1="268.84" x2="134.00" y2="268.84" stroke="#222" stroke-width="0.6"/>
<line x1="135.00" y1="266.47" x2="134.00" y2="266.47" stroke="#222" stroke-width="0.6"/>
<line x1="135.00" y1="264.10" x2="133.60" y2="264.10" stroke="#222" stroke-width="0.6"/>
<line x1="135.00" y1="261.73" x2="134.00" y2="261.73" stroke="#222" stroke-width="0.6"/>
<line x1="135.00" y1="259.36" x2="134.00" y2="259.36" stroke="#222" stroke-width="0.6"/>
<line x1="135.00" y1="256.99" x2="134.00" y2="256.99" stroke="#222" stroke-width="0.6"/>
<line x1="135.00" y1="254.62" x2="134.00" y2="254.62" stroke="#222" stroke-width="0.6"/>
<line x1="135.00" y1="252.25" x2="133.60" y2="252.25" stroke="#222" stroke-width="0.6"/>
<line x1="135.00" y1="249.88" x2="134.00" y2="249.88" stroke="#222" stroke-width="0.6"/>
<line x1="135.00" y1="311.50" x2="135.00" y2="312.60" stroke="#333" stroke-width="0.5"/>
<line x1="135.00" y1="248.70" x2="135.00" y2="247.60" stroke="#333" stroke-width="0.5"/>
<line x1="139.74" y1="311.50" x2="139.74" y2="312.20" stroke="#333" stroke-width="0.5"/>
<line x1="139.74" y1="248.70" x2="139.74" y2="248.00" stroke="#333" stroke-width="0.5"/>
<line x1="144.48" y1="311.50" x2="144.48" y2="312.20" stroke="#333" stroke-width="0.5"/>
<line x1="144.48" y1="248.70" x2="144.48" y2="248.00" stroke="#333" stroke-width="0.5"/>
<line x1="149.22" y1="311.50" x2="149.22" y2="312.20" stroke="#333" stroke-width="0.5"/>
<line x1="149.22" y1="248.70" x2="149.22" y2="248.00" stroke="#333" stroke-width="0.5"/>
<line x1="153.96" y1="311.50" x2="153.96" y2="312.20" stroke="#333" stroke-width="0.5"/>
<line x1="153.96" y1="248.70" x2="153.96" y2="248.00" stroke="#333" stroke-width="0.5"/>
<line x1="158.70" y1="311.50" x2="158.70" y2="312.60" stroke="#333" stroke-width="0.5"/>
<line x1="158.70" y1="248.70" x2="158.70" y2="247.60" stroke="#333" stroke-width="0.5"/>
<line x1="163.44" y1="311.50" x2="163.44" y2="312.20" stroke="#333" stroke-width="0.5"/>
<line x1="163.44" y1="248.70" x2="163.44" y2="248.00" stroke="#333" stroke-width="0.5"/>
<line x1="168.18" y1="311.50" x2="168.18" y2="312.20" stroke="#333" stroke-width="0.5"/>
<line x1="168.18" y1="248.70" x2="168.18" y2="248.00" stroke="#333" stroke-width="0.5"/>
<line x1="172.92" y1="311.50" x2="172.92" y2="312.20" stroke="#333" stroke-width="0.5"/>
<line x1="172.92" y1="248.70" x2="172.92" y2="248.00" stroke="#333" stroke-width="0.5"/>
<line x1="177.66" y1="311.50" x2="177.66" y2="312.20" stroke="#333" stroke-width="0.5"/>
<line x1="177.66" y1="248.70" x2="177.66" y2="248.00" stroke="#333" stroke-width="0.5"/>
<line x1="182.40" y1="311.50" x2="182.40" y2="312.60" stroke="#333" stroke-width="0.5"/>
<line x1="182.40" y1="248.70" x2="182.40" y2="247.60" stroke="#333" stroke-width="0.5"/>
<line x1="187.14" y1="311.50" x2="187.14" y2="312.20" stroke="#333" stroke-width="0.5"/>
<line x1="187.14" y1="248.70" x2="187.14" y2="248.00" stroke="#333" stroke-width="0.5"/>
<line x1="191.88" y1="311.50" x2="191.88" y2="312.20" stroke="#333" stroke-width="0.5"/>
<line x1="191.88" y1="248.70" x2="191.88" y2="248.00" stroke="#333" stroke-width="0.5"/>
<line x1="196.62" y1="311.50" x2="196.62" y2="312.20" stroke="#333" stroke-width="0.5"/>
<line x1="196.62" y1="248.70" x2="196.62" y2="248.00" stroke="#333" stroke-width="0.5"/>
<text x="133.20" y="300.65" style="font-family:'Liberation Sans',sans-serif;font-size:3px" fill="#555" text-anchor="end">10</text>
<text x="133.20" y="288.80" style="font-family:'Liberation Sans',sans-serif;font-size:3px" fill="#555" text-anchor="end">20</text>
<text x="133.20" y="276.95" style="font-family:'Liberation Sans',sans-serif;font-size:3px" fill="#555" text-anchor="end">30</text>
<text x="133.20" y="265.10" style="font-family:'Liberation Sans',sans-serif;font-size:3px" fill="#555" text-anchor="end">40</text>
<text x="133.20" y="312.50" style="font-family:'Liberation Sans',sans-serif;font-size:3px" fill="#555" text-anchor="end">0</text>
<text x="135.00" y="315.80" style="font-family:'Liberation Sans',sans-serif;font-size:3px" fill="#555" text-anchor="middle">0</text>
<text x="158.70" y="315.80" style="font-family:'Liberation Sans',sans-serif;font-size:3px" fill="#555" text-anchor="middle">20</text>
<text x="182.40" y="315.80" style="font-family:'Liberation Sans',sans-serif;font-size:3px" fill="#555" text-anchor="middle">40</text>
<line x1="125.00" y1="311.00" x2="126.40" y2="309.30" stroke="#3a3" stroke-width="0.7"/>
<rect x="201.90" y="249.40" width="4.80" height="62.10" fill="url(#cb)" stroke="#444" stroke-width="0.5"/>
<line x1="206.70" y1="256.30" x2="207.70" y2="256.30" stroke="#555" stroke-width="0.4"/>
<line x1="206.70" y1="263.20" x2="207.70" y2="263.20" stroke="#555" stroke-width="0.4"/>
<line x1="206.70" y1="270.10" x2="207.70" y2="270.10" stroke="#555" stroke-width="0.4"/>
<line x1="206.70" y1="277.00" x2="207.70" y2="277.00" stroke="#555" stroke-width="0.4"/>
<line x1="206.70" y1="283.90" x2="207.70" y2="283.90" stroke="#555" stroke-width="0.4"/>
<line x1="206.70" y1="290.80" x2="207.70" y2="290.80" stroke="#555" stroke-width="0.4"/>
<line x1="206.70" y1="297.70" x2="207.70" y2="297.70" stroke="#555" stroke-width="0.4"/>
<line x1="206.70" y1="304.60" x2="207.70" y2="304.60" stroke="#555" stroke-width="0.4"/>
<text x="208.30" y="250.30" style="font-family:'Liberation Sans',sans-serif;font-size:2.6px" fill="#888">10</text>
<text x="208.30" y="258.06" style="font-family:'Liberation Sans',sans-serif;font-size:2.6px" fill="#888">0.8</text>
<text x="208.30" y="265.82" style="font-family:'Liberation Sans',sans-serif;font-size:2.6px" fill="#888">0.7</text>
<text x="208.30" y="273.59" style="font-family:'Liberation Sans',sans-serif;font-size:2.6px" fill="#888">0.6</text>
<text x="208.30" y="281.35" style="font-family:'Liberation Sans',sans-serif;font-size:2.6px" fill="#888">0.4</text>
<text x="208.30" y="289.11" style="font-family:'Liberation Sans',sans-serif;font-size:2.6px" fill="#888">0.3</text>
<text x="208.30" y="296.88" style="font-family:'Liberation Sans',sans-serif;font-size:2.6px" fill="#888">0.2</text>
<text x="208.30" y="304.64" style="font-family:'Liberation Sans',sans-serif;font-size:2.6px" fill="#888">0.1</text>
<text x="208.30" y="312.40" style="font-family:'Liberation Sans',sans-serif;font-size:2.6px" fill="#888">0.0</text>
<g clip-path="url(#cpP2)"><g transform="translate(295.10 249.00) scale(5.1917 5.2583)" filter="url(#bl)">
<rect x="-1" y="-1" width="1.1" height="1.1" fill="#e8c412"/>
<rect x="0" y="-1" width="1.1" height="1.1" fill="#e8c412"/>
<rect x="1" y="-1" width="1.1" height="1.1" fill="#e2de12"/>
<rect x="2" y="-1" width="1.1" height="1.1" fill="#f0ec5f"/>
<rect x="3" y="-1" width="1.1" height="1.1" fill="#e2de12"/>
<rect x="4" y="-1" width="1.1" height="1.1" fill="#f0ec5f"/>
<rect x="5" y="-1" width="1.1" height="1.1" fill="#f8f6af"/>
<rect x="6" y="-1" width="1.1" height="1.1" fill="#f8f6af"/>
<rect x="7" y="-1" width="1.1" height="1.1" fill="#f8f6af"/>
<rect x="8" y="-1" width="1.1" height="1.1" fill="#f0ec5f"/>
<rect x="9" y="-1" width="1.1" height="1.1" fill="#f0ec5f"/>
<rect x="10" y="-1" width="1.1" height="1.1" fill="#e2de12"/>
<rect x="11" y="-1" width="1.1" height="1.1" fill="#e2de12"/>
<rect x="12" y="-1" width="1.1" height="1.1" fill="#e2de12"/>
<rect x="-1" y="0" width="1.1" height="1.1" fill="#e8c412"/>
<rect x="0" y="0" width="1.1" height="1.1" fill="#e8c412"/>
<rect x="1" y="0" width="1.1" height="1.1" fill="#e2de12"/>
<rect x="2" y="0" width="1.1" height="1.1" fill="#f0ec5f"/>
<rect x="3" y="0" width="1.1" height="1.1" fill="#e2de12"/>
<rect x="4" y="0" width="1.1" height="1.1" fill="#f0ec5f"/>
<rect x="5" y="0" width="1.1" height="1.1" fill="#f8f6af"/>
<rect x="6" y="0" width="1.1" height="1.1" fill="#f8f6af"/>
<rect x="7" y="0" width="1.1" height="1.1" fill="#f8f6af"/>
<rect x="8" y="0" width="1.1" height="1.1" fill="#f0ec5f"/>
<rect x="9" y="0" width="1.1" height="1.1" fill="#f0ec5f"/>
<rect x="10" y="0" width="1.1" height="1.1" fill="#e2de12"/>
<rect x="11" y="0" width="1.1" height="1.1" fill="#e2de12"/>
<rect x="12" y="0" width="1.1" height="1.1" fill="#e2de12"/>
<rect x="-1" y="1" width="1.1" height="1.1" fill="#e88a16"/>
<rect x="0" y="1" width="1.1" height="1.1" fill="#e88a16"/>
<rect x="1" y="1" width="1.1" height="1.1" fill="#f0ec5f"/>
<rect x="2" y="1" width="1.1" height="1.1" fill="#f8f6af"/>
<rect x="3" y="1" width="1.1" height="1.1" fill="#f0ec5f"/>
<rect x="4" y="1" width="1.1" height="1.1" fill="#e2de12"/>
<rect x="5" y="1" width="1.1" height="1.1" fill="#f0ec5f"/>
<rect x="6" y="1" width="1.1" height="1.1" fill="#f8f6af"/>
<rect x="7" y="1" width="1.1" height="1.1" fill="#f8f6af"/>
<rect x="8" y="1" width="1.1" height="1.1" fill="#f8f6af"/>
<rect x="9" y="1" width="1.1" height="1.1" fill="#f0ec5f"/>
<rect x="10" y="1" width="1.1" height="1.1" fill="#f0ec5f"/>
<rect x="11" y="1" width="1.1" height="1.1" fill="#e2de12"/>
<rect x="12" y="1" width="1.1" height="1.1" fill="#e2de12"/>
<rect x="-1" y="2" width="1.1" height="1.1" fill="#e88a16"/>
<rect x="0" y="2" width="1.1" height="1.1" fill="#e88a16"/>
<rect x="1" y="2" width="1.1" height="1.1" fill="#e2de12"/>
<rect x="2" y="2" width="1.1" height="1.1" fill="#f0ec5f"/>
<rect x="3" y="2" width="1.1" height="1.1" fill="#f0ec5f"/>
<rect x="4" y="2" width="1.1" height="1.1" fill="#e2de12"/>
<rect x="5" y="2" width="1.1" height="1.1" fill="#e2de12"/>
<rect x="6" y="2" width="1.1" height="1.1" fill="#f0ec5f"/>
<rect x="7" y="2" width="1.1" height="1.1" fill="#f8f6af"/>
<rect x="8" y="2" width="1.1" height="1.1" fill="#f8f6af"/>
<rect x="9" y="2" width="1.1" height="1.1" fill="#f0ec5f"/>
<rect x="10" y="2" width="1.1" height="1.1" fill="#f0ec5f"/>
<rect x="11" y="2" width="1.1" height="1.1" fill="#e2de12"/>
<rect x="12" y="2" width="1.1" height="1.1" fill="#e2de12"/>
<rect x="-1" y="3" width="1.1" height="1.1" fill="#e8c412"/>
<rect x="0" y="3" width="1.1" height="1.1" fill="#e8c412"/>
<rect x="1" y="3" width="1.1" height="1.1" fill="#e2de12"/>
<rect x="2" y="3" width="1.1" height="1.1" fill="#f0ec5f"/>
<rect x="3" y="3" width="1.1" height="1.1" fill="#e8c412"/>
<rect x="4" y="3" width="1.1" height="1.1" fill="#e2de12"/>
<rect x="5" y="3" width="1.1" height="1.1" fill="#e88a16"/>
<rect x="6" y="3" width="1.1" height="1.1" fill="#e88a16"/>
<rect x="7" y="3" width="1.1" height="1.1" fill="#f0ec5f"/>
<rect x="8" y="3" width="1.1" height="1.1" fill="#f8f6af"/>
<rect x="9" y="3" width="1.1" height="1.1" fill="#f8f6af"/>
<rect x="10" y="3" width="1.1" height="1.1" fill="#f0ec5f"/>
<rect x="11" y="3" width="1.1" height="1.1" fill="#e2de12"/>
<rect x="12" y="3" width="1.1" height="1.1" fill="#e2de12"/>
<rect x="-1" y="4" width="1.1" height="1.1" fill="#e8c412"/>
<rect x="0" y="4" width="1.1" height="1.1" fill="#e8c412"/>
<rect x="1" y="4" width="1.1" height="1.1" fill="#e2de12"/>
<rect x="2" y="4" width="1.1" height="1.1" fill="#e2de12"/>
<rect x="3" y="4" width="1.1" height="1.1" fill="#e2de12"/>
<rect x="4" y="4" width="1.1" height="1.1" fill="#e8c412"/>
<rect x="5" y="4" width="1.1" height="1.1" fill="#e88a16"/>
<rect x="6" y="4" width="1.1" height="1.1" fill="#e8c412"/>
<rect x="7" y="4" width="1.1" height="1.1" fill="#f0ec5f"/>
<rect x="8" y="4" width="1.1" height="1.1" fill="#f8f6af"/>
<rect x="9" y="4" width="1.1" height="1.1" fill="#f0ec5f"/>
<rect x="10" y="4" width="1.1" height="1.1" fill="#e2de12"/>
<rect x="11" y="4" width="1.1" height="1.1" fill="#e8c412"/>
<rect x="12" y="4" width="1.1" height="1.1" fill="#e8c412"/>
<rect x="-1" y="5" width="1.1" height="1.1" fill="#e88a16"/>
<rect x="0" y="5" width="1.1" height="1.1" fill="#e88a16"/>
<rect x="1" y="5" width="1.1" height="1.1" fill="#e2de12"/>
<rect x="2" y="5" width="1.1" height="1.1" fill="#f0ec5f"/>
<rect x="3" y="5" width="1.1" height="1.1" fill="#e2de12"/>
<rect x="4" y="5" width="1.1" height="1.1" fill="#f0ec5f"/>
<rect x="5" y="5" width="1.1" height="1.1" fill="#f0ec5f"/>
<rect x="6" y="5" width="1.1" height="1.1" fill="#e2de12"/>
<rect x="7" y="5" width="1.1" height="1.1" fill="#e2de12"/>
<rect x="8" y="5" width="1.1" height="1.1" fill="#f0ec5f"/>
<rect x="9" y="5" width="1.1" height="1.1" fill="#e2de12"/>
<rect x="10" y="5" width="1.1" height="1.1" fill="#e8c412"/>
<rect x="11" y="5" width="1.1" height="1.1" fill="#e88a16"/>
<rect x="12" y="5" width="1.1" height="1.1" fill="#e88a16"/>
<rect x="-1" y="6" width="1.1" height="1.1" fill="#e2de12"/>
<rect x="0" y="6" width="1.1" height="1.1" fill="#e2de12"/>
<rect x="1" y="6" width="1.1" height="1.1" fill="#f0ec5f"/>
<rect x="2" y="6" width="1.1" height="1.1" fill="#e2de12"/>
<rect x="3" y="6" width="1.1" height="1.1" fill="#f8f6af"/>
<rect x="4" y="6" width="1.1" height="1.1" fill="#f8f6af"/>
<rect x="5" y="6" width="1.1" height="1.1" fill="#f8f6af"/>
<rect x="6" y="6" width="1.1" height="1.1" fill="#f0ec5f"/>
<rect x="7" y="6" width="1.1" height="1.1" fill="#e2de12"/>
<rect x="8" y="6" width="1.1" height="1.1" fill="#e2de12"/>
<rect x="9" y="6" width="1.1" height="1.1" fill="#e2de12"/>
<rect x="10" y="6" width="1.1" height="1.1" fill="#e88a16"/>
<rect x="11" y="6" width="1.1" height="1.1" fill="#e88a16"/>
<rect x="12" y="6" width="1.1" height="1.1" fill="#e88a16"/>
<rect x="-1" y="7" width="1.1" height="1.1" fill="#f0ec5f"/>
<rect x="0" y="7" width="1.1" height="1.1" fill="#f0ec5f"/>
<rect x="1" y="7" width="1.1" height="1.1" fill="#f8f6af"/>
<rect x="2" y="7" width="1.1" height="1.1" fill="#f0ec5f"/>
<rect x="3" y="7" width="1.1" height="1.1" fill="#f0ec5f"/>
<rect x="4" y="7" width="1.1" height="1.1" fill="#f8f6af"/>
<rect x="5" y="7" width="1.1" height="1.1" fill="#f0ec5f"/>
<rect x="6" y="7" width="1.1" height="1.1" fill="#f0ec5f"/>
<rect x="7" y="7" width="1.1" height="1.1" fill="#e2de12"/>
<rect x="8" y="7" width="1.1" height="1.1" fill="#e2de12"/>
<rect x="9" y="7" width="1.1" height="1.1" fill="#f0ec5f"/>
<rect x="10" y="7" width="1.1" height="1.1" fill="#e8c412"/>
<rect x="11" y="7" width="1.1" height="1.1" fill="#e88a16"/>
<rect x="12" y="7" width="1.1" height="1.1" fill="#e88a16"/>
<rect x="-1" y="8" width="1.1" height="1.1" fill="#f8f6af"/>
<rect x="0" y="8" width="1.1" height="1.1" fill="#f8f6af"/>
<rect x="1" y="8" width="1.1" height="1.1" fill="#f8f6af"/>
<rect x="2" y="8" width="1.1" height="1.1" fill="#f0ec5f"/>
<rect x="3" y="8" width="1.1" height="1.1" fill="#f0ec5f"/>
<rect x="4" y="8" width="1.1" height="1.1" fill="#f0ec5f"/>
<rect x="5" y="8" width="1.1" height="1.1" fill="#e2de12"/>
<rect x="6" y="8" width="1.1" height="1.1" fill="#e2de12"/>
<rect x="7" y="8" width="1.1" height="1.1" fill="#e2de12"/>
<rect x="8" y="8" width="1.1" height="1.1" fill="#f0ec5f"/>
<rect x="9" y="8" width="1.1" height="1.1" fill="#f8f6af"/>
<rect x="10" y="8" width="1.1" height="1.1" fill="#f0ec5f"/>
<rect x="11" y="8" width="1.1" height="1.1" fill="#e8c412"/>
<rect x="12" y="8" width="1.1" height="1.1" fill="#e8c412"/>
<rect x="-1" y="9" width="1.1" height="1.1" fill="#e88a16"/>
<rect x="0" y="9" width="1.1" height="1.1" fill="#e88a16"/>
<rect x="1" y="9" width="1.1" height="1.1" fill="#e88a16"/>
<rect x="2" y="9" width="1.1" height="1.1" fill="#da5612"/>
<rect x="3" y="9" width="1.1" height="1.1" fill="#e88a16"/>
<rect x="4" y="9" width="1.1" height="1.1" fill="#e8c412"/>
<rect x="5" y="9" width="1.1" height="1.1" fill="#e8c412"/>
<rect x="6" y="9" width="1.1" height="1.1" fill="#e88a16"/>
<rect x="7" y="9" width="1.1" height="1.1" fill="#e2de12"/>
<rect x="8" y="9" width="1.1" height="1.1" fill="#f0ec5f"/>
<rect x="9" y="9" width="1.1" height="1.1" fill="#f0ec5f"/>
<rect x="10" y="9" width="1.1" height="1.1" fill="#f0ec5f"/>
<rect x="11" y="9" width="1.1" height="1.1" fill="#e8c412"/>
<rect x="12" y="9" width="1.1" height="1.1" fill="#e8c412"/>
<rect x="-1" y="10" width="1.1" height="1.1" fill="#da5612"/>
<rect x="0" y="10" width="1.1" height="1.1" fill="#da5612"/>
<rect x="1" y="10" width="1.1" height="1.1" fill="#da5612"/>
<rect x="2" y="10" width="1.1" height="1.1" fill="#da5612"/>
<rect x="3" y="10" width="1.1" height="1.1" fill="#da5612"/>
<rect x="4" y="10" width="1.1" height="1.1" fill="#da5612"/>
<rect x="5" y="10" width="1.1" height="1.1" fill="#e88a16"/>
<rect x="6" y="10" width="1.1" height="1.1" fill="#e88a16"/>
<rect x="7" y="10" width="1.1" height="1.1" fill="#e8c412"/>
<rect x="8" y="10" width="1.1" height="1.1" fill="#e2de12"/>
<rect x="9" y="10" width="1.1" height="1.1" fill="#e88a16"/>
<rect x="10" y="10" width="1.1" height="1.1" fill="#e8c412"/>
<rect x="11" y="10" width="1.1" height="1.1" fill="#e2de12"/>
<rect x="12" y="10" width="1.1" height="1.1" fill="#e2de12"/>
<rect x="-1" y="11" width="1.1" height="1.1" fill="#e88a16"/>
<rect x="0" y="11" width="1.1" height="1.1" fill="#e88a16"/>
<rect x="1" y="11" width="1.1" height="1.1" fill="#da5612"/>
<rect x="2" y="11" width="1.1" height="1.1" fill="#da5612"/>
<rect x="3" y="11" width="1.1" height="1.1" fill="#da5612"/>
<rect x="4" y="11" width="1.1" height="1.1" fill="#e88a16"/>
<rect x="5" y="11" width="1.1" height="1.1" fill="#e88a16"/>
<rect x="6" y="11" width="1.1" height="1.1" fill="#e8c412"/>
<rect x="7" y="11" width="1.1" height="1.1" fill="#e2de12"/>
<rect x="8" y="11" width="1.1" height="1.1" fill="#e88a16"/>
<rect x="9" y="11" width="1.1" height="1.1" fill="#e88a16"/>
<rect x="10" y="11" width="1.1" height="1.1" fill="#e8c412"/>
<rect x="11" y="11" width="1.1" height="1.1" fill="#e2de12"/>
<rect x="12" y="11" width="1.1" height="1.1" fill="#e2de12"/>
<rect x="-1" y="12" width="1.1" height="1.1" fill="#e88a16"/>
<rect x="0" y="12" width="1.1" height="1.1" fill="#e88a16"/>
<rect x="1" y="12" width="1.1" height="1.1" fill="#da5612"/>
<rect x="2" y="12" width="1.1" height="1.1" fill="#da5612"/>
<rect x="3" y="12" width="1.1" height="1.1" fill="#da5612"/>
<rect x="4" y="12" width="1.1" height="1.1" fill="#e88a16"/>
<rect x="5" y="12" width="1.1" height="1.1" fill="#e88a16"/>
<rect x="6" y="12" width="1.1" height="1.1" fill="#e8c412"/>
<rect x="7" y="12" width="1.1" height="1.1" fill="#e2de12"/>
<rect x="8" y="12" width="1.1" height="1.1" fill="#e88a16"/>
<rect x="9" y="12" width="1.1" height="1.1" fill="#e88a16"/>
<rect x="10" y="12" width="1.1" height="1.1" fill="#e8c412"/>
<rect x="11" y="12" width="1.1" height="1.1" fill="#e2de12"/>
<rect x="12" y="12" width="1.1" height="1.1" fill="#e2de12"/>
</g><rect x="295.10" y="249.00" width="62.30" height="63.10" filter="url(#grain)" opacity="0.18"/></g>
<rect x="296.00" y="249.90" width="60.50" height="61.30" fill="none" stroke="#eeee10" stroke-opacity="0.7" stroke-width="1"/>
<rect x="295.10" y="249.00" width="62.30" height="63.10" fill="none" stroke="#333" stroke-width="0.8"/>
<line x1="295.10" y1="312.10" x2="293.70" y2="312.10" stroke="#222" stroke-width="0.6"/>
<line x1="295.10" y1="309.72" x2="294.10" y2="309.72" stroke="#222" stroke-width="0.6"/>
<line x1="295.10" y1="307.34" x2="294.10" y2="307.34" stroke="#222" stroke-width="0.6"/>
<line x1="295.10" y1="304.96" x2="294.10" y2="304.96" stroke="#222" stroke-width="0.6"/>
<line x1="295.10" y1="302.58" x2="294.10" y2="302.58" stroke="#222" stroke-width="0.6"/>
<line x1="295.10" y1="300.19" x2="293.70" y2="300.19" stroke="#222" stroke-width="0.6"/>
<line x1="295.10" y1="297.81" x2="294.10" y2="297.81" stroke="#222" stroke-width="0.6"/>
<line x1="295.10" y1="295.43" x2="294.10" y2="295.43" stroke="#222" stroke-width="0.6"/>
<line x1="295.10" y1="293.05" x2="294.10" y2="293.05" stroke="#222" stroke-width="0.6"/>
<line x1="295.10" y1="290.67" x2="294.10" y2="290.67" stroke="#222" stroke-width="0.6"/>
<line x1="295.10" y1="288.29" x2="293.70" y2="288.29" stroke="#222" stroke-width="0.6"/>
<line x1="295.10" y1="285.91" x2="294.10" y2="285.91" stroke="#222" stroke-width="0.6"/>
<line x1="295.10" y1="283.53" x2="294.10" y2="283.53" stroke="#222" stroke-width="0.6"/>
<line x1="295.10" y1="281.15" x2="294.10" y2="281.15" stroke="#222" stroke-width="0.6"/>
<line x1="295.10" y1="278.76" x2="294.10" y2="278.76" stroke="#222" stroke-width="0.6"/>
<line x1="295.10" y1="276.38" x2="293.70" y2="276.38" stroke="#222" stroke-width="0.6"/>
<line x1="295.10" y1="274.00" x2="294.10" y2="274.00" stroke="#222" stroke-width="0.6"/>
<line x1="295.10" y1="271.62" x2="294.10" y2="271.62" stroke="#222" stroke-width="0.6"/>
<line x1="295.10" y1="269.24" x2="294.10" y2="269.24" stroke="#222" stroke-width="0.6"/>
<line x1="295.10" y1="266.86" x2="294.10" y2="266.86" stroke="#222" stroke-width="0.6"/>
<line x1="295.10" y1="264.48" x2="293.70" y2="264.48" stroke="#222" stroke-width="0.6"/>
<line x1="295.10" y1="262.10" x2="294.10" y2="262.10" stroke="#222" stroke-width="0.6"/>
<line x1="295.10" y1="259.72" x2="294.10" y2="259.72" stroke="#222" stroke-width="0.6"/>
<line x1="295.10" y1="257.33" x2="294.10" y2="257.33" stroke="#222" stroke-width="0.6"/>
<line x1="295.10" y1="254.95" x2="294.10" y2="254.95" stroke="#222" stroke-width="0.6"/>
<line x1="295.10" y1="252.57" x2="293.70" y2="252.57" stroke="#222" stroke-width="0.6"/>
<line x1="295.10" y1="250.19" x2="294.10" y2="250.19" stroke="#222" stroke-width="0.6"/>
<line x1="295.10" y1="312.10" x2="295.10" y2="313.20" stroke="#333" stroke-width="0.5"/>
<line x1="295.10" y1="249.00" x2="295.10" y2="247.90" stroke="#333" stroke-width="0.5"/>
<line x1="299.86" y1="312.10" x2="299.86" y2="312.80" stroke="#333" stroke-width="0.5"/>
<line x1="299.86" y1="249.00" x2="299.86" y2="248.30" stroke="#333" stroke-width="0.5"/>
<line x1="304.62" y1="312.10" x2="304.62" y2="312.80" stroke="#333" stroke-width="0.5"/>
<line x1="304.62" y1="249.00" x2="304.62" y2="248.30" stroke="#333" stroke-width="0.5"/>
<line x1="309.39" y1="312.10" x2="309.39" y2="312.80" stroke="#333" stroke-width="0.5"/>
<line x1="309.39" y1="249.00" x2="309.39" y2="248.30" stroke="#333" stroke-width="0.5"/>
<line x1="314.15" y1="312.10" x2="314.15" y2="312.80" stroke="#333" stroke-width="0.5"/>
<line x1="314.15" y1="249.00" x2="314.15" y2="248.30" stroke="#333" stroke-width="0.5"/>
<line x1="318.91" y1="312.10" x2="318.91" y2="313.20" stroke="#333" stroke-width="0.5"/>
<line x1="318.91" y1="249.00" x2="318.91" y2="247.90" stroke="#333" stroke-width="0.5"/>
<line x1="323.67" y1="312.10" x2="323.67" y2="312.80" stroke="#333" stroke-width="0.5"/>
<line x1="323.67" y1="249.00" x2="323.67" y2="248.30" stroke="#333" stroke-width="0.5"/>
<line x1="328.44" y1="312.10" x2="328.44" y2="312.80" stroke="#333" stroke-width="0.5"/>
<line x1="328.44" y1="249.00" x2="328.44" y2="248.30" stroke="#333" stroke-width="0.5"/>
<line x1="333.20" y1="312.10" x2="333.20" y2="312.80" stroke="#333" stroke-width="0.5"/>
<line x1="333.20" y1="249.00" x2="333.20" y2="248.30" stroke="#333" stroke-width="0.5"/>
<line x1="337.96" y1="312.10" x2="337.96" y2="312.80" stroke="#333" stroke-width="0.5"/>
<line x1="337.96" y1="249.00" x2="337.96" y2="248.30" stroke="#333" stroke-width="0.5"/>
<line x1="342.72" y1="312.10" x2="342.72" y2="313.20" stroke="#333" stroke-width="0.5"/>
<line x1="342.72" y1="249.00" x2="342.72" y2="247.90" stroke="#333" stroke-width="0.5"/>
<line x1="347.48" y1="312.10" x2="347.48" y2="312.80" stroke="#333" stroke-width="0.5"/>
<line x1="347.48" y1="249.00" x2="347.48" y2="248.30" stroke="#333" stroke-width="0.5"/>
<line x1="352.25" y1="312.10" x2="352.25" y2="312.80" stroke="#333" stroke-width="0.5"/>
<line x1="352.25" y1="249.00" x2="352.25" y2="248.30" stroke="#333" stroke-width="0.5"/>
<line x1="357.01" y1="312.10" x2="357.01" y2="312.80" stroke="#333" stroke-width="0.5"/>
<line x1="357.01" y1="249.00" x2="357.01" y2="248.30" stroke="#333" stroke-width="0.5"/>
<text x="293.30" y="301.19" style="font-family:'Liberation Sans',sans-serif;font-size:3px" fill="#555" text-anchor="end">10</text>
<text x="293.30" y="289.29" style="font-family:'Liberation Sans',sans-serif;font-size:3px" fill="#555" text-anchor="end">20</text>
<text x="293.30" y="277.38" style="font-family:'Liberation Sans',sans-serif;font-size:3px" fill="#555" text-anchor="end">30</text>
<text x="293.30" y="265.48" style="font-family:'Liberation Sans',sans-serif;font-size:3px" fill="#555" text-anchor="end">40</text>
<text x="293.30" y="313.10" style="font-family:'Liberation Sans',sans-serif;font-size:3px" fill="#555" text-anchor="end">0</text>
<text x="295.10" y="316.40" style="font-family:'Liberation Sans',sans-serif;font-size:3px" fill="#555" text-anchor="middle">0</text>
<text x="318.91" y="316.40" style="font-family:'Liberation Sans',sans-serif;font-size:3px" fill="#555" text-anchor="middle">20</text>
<text x="342.72" y="316.40" style="font-family:'Liberation Sans',sans-serif;font-size:3px" fill="#555" text-anchor="middle">40</text>
<line x1="285.10" y1="311.60" x2="286.50" y2="309.90" stroke="#3a3" stroke-width="0.7"/>
<rect x="361.30" y="249.60" width="4.90" height="62.50" fill="url(#cb)" stroke="#444" stroke-width="0.5"/>
<line x1="366.20" y1="256.54" x2="367.20" y2="256.54" stroke="#555" stroke-width="0.4"/>
<line x1="366.20" y1="263.49" x2="367.20" y2="263.49" stroke="#555" stroke-width="0.4"/>
<line x1="366.20" y1="270.43" x2="367.20" y2="270.43" stroke="#555" stroke-width="0.4"/>
<line x1="366.20" y1="277.38" x2="367.20" y2="277.38" stroke="#555" stroke-width="0.4"/>
<line x1="366.20" y1="284.32" x2="367.20" y2="284.32" stroke="#555" stroke-width="0.4"/>
<line x1="366.20" y1="291.27" x2="367.20" y2="291.27" stroke="#555" stroke-width="0.4"/>
<line x1="366.20" y1="298.21" x2="367.20" y2="298.21" stroke="#555" stroke-width="0.4"/>
<line x1="366.20" y1="305.16" x2="367.20" y2="305.16" stroke="#555" stroke-width="0.4"/>
<text x="367.80" y="250.50" style="font-family:'Liberation Sans',sans-serif;font-size:2.6px" fill="#888">10</text>
<text x="367.80" y="258.31" style="font-family:'Liberation Sans',sans-serif;font-size:2.6px" fill="#888">0.8</text>
<text x="367.80" y="266.12" style="font-family:'Liberation Sans',sans-serif;font-size:2.6px" fill="#888">0.7</text>
<text x="367.80" y="273.94" style="font-family:'Liberation Sans',sans-serif;font-size:2.6px" fill="#888">0.6</text>
<text x="367.80" y="281.75" style="font-family:'Liberation Sans',sans-serif;font-size:2.6px" fill="#888">0.4</text>
<text x="367.80" y="289.56" style="font-family:'Liberation Sans',sans-serif;font-size:2.6px" fill="#888">0.3</text>
<text x="367.80" y="297.38" style="font-family:'Liberation Sans',sans-serif;font-size:2.6px" fill="#888">0.2</text>
<text x="367.80" y="305.19" style="font-family:'Liberation Sans',sans-serif;font-size:2.6px" fill="#888">0.1</text>
<text x="367.80" y="313.00" style="font-family:'Liberation Sans',sans-serif;font-size:2.6px" fill="#888">0.0</text>
<g clip-path="url(#cpC2)"><g transform="translate(455.70 248.70) scale(5.2417 5.2833)" filter="url(#bl)">
<rect x="-1" y="-1" width="1.1" height="1.1" fill="#e2de12"/>
<rect x="0" y="-1" width="1.1" height="1.1" fill="#e2de12"/>
<rect x="1" y="-1" width="1.1" height="1.1" fill="#e8c412"/>
<rect x="2" y="-1" width="1.1" height="1.1" fill="#e8c412"/>
<rect x="3" y="-1" width="1.1" height="1.1" fill="#e8c412"/>
<rect x="4" y="-1" width="1.1" height="1.1" fill="#e8c412"/>
<rect x="5" y="-1" width="1.1" height="1.1" fill="#e88a16"/>
<rect x="6" y="-1" width="1.1" height="1.1" fill="#e8c412"/>
<rect x="7" y="-1" width="1.1" height="1.1" fill="#e8c412"/>
<rect x="8" y="-1" width="1.1" height="1.1" fill="#e8c412"/>
<rect x="9" y="-1" width="1.1" height="1.1" fill="#e8c412"/>
<rect x="10" y="-1" width="1.1" height="1.1" fill="#e8c412"/>
<rect x="11" y="-1" width="1.1" height="1.1" fill="#e2de12"/>
<rect x="12" y="-1" width="1.1" height="1.1" fill="#e2de12"/>
<rect x="-1" y="0" width="1.1" height="1.1" fill="#e2de12"/>
<rect x="0" y="0" width="1.1" height="1.1" fill="#e2de12"/>
<rect x="1" y="0" width="1.1" height="1.1" fill="#e8c412"/>
<rect x="2" y="0" width="1.1" height="1.1" fill="#e8c412"/>
<rect x="3" y="0" width="1.1" height="1.1" fill="#e8c412"/>
<rect x="4" y="0" width="1.1" height="1.1" fill="#e8c412"/>
<rect x="5" y="0" width="1.1" height="1.1" fill="#e88a16"/>
<rect x="6" y="0" width="1.1" height="1.1" fill="#e8c412"/>
<rect x="7" y="0" width="1.1" height="1.1" fill="#e8c412"/>
<rect x="8" y="0" width="1.1" height="1.1" fill="#e8c412"/>
<rect x="9" y="0" width="1.1" height="1.1" fill="#e8c412"/>
<rect x="10" y="0" width="1.1" height="1.1" fill="#e8c412"/>
<rect x="11" y="0" width="1.1" height="1.1" fill="#e2de12"/>
<rect x="12" y="0" width="1.1" height="1.1" fill="#e2de12"/>
<rect x="-1" y="1" width="1.1" height="1.1" fill="#e8c412"/>
<rect x="0" y="1" width="1.1" height="1.1" fill="#e8c412"/>
<rect x="1" y="1" width="1.1" height="1.1" fill="#e8c412"/>
<rect x="2" y="1" width="1.1" height="1.1" fill="#e8c412"/>
<rect x="3" y="1" width="1.1" height="1.1" fill="#e88a16"/>
<rect x="4" y="1" width="1.1" height="1.1" fill="#e88a16"/>
<rect x="5" y="1" width="1.1" height="1.1" fill="#e88a16"/>
<rect x="6" y="1" width="1.1" height="1.1" fill="#e8c412"/>
<rect x="7" y="1" width="1.1" height="1.1" fill="#e8c412"/>
<rect x="8" y="1" width="1.1" height="1.1" fill="#e8c412"/>
<rect x="9" y="1" width="1.1" height="1.1" fill="#e2de12"/>
<rect x="10" y="1" width="1.1" height="1.1" fill="#e2de12"/>
<rect x="11" y="1" width="1.1" height="1.1" fill="#e8c412"/>
<rect x="12" y="1" width="1.1" height="1.1" fill="#e8c412"/>
<rect x="-1" y="2" width="1.1" height="1.1" fill="#e8c412"/>
<rect x="0" y="2" width="1.1" height="1.1" fill="#e8c412"/>
<rect x="1" y="2" width="1.1" height="1.1" fill="#e88a16"/>
<rect x="2" y="2" width="1.1" height="1.1" fill="#e88a16"/>
<rect x="3" y="2" width="1.1" height="1.1" fill="#e88a16"/>
<rect x="4" y="2" width="1.1" height="1.1" fill="#e8c412"/>
<rect x="5" y="2" width="1.1" height="1.1" fill="#e8c412"/>
<rect x="6" y="2" width="1.1" height="1.1" fill="#e88a16"/>
<rect x="7" y="2" width="1.1" height="1.1" fill="#e8c412"/>
<rect x="8" y="2" width="1.1" height="1.1" fill="#e2de12"/>
<rect x="9" y="2" width="1.1" height="1.1" fill="#e2de12"/>
<rect x="10" y="2" width="1.1" height="1.1" fill="#e2de12"/>
<rect x="11" y="2" width="1.1" height="1.1" fill="#e8c412"/>
<rect x="12" y="2" width="1.1" height="1.1" fill="#e8c412"/>
<rect x="-1" y="3" width="1.1" height="1.1" fill="#e88a16"/>
<rect x="0" y="3" width="1.1" height="1.1" fill="#e88a16"/>
<rect x="1" y="3" width="1.1" height="1.1" fill="#da5612"/>
<rect x="2" y="3" width="1.1" height="1.1" fill="#da5612"/>
<rect x="3" y="3" width="1.1" height="1.1" fill="#e88a16"/>
<rect x="4" y="3" width="1.1" height="1.1" fill="#e8c412"/>
<rect x="5" y="3" width="1.1" height="1.1" fill="#e8c412"/>
<rect x="6" y="3" width="1.1" height="1.1" fill="#e8c412"/>
<rect x="7" y="3" width="1.1" height="1.1" fill="#e2de12"/>
<rect x="8" y="3" width="1.1" height="1.1" fill="#f0ec5f"/>
<rect x="9" y="3" width="1.1" height="1.1" fill="#e2de12"/>
<rect x="10" y="3" width="1.1" height="1.1" fill="#e8c412"/>
<rect x="11" y="3" width="1.1" height="1.1" fill="#e8c412"/>
<rect x="12" y="3" width="1.1" height="1.1" fill="#e8c412"/>
<rect x="-1" y="4" width="1.1" height="1.1" fill="#e88a16"/>
<rect x="0" y="4" width="1.1" height="1.1" fill="#e88a16"/>
<rect x="1" y="4" width="1.1" height="1.1" fill="#da5612"/>
<rect x="2" y="4" width="1.1" height="1.1" fill="#da5612"/>
<rect x="3" y="4" width="1.1" height="1.1" fill="#e88a16"/>
<rect x="4" y="4" width="1.1" height="1.1" fill="#e8c412"/>
<rect x="5" y="4" width="1.1" height="1.1" fill="#e2de12"/>
<rect x="6" y="4" width="1.1" height="1.1" fill="#e2de12"/>
<rect x="7" y="4" width="1.1" height="1.1" fill="#e2de12"/>
<rect x="8" y="4" width="1.1" height="1.1" fill="#e2de12"/>
<rect x="9" y="4" width="1.1" height="1.1" fill="#e8c412"/>
<rect x="10" y="4" width="1.1" height="1.1" fill="#e8c412"/>
<rect x="11" y="4" width="1.1" height="1.1" fill="#e8c412"/>
<rect x="12" y="4" width="1.1" height="1.1" fill="#e8c412"/>
<rect x="-1" y="5" width="1.1" height="1.1" fill="#e8c412"/>
<rect x="0" y="5" width="1.1" height="1.1" fill="#e8c412"/>
<rect x="1" y="5" width="1.1" height="1.1" fill="#e88a16"/>
<rect x="2" y="5" width="1.1" height="1.1" fill="#e88a16"/>
<rect x="3" y="5" width="1.1" height="1.1" fill="#e8c412"/>
<rect x="4" y="5" width="1.1" height="1.1" fill="#e8c412"/>
<rect x="5" y="5" width="1.1" height="1.1" fill="#e2de12"/>
<rect x="6" y="5" width="1.1" height="1.1" fill="#e8c412"/>
<rect x="7" y="5" width="1.1" height="1.1" fill="#e2de12"/>
<rect x="8" y="5" width="1.1" height="1.1" fill="#e8c412"/>
<rect x="9" y="5" width="1.1" height="1.1" fill="#e8c412"/>
<rect x="10" y="5" width="1.1" height="1.1" fill="#e88a16"/>
<rect x="11" y="5" width="1.1" height="1.1" fill="#e8c412"/>
<rect x="12" y="5" width="1.1" height="1.1" fill="#e8c412"/>
<rect x="-1" y="6" width="1.1" height="1.1" fill="#e8c412"/>
<rect x="0" y="6" width="1.1" height="1.1" fill="#e8c412"/>
<rect x="1" y="6" width="1.1" height="1.1" fill="#e8c412"/>
<rect x="2" y="6" width="1.1" height="1.1" fill="#e8c412"/>
<rect x="3" y="6" width="1.1" height="1.1" fill="#e88a16"/>
<rect x="4" y="6" width="1.1" height="1.1" fill="#e8c412"/>
<rect x="5" y="6" width="1.1" height="1.1" fill="#e2de12"/>
<rect x="6" y="6" width="1.1" height="1.1" fill="#e2de12"/>
<rect x="7" y="6" width="1.1" height="1.1" fill="#e8c412"/>
<rect x="8" y="6" width="1.1" height="1.1" fill="#e88a16"/>
<rect x="9" y="6" width="1.1" height="1.1" fill="#e88a16"/>
<rect x="10" y="6" width="1.1" height="1.1" fill="#da5612"/>
<rect x="11" y="6" width="1.1" height="1.1" fill="#da5612"/>
<rect x="12" y="6" width="1.1" height="1.1" fill="#da5612"/>
<rect x="-1" y="7" width="1.1" height="1.1" fill="#e8c412"/>
<rect x="0" y="7" width="1.1" height="1.1" fill="#e8c412"/>
<rect x="1" y="7" width="1.1" height="1.1" fill="#e88a16"/>
<rect x="2" y="7" width="1.1" height="1.1" fill="#e88a16"/>
<rect x="3" y="7" width="1.1" height="1.1" fill="#e88a16"/>
<rect x="4" y="7" width="1.1" height="1.1" fill="#e8c412"/>
<rect x="5" y="7" width="1.1" height="1.1" fill="#e2de12"/>
<rect x="6" y="7" width="1.1" height="1.1" fill="#f0ec5f"/>
<rect x="7" y="7" width="1.1" height="1.1" fill="#e2de12"/>
<rect x="8" y="7" width="1.1" height="1.1" fill="#e8c412"/>
<rect x="9" y="7" width="1.1" height="1.1" fill="#e88a16"/>
<rect x="10" y="7" width="1.1" height="1.1" fill="#da5612"/>
<rect x="11" y="7" width="1.1" height="1.1" fill="#e88a16"/>
<rect x="12" y="7" width="1.1" height="1.1" fill="#e88a16"/>
<rect x="-1" y="8" width="1.1" height="1.1" fill="#e8c412"/>
<rect x="0" y="8" width="1.1" height="1.1" fill="#e8c412"/>
<rect x="1" y="8" width="1.1" height="1.1" fill="#e88a16"/>
<rect x="2" y="8" width="1.1" height="1.1" fill="#da5612"/>
<rect x="3" y="8" width="1.1" height="1.1" fill="#e88a16"/>
<rect x="4" y="8" width="1.1" height="1.1" fill="#e88a16"/>
<rect x="5" y="8" width="1.1" height="1.1" fill="#e8c412"/>
<rect x="6" y="8" width="1.1" height="1.1" fill="#e2de12"/>
<rect x="7" y="8" width="1.1" height="1.1" fill="#e2de12"/>
<rect x="8" y="8" width="1.1" height="1.1" fill="#e8c412"/>
<rect x="9" y="8" width="1.1" height="1.1" fill="#e8c412"/>
<rect x="10" y="8" width="1.1" height="1.1" fill="#e8c412"/>
<rect x="11" y="8" width="1.1" height="1.1" fill="#e8c412"/>
<rect x="12" y="8" width="1.1" height="1.1" fill="#e8c412"/>
<rect x="-1" y="9" width="1.1" height="1.1" fill="#e2de12"/>
<rect x="0" y="9" width="1.1" height="1.1" fill="#e2de12"/>
<rect x="1" y="9" width="1.1" height="1.1" fill="#e88a16"/>
<rect x="2" y="9" width="1.1" height="1.1" fill="#da5612"/>
<rect x="3" y="9" width="1.1" height="1.1" fill="#e88a16"/>
<rect x="4" y="9" width="1.1" height="1.1" fill="#e88a16"/>
<rect x="5" y="9" width="1.1" height="1.1" fill="#e88a16"/>
<rect x="6" y="9" width="1.1" height="1.1" fill="#e8c412"/>
<rect x="7" y="9" width="1.1" height="1.1" fill="#e8c412"/>
<rect x="8" y="9" width="1.1" height="1.1" fill="#e88a16"/>
<rect x="9" y="9" width="1.1" height="1.1" fill="#e8c412"/>
<rect x="10" y="9" width="1.1" height="1.1" fill="#e8c412"/>
<rect x="11" y="9" width="1.1" height="1.1" fill="#e8c412"/>
<rect x="12" y="9" width="1.1" height="1.1" fill="#e8c412"/>
<rect x="-1" y="10" width="1.1" height="1.1" fill="#e2de12"/>
<rect x="0" y="10" width="1.1" height="1.1" fill="#e2de12"/>
<rect x="1" y="10" width="1.1" height="1.1" fill="#e8c412"/>
<rect x="2" y="10" width="1.1" height="1.1" fill="#e88a16"/>
<rect x="3" y="10" width="1.1" height="1.1" fill="#e88a16"/>
<rect x="4" y="10" width="1.1" height="1.1" fill="#e88a16"/>
<rect x="5" y="10" width="1.1" height="1.1" fill="#e8c412"/>
<rect x="6" y="10" width="1.1" height="1.1" fill="#e88a16"/>
<rect x="7" y="10" width="1.1" height="1.1" fill="#e88a16"/>
<rect x="8" y="10" width="1.1" height="1.1" fill="#e8c412"/>
<rect x="9" y="10" width="1.1" height="1.1" fill="#e8c412"/>
<rect x="10" y="10" width="1.1" height="1.1" fill="#f0ec5f"/>
<rect x="11" y="10" width="1.1" height="1.1" fill="#e8c412"/>
<rect x="12" y="10" width="1.1" height="1.1" fill="#e8c412"/>
<rect x="-1" y="11" width="1.1" height="1.1" fill="#f0ec5f"/>
<rect x="0" y="11" width="1.1" height="1.1" fill="#f0ec5f"/>
<rect x="1" y="11" width="1.1" height="1.1" fill="#e8c412"/>
<rect x="2" y="11" width="1.1" height="1.1" fill="#e8c412"/>
<rect x="3" y="11" width="1.1" height="1.1" fill="#e88a16"/>
<rect x="4" y="11" width="1.1" height="1.1" fill="#e88a16"/>
<rect x="5" y="11" width="1.1" height="1.1" fill="#e8c412"/>
<rect x="6" y="11" width="1.1" height="1.1" fill="#e8c412"/>
<rect x="7" y="11" width="1.1" height="1.1" fill="#e8c412"/>
<rect x="8" y="11" width="1.1" height="1.1" fill="#e8c412"/>
<rect x="9" y="11" width="1.1" height="1.1" fill="#e8c412"/>
<rect x="10" y="11" width="1.1" height="1.1" fill="#e8c412"/>
<rect x="11" y="11" width="1.1" height="1.1" fill="#f0ec5f"/>
<rect x="12" y="11" width="1.1" height="1.1" fill="#f0ec5f"/>
<rect x="-1" y="12" width="1.1" height="1.1" fill="#f0ec5f"/>
<rect x="0" y="12" width="1.1" height="1.1" fill="#f0ec5f"/>
<rect x="1" y="12" width="1.1" height="1.1" fill="#e8c412"/>
<rect x="2" y="12" width="1.1" height="1.1" fill="#e8c412"/>
<rect x="3" y="12" width="1.1" height="1.1" fill="#e88a16"/>
<rect x="4" y="12" width="1.1" height="1.1" fill="#e88a16"/>
<rect x="5" y="12" width="1.1" height="1.1" fill="#e8c412"/>
<rect x="6" y="12" width="1.1" height="1.1" fill="#e8c412"/>
<rect x="7" y="12" width="1.1" height="1.1" fill="#e8c412"/>
<rect x="8" y="12" width="1.1" height="1.1" fill="#e8c412"/>
<rect x="9" y="12" width="1.1" height="1.1" fill="#e8c412"/>
<rect x="10" y="12" width="1.1" height="1.1" fill="#e8c412"/>
<rect x="11" y="12" width="1.1" height="1.1" fill="#f0ec5f"/>
<rect x="12" y="12" width="1.1" height="1.1" fill="#f0ec5f"/>
</g><rect x="455.70" y="248.70" width="62.90" height="63.40" filter="url(#grain)" opacity="0.18"/></g>
<rect x="456.60" y="249.60" width="61.10" height="61.60" fill="none" stroke="#eeee10" stroke-opacity="0.7" stroke-width="1"/>
<rect x="455.70" y="248.70" width="62.90" height="63.40" fill="none" stroke="#333" stroke-width="0.8"/>
<line x1="455.70" y1="312.10" x2="454.30" y2="312.10" stroke="#222" stroke-width="0.6"/>
<line x1="455.70" y1="309.71" x2="454.70" y2="309.71" stroke="#222" stroke-width="0.6"/>
<line x1="455.70" y1="307.32" x2="454.70" y2="307.32" stroke="#222" stroke-width="0.6"/>
<line x1="455.70" y1="304.92" x2="454.70" y2="304.92" stroke="#222" stroke-width="0.6"/>
<line x1="455.70" y1="302.53" x2="454.70" y2="302.53" stroke="#222" stroke-width="0.6"/>
<line x1="455.70" y1="300.14" x2="454.30" y2="300.14" stroke="#222" stroke-width="0.6"/>
<line x1="455.70" y1="297.75" x2="454.70" y2="297.75" stroke="#222" stroke-width="0.6"/>
<line x1="455.70" y1="295.35" x2="454.70" y2="295.35" stroke="#222" stroke-width="0.6"/>
<line x1="455.70" y1="292.96" x2="454.70" y2="292.96" stroke="#222" stroke-width="0.6"/>
<line x1="455.70" y1="290.57" x2="454.70" y2="290.57" stroke="#222" stroke-width="0.6"/>
<line x1="455.70" y1="288.18" x2="454.30" y2="288.18" stroke="#222" stroke-width="0.6"/>
<line x1="455.70" y1="285.78" x2="454.70" y2="285.78" stroke="#222" stroke-width="0.6"/>
<line x1="455.70" y1="283.39" x2="454.70" y2="283.39" stroke="#222" stroke-width="0.6"/>
<line x1="455.70" y1="281.00" x2="454.70" y2="281.00" stroke="#222" stroke-width="0.6"/>
<line x1="455.70" y1="278.61" x2="454.70" y2="278.61" stroke="#222" stroke-width="0.6"/>
<line x1="455.70" y1="276.21" x2="454.30" y2="276.21" stroke="#222" stroke-width="0.6"/>
<line x1="455.70" y1="273.82" x2="454.70" y2="273.82" stroke="#222" stroke-width="0.6"/>
<line x1="455.70" y1="271.43" x2="454.70" y2="271.43" stroke="#222" stroke-width="0.6"/>
<line x1="455.70" y1="269.04" x2="454.70" y2="269.04" stroke="#222" stroke-width="0.6"/>
<line x1="455.70" y1="266.64" x2="454.70" y2="266.64" stroke="#222" stroke-width="0.6"/>
<line x1="455.70" y1="264.25" x2="454.30" y2="264.25" stroke="#222" stroke-width="0.6"/>
<line x1="455.70" y1="261.86" x2="454.70" y2="261.86" stroke="#222" stroke-width="0.6"/>
<line x1="455.70" y1="259.47" x2="454.70" y2="259.47" stroke="#222" stroke-width="0.6"/>
<line x1="455.70" y1="257.07" x2="454.70" y2="257.07" stroke="#222" stroke-width="0.6"/>
<line x1="455.70" y1="254.68" x2="454.70" y2="254.68" stroke="#222" stroke-width="0.6"/>
<line x1="455.70" y1="252.29" x2="454.30" y2="252.29" stroke="#222" stroke-width="0.6"/>
<line x1="455.70" y1="249.90" x2="454.70" y2="249.90" stroke="#222" stroke-width="0.6"/>
<line x1="455.70" y1="312.10" x2="455.70" y2="313.20" stroke="#333" stroke-width="0.5"/>
<line x1="455.70" y1="248.70" x2="455.70" y2="247.60" stroke="#333" stroke-width="0.5"/>
<line x1="460.48" y1="312.10" x2="460.48" y2="312.80" stroke="#333" stroke-width="0.5"/>
<line x1="460.48" y1="248.70" x2="460.48" y2="248.00" stroke="#333" stroke-width="0.5"/>
<line x1="465.27" y1="312.10" x2="465.27" y2="312.80" stroke="#333" stroke-width="0.5"/>
<line x1="465.27" y1="248.70" x2="465.27" y2="248.00" stroke="#333" stroke-width="0.5"/>
<line x1="470.05" y1="312.10" x2="470.05" y2="312.80" stroke="#333" stroke-width="0.5"/>
<line x1="470.05" y1="248.70" x2="470.05" y2="248.00" stroke="#333" stroke-width="0.5"/>
<line x1="474.84" y1="312.10" x2="474.84" y2="312.80" stroke="#333" stroke-width="0.5"/>
<line x1="474.84" y1="248.70" x2="474.84" y2="248.00" stroke="#333" stroke-width="0.5"/>
<line x1="479.62" y1="312.10" x2="479.62" y2="313.20" stroke="#333" stroke-width="0.5"/>
<line x1="479.62" y1="248.70" x2="479.62" y2="247.60" stroke="#333" stroke-width="0.5"/>
<line x1="484.41" y1="312.10" x2="484.41" y2="312.80" stroke="#333" stroke-width="0.5"/>
<line x1="484.41" y1="248.70" x2="484.41" y2="248.00" stroke="#333" stroke-width="0.5"/>
<line x1="489.19" y1="312.10" x2="489.19" y2="312.80" stroke="#333" stroke-width="0.5"/>
<line x1="489.19" y1="248.70" x2="489.19" y2="248.00" stroke="#333" stroke-width="0.5"/>
<line x1="493.98" y1="312.10" x2="493.98" y2="312.80" stroke="#333" stroke-width="0.5"/>
<line x1="493.98" y1="248.70" x2="493.98" y2="248.00" stroke="#333" stroke-width="0.5"/>
<line x1="498.76" y1="312.10" x2="498.76" y2="312.80" stroke="#333" stroke-width="0.5"/>
<line x1="498.76" y1="248.70" x2="498.76" y2="248.00" stroke="#333" stroke-width="0.5"/>
<line x1="503.55" y1="312.10" x2="503.55" y2="313.20" stroke="#333" stroke-width="0.5"/>
<line x1="503.55" y1="248.70" x2="503.55" y2="247.60" stroke="#333" stroke-width="0.5"/>
<line x1="508.33" y1="312.10" x2="508.33" y2="312.80" stroke="#333" stroke-width="0.5"/>
<line x1="508.33" y1="248.70" x2="508.33" y2="248.00" stroke="#333" stroke-width="0.5"/>
<line x1="513.12" y1="312.10" x2="513.12" y2="312.80" stroke="#333" stroke-width="0.5"/>
<line x1="513.12" y1="248.70" x2="513.12" y2="248.00" stroke="#333" stroke-width="0.5"/>
<line x1="517.90" y1="312.10" x2="517.90" y2="312.80" stroke="#333" stroke-width="0.5"/>
<line x1="517.90" y1="248.70" x2="517.90" y2="248.00" stroke="#333" stroke-width="0.5"/>
<text x="453.90" y="301.14" style="font-family:'Liberation Sans',sans-serif;font-size:3px" fill="#555" text-anchor="end">10</text>
<text x="453.90" y="289.18" style="font-family:'Liberation Sans',sans-serif;font-size:3px" fill="#555" text-anchor="end">20</text>
<text x="453.90" y="277.21" style="font-family:'Liberation Sans',sans-serif;font-size:3px" fill="#555" text-anchor="end">30</text>
<text x="453.90" y="265.25" style="font-family:'Liberation Sans',sans-serif;font-size:3px" fill="#555" text-anchor="end">40</text>
<text x="453.90" y="313.10" style="font-family:'Liberation Sans',sans-serif;font-size:3px" fill="#555" text-anchor="end">0</text>
<text x="455.70" y="316.40" style="font-family:'Liberation Sans',sans-serif;font-size:3px" fill="#555" text-anchor="middle">0</text>
<text x="479.62" y="316.40" style="font-family:'Liberation Sans',sans-serif;font-size:3px" fill="#555" text-anchor="middle">20</text>
<text x="503.55" y="316.40" style="font-family:'Liberation Sans',sans-serif;font-size:3px" fill="#555" text-anchor="middle">40</text>
<line x1="445.70" y1="311.60" x2="447.10" y2="309.90" stroke="#3a3" stroke-width="0.7"/>
<rect x="522.10" y="249.60" width="4.90" height="62.50" fill="url(#cb)" stroke="#444" stroke-width="0.5"/>
<line x1="527.00" y1="256.54" x2="528.00" y2="256.54" stroke="#555" stroke-width="0.4"/>
<line x1="527.00" y1="263.49" x2="528.00" y2="263.49" stroke="#555" stroke-width="0.4"/>
<line x1="527.00" y1="270.43" x2="528.00" y2="270.43" stroke="#555" stroke-width="0.4"/>
<line x1="527.00" y1="277.38" x2="528.00" y2="277.38" stroke="#555" stroke-width="0.4"/>
<line x1="527.00" y1="284.32" x2="528.00" y2="284.32" stroke="#555" stroke-width="0.4"/>
<line x1="527.00" y1="291.27" x2="528.00" y2="291.27" stroke="#555" stroke-width="0.4"/>
<line x1="527.00" y1="298.21" x2="528.00" y2="298.21" stroke="#555" stroke-width="0.4"/>
<line x1="527.00" y1="305.16" x2="528.00" y2="305.16" stroke="#555" stroke-width="0.4"/>
<text x="528.60" y="250.50" style="font-family:'Liberation Sans',sans-serif;font-size:2.6px" fill="#888">10</text>
<text x="528.60" y="258.31" style="font-family:'Liberation Sans',sans-serif;font-size:2.6px" fill="#888">0.8</text>
<text x="528.60" y="266.12" style="font-family:'Liberation Sans',sans-serif;font-size:2.6px" fill="#888">0.7</text>
<text x="528.60" y="273.94" style="font-family:'Liberation Sans',sans-serif;font-size:2.6px" fill="#888">0.6</text>
<text x="528.60" y="281.75" style="font-family:'Liberation Sans',sans-serif;font-size:2.6px" fill="#888">0.4</text>
<text x="528.60" y="289.56" style="font-family:'Liberation Sans',sans-serif;font-size:2.6px" fill="#888">0.3</text>
<text x="528.60" y="297.38" style="font-family:'Liberation Sans',sans-serif;font-size:2.6px" fill="#888">0.2</text>
<text x="528.60" y="305.19" style="font-family:'Liberation Sans',sans-serif;font-size:2.6px" fill="#888">0.1</text>
<text x="528.60" y="313.00" style="font-family:'Liberation Sans',sans-serif;font-size:2.6px" fill="#888">0.0</text>
<g clip-path="url(#cpF3)"><g transform="translate(135.50 343.10) scale(5.2083 5.2583)" filter="url(#bl)">
<rect x="-1" y="-1" width="1.1" height="1.1" fill="#e2de12"/>
<rect x="0" y="-1" width="1.1" height="1.1" fill="#e2de12"/>
<rect x="1" y="-1" width="1.1" height="1.1" fill="#f0ec5f"/>
<rect x="2" y="-1" width="1.1" height="1.1" fill="#f0ec5f"/>
<rect x="3" y="-1" width="1.1" height="1.1" fill="#f0ec5f"/>
<rect x="4" y="-1" width="1.1" height="1.1" fill="#e2de12"/>
<rect x="5" y="-1" width="1.1" height="1.1" fill="#e2de12"/>
<rect x="6" y="-1" width="1.1" height="1.1" fill="#e2de12"/>
<rect x="7" y="-1" width="1.1" height="1.1" fill="#f0ec5f"/>
<rect x="8" y="-1" width="1.1" height="1.1" fill="#f0ec5f"/>
<rect x="9" y="-1" width="1.1" height="1.1" fill="#f0ec5f"/>
<rect x="10" y="-1" width="1.1" height="1.1" fill="#f0ec5f"/>
<rect x="11" y="-1" width="1.1" height="1.1" fill="#e2de12"/>
<rect x="12" y="-1" width="1.1" height="1.1" fill="#e2de12"/>
<rect x="-1" y="0" width="1.1" height="1.1" fill="#e2de12"/>
<rect x="0" y="0" width="1.1" height="1.1" fill="#e2de12"/>
<rect x="1" y="0" width="1.1" height="1.1" fill="#f0ec5f"/>
<rect x="2" y="0" width="1.1" height="1.1" fill="#f0ec5f"/>
<rect x="3" y="0" width="1.1" height="1.1" fill="#f0ec5f"/>
<rect x="4" y="0" width="1.1" height="1.1" fill="#e2de12"/>
<rect x="5" y="0" width="1.1" height="1.1" fill="#e2de12"/>
<rect x="6" y="0" width="1.1" height="1.1" fill="#e2de12"/>
<rect x="7" y="0" width="1.1" height="1.1" fill="#f0ec5f"/>
<rect x="8" y="0" width="1.1" height="1.1" fill="#f0ec5f"/>
<rect x="9" y="0" width="1.1" height="1.1" fill="#f0ec5f"/>
<rect x="10" y="0" width="1.1" height="1.1" fill="#f0ec5f"/>
<rect x="11" y="0" width="1.1" height="1.1" fill="#e2de12"/>
<rect x="12" y="0" width="1.1" height="1.1" fill="#e2de12"/>
<rect x="-1" y="1" width="1.1" height="1.1" fill="#e2de12"/>
<rect x="0" y="1" width="1.1" height="1.1" fill="#e2de12"/>
<rect x="1" y="1" width="1.1" height="1.1" fill="#f0ec5f"/>
<rect x="2" y="1" width="1.1" height="1.1" fill="#f0ec5f"/>
<rect x="3" y="1" width="1.1" height="1.1" fill="#e2de12"/>
<rect x="4" y="1" width="1.1" height="1.1" fill="#e8c412"/>
<rect x="5" y="1" width="1.1" height="1.1" fill="#e8c412"/>
<rect x="6" y="1" width="1.1" height="1.1" fill="#e2de12"/>
<rect x="7" y="1" width="1.1" height="1.1" fill="#f0ec5f"/>
<rect x="8" y="1" width="1.1" height="1.1" fill="#f0ec5f"/>
<rect x="9" y="1" width="1.1" height="1.1" fill="#f0ec5f"/>
<rect x="10" y="1" width="1.1" height="1.1" fill="#f0ec5f"/>
<rect x="11" y="1" width="1.1" height="1.1" fill="#e2de12"/>
<rect x="12" y="1" width="1.1" height="1.1" fill="#e2de12"/>
<rect x="-1" y="2" width="1.1" height="1.1" fill="#e8c412"/>
<rect x="0" y="2" width="1.1" height="1.1" fill="#e8c412"/>
<rect x="1" y="2" width="1.1" height="1.1" fill="#e88a16"/>
<rect x="2" y="2" width="1.1" height="1.1" fill="#e8c412"/>
<rect x="3" y="2" width="1.1" height="1.1" fill="#e88a16"/>
<rect x="4" y="2" width="1.1" height="1.1" fill="#e88a16"/>
<rect x="5" y="2" width="1.1" height="1.1" fill="#e88a16"/>
<rect x="6" y="2" width="1.1" height="1.1" fill="#e2de12"/>
<rect x="7" y="2" width="1.1" height="1.1" fill="#f0ec5f"/>
<rect x="8" y="2" width="1.1" height="1.1" fill="#f0ec5f"/>
<rect x="9" y="2" width="1.1" height="1.1" fill="#f0ec5f"/>
<rect x="10" y="2" width="1.1" height="1.1" fill="#f0ec5f"/>
<rect x="11" y="2" width="1.1" height="1.1" fill="#e2de12"/>
<rect x="12" y="2" width="1.1" height="1.1" fill="#e2de12"/>
<rect x="-1" y="3" width="1.1" height="1.1" fill="#e8c412"/>
<rect x="0" y="3" width="1.1" height="1.1" fill="#e8c412"/>
<rect x="1" y="3" width="1.1" height="1.1" fill="#e88a16"/>
<rect x="2" y="3" width="1.1" height="1.1" fill="#e88a16"/>
<rect x="3" y="3" width="1.1" height="1.1" fill="#e88a16"/>
<rect x="4" y="3" width="1.1" height="1.1" fill="#e8c412"/>
<rect x="5" y="3" width="1.1" height="1.1" fill="#e2de12"/>
<rect x="6" y="3" width="1.1" height="1.1" fill="#e2de12"/>
<rect x="7" y="3" width="1.1" height="1.1" fill="#e2de12"/>
<rect x="8" y="3" width="1.1" height="1.1" fill="#f0ec5f"/>
<rect x="9" y="3" width="1.1" height="1.1" fill="#f0ec5f"/>
<rect x="10" y="3" width="1.1" height="1.1" fill="#e2de12"/>
<rect x="11" y="3" width="1.1" height="1.1" fill="#e2de12"/>
<rect x="12" y="3" width="1.1" height="1.1" fill="#e2de12"/>
<rect x="-1" y="4" width="1.1" height="1.1" fill="#f0ec5f"/>
<rect x="0" y="4" width="1.1" height="1.1" fill="#f0ec5f"/>
<rect x="1" y="4" width="1.1" height="1.1" fill="#e2de12"/>
<rect x="2" y="4" width="1.1" height="1.1" fill="#e2de12"/>
<rect x="3" y="4" width="1.1" height="1.1" fill="#e2de12"/>
<rect x="4" y="4" width="1.1" height="1.1" fill="#e2de12"/>
<rect x="5" y="4" width="1.1" height="1.1" fill="#e2de12"/>
<rect x="6" y="4" width="1.1" height="1.1" fill="#e8c412"/>
<rect x="7" y="4" width="1.1" height="1.1" fill="#e8c412"/>
<rect x="8" y="4" width="1.1" height="1.1" fill="#e2de12"/>
<rect x="9" y="4" width="1.1" height="1.1" fill="#f0ec5f"/>
<rect x="10" y="4" width="1.1" height="1.1" fill="#f0ec5f"/>
<rect x="11" y="4" width="1.1" height="1.1" fill="#e2de12"/>
<rect x="12" y="4" width="1.1" height="1.1" fill="#e2de12"/>
<rect x="-1" y="5" width="1.1" height="1.1" fill="#f8f6af"/>
<rect x="0" y="5" width="1.1" height="1.1" fill="#f8f6af"/>
<rect x="1" y="5" width="1.1" height="1.1" fill="#f0ec5f"/>
<rect x="2" y="5" width="1.1" height="1.1" fill="#e2de12"/>
<rect x="3" y="5" width="1.1" height="1.1" fill="#e2de12"/>
<rect x="4" y="5" width="1.1" height="1.1" fill="#e2de12"/>
<rect x="5" y="5" width="1.1" height="1.1" fill="#e8c412"/>
<rect x="6" y="5" width="1.1" height="1.1" fill="#e88a16"/>
<rect x="7" y="5" width="1.1" height="1.1" fill="#e8c412"/>
<rect x="8" y="5" width="1.1" height="1.1" fill="#e2de12"/>
<rect x="9" y="5" width="1.1" height="1.1" fill="#f0ec5f"/>
<rect x="10" y="5" width="1.1" height="1.1" fill="#f0ec5f"/>
<rect x="11" y="5" width="1.1" height="1.1" fill="#e2de12"/>
<rect x="12" y="5" width="1.1" height="1.1" fill="#e2de12"/>
<rect x="-1" y="6" width="1.1" height="1.1" fill="#f8f6af"/>
<rect x="0" y="6" width="1.1" height="1.1" fill="#f8f6af"/>
<rect x="1" y="6" width="1.1" height="1.1" fill="#f0ec5f"/>
<rect x="2" y="6" width="1.1" height="1.1" fill="#e2de12"/>
<rect x="3" y="6" width="1.1" height="1.1" fill="#e8c412"/>
<rect x="4" y="6" width="1.1" height="1.1" fill="#e88a16"/>
<rect x="5" y="6" width="1.1" height="1.1" fill="#e8c412"/>
<rect x="6" y="6" width="1.1" height="1.1" fill="#e2de12"/>
<rect x="7" y="6" width="1.1" height="1.1" fill="#e2de12"/>
<rect x="8" y="6" width="1.1" height="1.1" fill="#f0ec5f"/>
<rect x="9" y="6" width="1.1" height="1.1" fill="#f0ec5f"/>
<rect x="10" y="6" width="1.1" height="1.1" fill="#f0ec5f"/>
<rect x="11" y="6" width="1.1" height="1.1" fill="#e2de12"/>
<rect x="12" y="6" width="1.1" height="1.1" fill="#e2de12"/>
<rect x="-1" y="7" width="1.1" height="1.1" fill="#f0ec5f"/>
<rect x="0" y="7" width="1.1" height="1.1" fill="#f0ec5f"/>
<rect x="1" y="7" width="1.1" height="1.1" fill="#e2de12"/>
<rect x="2" y="7" width="1.1" height="1.1" fill="#e8c412"/>
<rect x="3" y="7" width="1.1" height="1.1" fill="#e88a16"/>
<rect x="4" y="7" width="1.1" height="1.1" fill="#e88a16"/>
<rect x="5" y="7" width="1.1" height="1.1" fill="#e8c412"/>
<rect x="6" y="7" width="1.1" height="1.1" fill="#e2de12"/>
<rect x="7" y="7" width="1.1" height="1.1" fill="#f0ec5f"/>
<rect x="8" y="7" width="1.1" height="1.1" fill="#f0ec5f"/>
<rect x="9" y="7" width="1.1" height="1.1" fill="#f0ec5f"/>
<rect x="10" y="7" width="1.1" height="1.1" fill="#e2de12"/>
<rect x="11" y="7" width="1.1" height="1.1" fill="#e2de12"/>
<rect x="12" y="7" width="1.1" height="1.1" fill="#e2de12"/>
<rect x="-1" y="8" width="1.1" height="1.1" fill="#f0ec5f"/>
<rect x="0" y="8" width="1.1" height="1.1" fill="#f0ec5f"/>
<rect x="1" y="8" width="1.1" height="1.1" fill="#e2de12"/>
<rect x="2" y="8" width="1.1" height="1.1" fill="#e2de12"/>
<rect x="3" y="8" width="1.1" height="1.1" fill="#e8c412"/>
<rect x="4" y="8" width="1.1" height="1.1" fill="#e8c412"/>
<rect x="5" y="8" width="1.1" height="1.1" fill="#e2de12"/>
<rect x="6" y="8" width="1.1" height="1.1" fill="#f0ec5f"/>
<rect x="7" y="8" width="1.1" height="1.1" fill="#f8f6af"/>
<rect x="8" y="8" width="1.1" height="1.1" fill="#f0ec5f"/>
<rect x="9" y="8" width="1.1" height="1.1" fill="#e2de12"/>
<rect x="10" y="8" width="1.1" height="1.1" fill="#e2de12"/>
<rect x="11" y="8" width="1.1" height="1.1" fill="#e2de12"/>
<rect x="12" y="8" width="1.1" height="1.1" fill="#e2de12"/>
<rect x="-1" y="9" width="1.1" height="1.1" fill="#e2de12"/>
<rect x="0" y="9" width="1.1" height="1.1" fill="#e2de12"/>
<rect x="1" y="9" width="1.1" height="1.1" fill="#e2de12"/>
<rect x="2" y="9" width="1.1" height="1.1" fill="#e2de12"/>
<rect x="3" y="9" width="1.1" height="1.1" fill="#e2de12"/>
<rect x="4" y="9" width="1.1" height="1.1" fill="#e2de12"/>
<rect x="5" y="9" width="1.1" height="1.1" fill="#f0ec5f"/>
<rect x="6" y="9" width="1.1" height="1.1" fill="#f8f6af"/>
<rect x="7" y="9" width="1.1" height="1.1" fill="#f0ec5f"/>
<rect x="8" y="9" width="1.1" height="1.1" fill="#e8c412"/>
<rect x="9" y="9" width="1.1" height="1.1" fill="#e8c412"/>
<rect x="10" y="9" width="1.1" height="1.1" fill="#e2de12"/>
<rect x="11" y="9" width="1.1" height="1.1" fill="#e2de12"/>
<rect x="12" y="9" width="1.1" height="1.1" fill="#e2de12"/>
<rect x="-1" y="10" width="1.1" height="1.1" fill="#e2de12"/>
<rect x="0" y="10" width="1.1" height="1.1" fill="#e2de12"/>
<rect x="1" y="10" width="1.1" height="1.1" fill="#e2de12"/>
<rect x="2" y="10" width="1.1" height="1.1" fill="#e2de12"/>
<rect x="3" y="10" width="1.1" height="1.1" fill="#e2de12"/>
<rect x="4" y="10" width="1.1" height="1.1" fill="#f0ec5f"/>
<rect x="5" y="10" width="1.1" height="1.1" fill="#f0ec5f"/>
<rect x="6" y="10" width="1.1" height="1.1" fill="#f0ec5f"/>
<rect x="7" y="10" width="1.1" height="1.1" fill="#e2de12"/>
<rect x="8" y="10" width="1.1" height="1.1" fill="#e8c412"/>
<rect x="9" y="10" width="1.1" height="1.1" fill="#e8c412"/>
<rect x="10" y="10" width="1.1" height="1.1" fill="#e2de12"/>
<rect x="11" y="10" width="1.1" height="1.1" fill="#e2de12"/>
<rect x="12" y="10" width="1.1" height="1.1" fill="#e2de12"/>
<rect x="-1" y="11" width="1.1" height="1.1" fill="#e2de12"/>
<rect x="0" y="11" width="1.1" height="1.1" fill="#e2de12"/>
<rect x="1" y="11" width="1.1" height="1.1" fill="#e2de12"/>
<rect x="2" y="11" width="1.1" height="1.1" fill="#e2de12"/>
<rect x="3" y="11" width="1.1" height="1.1" fill="#e2de12"/>
<rect x="4" y="11" width="1.1" height="1.1" fill="#e2de12"/>
<rect x="5" y="11" width="1.1" height="1.1" fill="#f0ec5f"/>
<rect x="6" y="11" width="1.1" height="1.1" fill="#e2de12"/>
<rect x="7" y="11" width="1.1" height="1.1" fill="#e2de12"/>
<rect x="8" y="11" width="1.1" height="1.1" fill="#e2de12"/>
<rect x="9" y="11" width="1.1" height="1.1" fill="#e2de12"/>
<rect x="10" y="11" width="1.1" height="1.1" fill="#e2de12"/>
<rect x="11" y="11" width="1.1" height="1.1" fill="#e2de12"/>
<rect x="12" y="11" width="1.1" height="1.1" fill="#e2de12"/>
<rect x="-1" y="12" width="1.1" height="1.1" fill="#e2de12"/>
<rect x="0" y="12" width="1.1" height="1.1" fill="#e2de12"/>
<rect x="1" y="12" width="1.1" height="1.1" fill="#e2de12"/>
<rect x="2" y="12" width="1.1" height="1.1" fill="#e2de12"/>
<rect x="3" y="12" width="1.1" height="1.1" fill="#e2de12"/>
<rect x="4" y="12" width="1.1" height="1.1" fill="#e2de12"/>
<rect x="5" y="12" width="1.1" height="1.1" fill="#f0ec5f"/>
<rect x="6" y="12" width="1.1" height="1.1" fill="#e2de12"/>
<rect x="7" y="12" width="1.1" height="1.1" fill="#e2de12"/>
<rect x="8" y="12" width="1.1" height="1.1" fill="#e2de12"/>
<rect x="9" y="12" width="1.1" height="1.1" fill="#e2de12"/>
<rect x="10" y="12" width="1.1" height="1.1" fill="#e2de12"/>
<rect x="11" y="12" width="1.1" height="1.1" fill="#e2de12"/>
<rect x="12" y="12" width="1.1" height="1.1" fill="#e2de12"/>
</g><rect x="135.50" y="343.10" width="62.50" height="63.10" filter="url(#grain)" opacity="0.18"/></g>
<rect x="136.40" y="344.00" width="60.70" height="61.30" fill="none" stroke="#eeee10" stroke-opacity="0.7" stroke-width="1"/>
<rect x="135.50" y="343.10" width="62.50" height="63.10" fill="none" stroke="#333" stroke-width="0.8"/>
<line x1="135.50" y1="406.20" x2="134.10" y2="406.20" stroke="#222" stroke-width="0.6"/>
<line x1="135.50" y1="403.82" x2="134.50" y2="403.82" stroke="#222" stroke-width="0.6"/>
<line x1="135.50" y1="401.44" x2="134.50" y2="401.44" stroke="#222" stroke-width="0.6"/>
<line x1="135.50" y1="399.06" x2="134.50" y2="399.06" stroke="#222" stroke-width="0.6"/>
<line x1="135.50" y1="396.68" x2="134.50" y2="396.68" stroke="#222" stroke-width="0.6"/>
<line x1="135.50" y1="394.29" x2="134.10" y2="394.29" stroke="#222" stroke-width="0.6"/>
<line x1="135.50" y1="391.91" x2="134.50" y2="391.91" stroke="#222" stroke-width="0.6"/>
<line x1="135.50" y1="389.53" x2="134.50" y2="389.53" stroke="#222" stroke-width="0.6"/>
<line x1="135.50" y1="387.15" x2="134.50" y2="387.15" stroke="#222" stroke-width="0.6"/>
<line x1="135.50" y1="384.77" x2="134.50" y2="384.77" stroke="#222" stroke-width="0.6"/>
<line x1="135.50" y1="382.39" x2="134.10" y2="382.39" stroke="#222" stroke-width="0.6"/>
<line x1="135.50" y1="380.01" x2="134.50" y2="380.01" stroke="#222" stroke-width="0.6"/>
<line x1="135.50" y1="377.63" x2="134.50" y2="377.63" stroke="#222" stroke-width="0.6"/>
<line x1="135.50" y1="375.25" x2="134.50" y2="375.25" stroke="#222" stroke-width="0.6"/>
<line x1="135.50" y1="372.86" x2="134.50" y2="372.86" stroke="#222" stroke-width="0.6"/>
<line x1="135.50" y1="370.48" x2="134.10" y2="370.48" stroke="#222" stroke-width="0.6"/>
<line x1="135.50" y1="368.10" x2="134.50" y2="368.10" stroke="#222" stroke-width="0.6"/>
<line x1="135.50" y1="365.72" x2="134.50" y2="365.72" stroke="#222" stroke-width="0.6"/>
<line x1="135.50" y1="363.34" x2="134.50" y2="363.34" stroke="#222" stroke-width="0.6"/>
<line x1="135.50" y1="360.96" x2="134.50" y2="360.96" stroke="#222" stroke-width="0.6"/>
<line x1="135.50" y1="358.58" x2="134.10" y2="358.58" stroke="#222" stroke-width="0.6"/>
<line x1="135.50" y1="356.20" x2="134.50" y2="356.20" stroke="#222" stroke-width="0.6"/>
<line x1="135.50" y1="353.82" x2="134.50" y2="353.82" stroke="#222" stroke-width="0.6"/>
<line x1="135.50" y1="351.43" x2="134.50" y2="351.43" stroke="#222" stroke-width="0.6"/>
<line x1="135.50" y1="349.05" x2="134.50" y2="349.05" stroke="#222" stroke-width="0.6"/>
<line x1="135.50" y1="346.67" x2="134.10" y2="346.67" stroke="#222" stroke-width="0.6"/>
<line x1="135.50" y1="344.29" x2="134.50" y2="344.29" stroke="#222" stroke-width="0.6"/>
<line x1="135.50" y1="406.20" x2="135.50" y2="407.30" stroke="#333" stroke-width="0.5"/>
<line x1="135.50" y1="343.10" x2="135.50" y2="342.00" stroke="#333" stroke-width="0.5"/>
<line x1="140.26" y1="406.20" x2="140.26" y2="406.90" stroke="#333" stroke-width="0.5"/>
<line x1="140.26" y1="343.10" x2="140.26" y2="342.40" stroke="#333" stroke-width="0.5"/>
<line x1="145.02" y1="406.20" x2="145.02" y2="406.90" stroke="#333" stroke-width="0.5"/>
<line x1="145.02" y1="343.10" x2="145.02" y2="342.40" stroke="#333" stroke-width="0.5"/>
<line x1="149.79" y1="406.20" x2="149.79" y2="406.90" stroke="#333" stroke-width="0.5"/>
<line x1="149.79" y1="343.10" x2="149.79" y2="342.40" stroke="#333" stroke-width="0.5"/>
<line x1="154.55" y1="406.20" x2="154.55" y2="406.90" stroke="#333" stroke-width="0.5"/>
<line x1="154.55" y1="343.10" x2="154.55" y2="342.40" stroke="#333" stroke-width="0.5"/>
<line x1="159.31" y1="406.20" x2="159.31" y2="407.30" stroke="#333" stroke-width="0.5"/>
<line x1="159.31" y1="343.10" x2="159.31" y2="342.00" stroke="#333" stroke-width="0.5"/>
<line x1="164.07" y1="406.20" x2="164.07" y2="406.90" stroke="#333" stroke-width="0.5"/>
<line x1="164.07" y1="343.10" x2="164.07" y2="342.40" stroke="#333" stroke-width="0.5"/>
<line x1="168.84" y1="406.20" x2="168.84" y2="406.90" stroke="#333" stroke-width="0.5"/>
<line x1="168.84" y1="343.10" x2="168.84" y2="342.40" stroke="#333" stroke-width="0.5"/>
<line x1="173.60" y1="406.20" x2="173.60" y2="406.90" stroke="#333" stroke-width="0.5"/>
<line x1="173.60" y1="343.10" x2="173.60" y2="342.40" stroke="#333" stroke-width="0.5"/>
<line x1="178.36" y1="406.20" x2="178.36" y2="406.90" stroke="#333" stroke-width="0.5"/>
<line x1="178.36" y1="343.10" x2="178.36" y2="342.40" stroke="#333" stroke-width="0.5"/>
<line x1="183.12" y1="406.20" x2="183.12" y2="407.30" stroke="#333" stroke-width="0.5"/>
<line x1="183.12" y1="343.10" x2="183.12" y2="342.00" stroke="#333" stroke-width="0.5"/>
<line x1="187.88" y1="406.20" x2="187.88" y2="406.90" stroke="#333" stroke-width="0.5"/>
<line x1="187.88" y1="343.10" x2="187.88" y2="342.40" stroke="#333" stroke-width="0.5"/>
<line x1="192.65" y1="406.20" x2="192.65" y2="406.90" stroke="#333" stroke-width="0.5"/>
<line x1="192.65" y1="343.10" x2="192.65" y2="342.40" stroke="#333" stroke-width="0.5"/>
<line x1="197.41" y1="406.20" x2="197.41" y2="406.90" stroke="#333" stroke-width="0.5"/>
<line x1="197.41" y1="343.10" x2="197.41" y2="342.40" stroke="#333" stroke-width="0.5"/>
<text x="133.70" y="395.29" style="font-family:'Liberation Sans',sans-serif;font-size:3px" fill="#555" text-anchor="end">10</text>
<text x="133.70" y="383.39" style="font-family:'Liberation Sans',sans-serif;font-size:3px" fill="#555" text-anchor="end">20</text>
<text x="133.70" y="371.48" style="font-family:'Liberation Sans',sans-serif;font-size:3px" fill="#555" text-anchor="end">30</text>
<text x="133.70" y="359.58" style="font-family:'Liberation Sans',sans-serif;font-size:3px" fill="#555" text-anchor="end">40</text>
<text x="133.70" y="407.20" style="font-family:'Liberation Sans',sans-serif;font-size:3px" fill="#555" text-anchor="end">0</text>
<text x="135.50" y="410.50" style="font-family:'Liberation Sans',sans-serif;font-size:3px" fill="#555" text-anchor="middle">0</text>
<text x="159.31" y="410.50" style="font-family:'Liberation Sans',sans-serif;font-size:3px" fill="#555" text-anchor="middle">20</text>
<text x="183.12" y="410.50" style="font-family:'Liberation Sans',sans-serif;font-size:3px" fill="#555" text-anchor="middle">40</text>
<line x1="125.50" y1="405.70" x2="126.90" y2="404.00" stroke="#3a3" stroke-width="0.7"/>
<rect x="202.30" y="343.70" width="5.00" height="62.50" fill="url(#cb)" stroke="#444" stroke-width="0.5"/>
<line x1="207.30" y1="350.64" x2="208.30" y2="350.64" stroke="#555" stroke-width="0.4"/>
<line x1="207.30" y1="357.59" x2="208.30" y2="357.59" stroke="#555" stroke-width="0.4"/>
<line x1="207.30" y1="364.53" x2="208.30" y2="364.53" stroke="#555" stroke-width="0.4"/>
<line x1="207.30" y1="371.48" x2="208.30" y2="371.48" stroke="#555" stroke-width="0.4"/>
<line x1="207.30" y1="378.42" x2="208.30" y2="378.42" stroke="#555" stroke-width="0.4"/>
<line x1="207.30" y1="385.37" x2="208.30" y2="385.37" stroke="#555" stroke-width="0.4"/>
<line x1="207.30" y1="392.31" x2="208.30" y2="392.31" stroke="#555" stroke-width="0.4"/>
<line x1="207.30" y1="399.26" x2="208.30" y2="399.26" stroke="#555" stroke-width="0.4"/>
<text x="208.90" y="344.60" style="font-family:'Liberation Sans',sans-serif;font-size:2.6px" fill="#888">10</text>
<text x="208.90" y="352.41" style="font-family:'Liberation Sans',sans-serif;font-size:2.6px" fill="#888">0.8</text>
<text x="208.90" y="360.22" style="font-family:'Liberation Sans',sans-serif;font-size:2.6px" fill="#888">0.7</text>
<text x="208.90" y="368.04" style="font-family:'Liberation Sans',sans-serif;font-size:2.6px" fill="#888">0.6</text>
<text x="208.90" y="375.85" style="font-family:'Liberation Sans',sans-serif;font-size:2.6px" fill="#888">0.4</text>
<text x="208.90" y="383.66" style="font-family:'Liberation Sans',sans-serif;font-size:2.6px" fill="#888">0.3</text>
<text x="208.90" y="391.47" style="font-family:'Liberation Sans',sans-serif;font-size:2.6px" fill="#888">0.2</text>
<text x="208.90" y="399.29" style="font-family:'Liberation Sans',sans-serif;font-size:2.6px" fill="#888">0.1</text>
<text x="208.90" y="407.10" style="font-family:'Liberation Sans',sans-serif;font-size:2.6px" fill="#888">0.0</text>
<g clip-path="url(#cpP3)"><g transform="translate(296.50 340.80) scale(5.2083 5.2917)" filter="url(#bl)">
<rect x="-1" y="-1" width="1.1" height="1.1" fill="#e8c412"/>
<rect x="0" y="-1" width="1.1" height="1.1" fill="#e8c412"/>
<rect x="1" y="-1" width="1.1" height="1.1" fill="#e88a16"/>
<rect x="2" y="-1" width="1.1" height="1.1" fill="#e88a16"/>
<rect x="3" y="-1" width="1.1" height="1.1" fill="#e88a16"/>
<rect x="4" y="-1" width="1.1" height="1.1" fill="#e8c412"/>
<rect x="5" y="-1" width="1.1" height="1.1" fill="#e2de12"/>
<rect x="6" y="-1" width="1.1" height="1.1" fill="#e2de12"/>
<rect x="7" y="-1" width="1.1" height="1.1" fill="#e88a16"/>
<rect x="8" y="-1" width="1.1" height="1.1" fill="#e88a16"/>
<rect x="9" y="-1" width="1.1" height="1.1" fill="#e8c412"/>
<rect x="10" y="-1" width="1.1" height="1.1" fill="#f0ec5f"/>
<rect x="11" y="-1" width="1.1" height="1.1" fill="#e2de12"/>
<rect x="12" y="-1" width="1.1" height="1.1" fill="#e2de12"/>
<rect x="-1" y="0" width="1.1" height="1.1" fill="#e8c412"/>
<rect x="0" y="0" width="1.1" height="1.1" fill="#e8c412"/>
<rect x="1" y="0" width="1.1" height="1.1" fill="#e88a16"/>
<rect x="2" y="0" width="1.1" height="1.1" fill="#e88a16"/>
<rect x="3" y="0" width="1.1" height="1.1" fill="#e88a16"/>
<rect x="4" y="0" width="1.1" height="1.1" fill="#e8c412"/>
<rect x="5" y="0" width="1.1" height="1.1" fill="#e2de12"/>
<rect x="6" y="0" width="1.1" height="1.1" fill="#e2de12"/>
<rect x="7" y="0" width="1.1" height="1.1" fill="#e88a16"/>
<rect x="8" y="0" width="1.1" height="1.1" fill="#e88a16"/>
<rect x="9" y="0" width="1.1" height="1.1" fill="#e8c412"/>
<rect x="10" y="0" width="1.1" height="1.1" fill="#f0ec5f"/>
<rect x="11" y="0" width="1.1" height="1.1" fill="#e2de12"/>
<rect x="12" y="0" width="1.1" height="1.1" fill="#e2de12"/>
<rect x="-1" y="1" width="1.1" height="1.1" fill="#f0ec5f"/>
<rect x="0" y="1" width="1.1" height="1.1" fill="#f0ec5f"/>
<rect x="1" y="1" width="1.1" height="1.1" fill="#e2de12"/>
<rect x="2" y="1" width="1.1" height="1.1" fill="#e8c412"/>
<rect x="3" y="1" width="1.1" height="1.1" fill="#e8c412"/>
<rect x="4" y="1" width="1.1" height="1.1" fill="#e2de12"/>
<rect x="5" y="1" width="1.1" height="1.1" fill="#f0ec5f"/>
<rect x="6" y="1" width="1.1" height="1.1" fill="#e2de12"/>
<rect x="7" y="1" width="1.1" height="1.1" fill="#e8c412"/>
<rect x="8" y="1" width="1.1" height="1.1" fill="#e8c412"/>
<rect x="9" y="1" width="1.1" height="1.1" fill="#f0ec5f"/>
<rect x="10" y="1" width="1.1" height="1.1" fill="#f8f6af"/>
<rect x="11" y="1" width="1.1" height="1.1" fill="#f0ec5f"/>
<rect x="12" y="1" width="1.1" height="1.1" fill="#f0ec5f"/>
<rect x="-1" y="2" width="1.1" height="1.1" fill="#f0ec5f"/>
<rect x="0" y="2" width="1.1" height="1.1" fill="#f0ec5f"/>
<rect x="1" y="2" width="1.1" height="1.1" fill="#f8f6af"/>
<rect x="2" y="2" width="1.1" height="1.1" fill="#f0ec5f"/>
<rect x="3" y="2" width="1.1" height="1.1" fill="#f0ec5f"/>
<rect x="4" y="2" width="1.1" height="1.1" fill="#f0ec5f"/>
<rect x="5" y="2" width="1.1" height="1.1" fill="#e2de12"/>
<rect x="6" y="2" width="1.1" height="1.1" fill="#e2de12"/>
<rect x="7" y="2" width="1.1" height="1.1" fill="#e88a16"/>
<rect x="8" y="2" width="1.1" height="1.1" fill="#e8c412"/>
<rect x="9" y="2" width="1.1" height="1.1" fill="#f0ec5f"/>
<rect x="10" y="2" width="1.1" height="1.1" fill="#f0ec5f"/>
<rect x="11" y="2" width="1.1" height="1.1" fill="#e88a16"/>
<rect x="12" y="2" width="1.1" height="1.1" fill="#e88a16"/>
<rect x="-1" y="3" width="1.1" height="1.1" fill="#e2de12"/>
<rect x="0" y="3" width="1.1" height="1.1" fill="#e2de12"/>
<rect x="1" y="3" width="1.1" height="1.1" fill="#f8f6af"/>
<rect x="2" y="3" width="1.1" height="1.1" fill="#f8f6af"/>
<rect x="3" y="3" width="1.1" height="1.1" fill="#f8f6af"/>
<rect x="4" y="3" width="1.1" height="1.1" fill="#f0ec5f"/>
<rect x="5" y="3" width="1.1" height="1.1" fill="#e2de12"/>
<rect x="6" y="3" width="1.1" height="1.1" fill="#e8c412"/>
<rect x="7" y="3" width="1.1" height="1.1" fill="#e88a16"/>
<rect x="8" y="3" width="1.1" height="1.1" fill="#e88a16"/>
<rect x="9" y="3" width="1.1" height="1.1" fill="#e2de12"/>
<rect x="10" y="3" width="1.1" height="1.1" fill="#e88a16"/>
<rect x="11" y="3" width="1.1" height="1.1" fill="#da5612"/>
<rect x="12" y="3" width="1.1" height="1.1" fill="#da5612"/>
<rect x="-1" y="4" width="1.1" height="1.1" fill="#e2de12"/>
<rect x="0" y="4" width="1.1" height="1.1" fill="#e2de12"/>
<rect x="1" y="4" width="1.1" height="1.1" fill="#f0ec5f"/>
<rect x="2" y="4" width="1.1" height="1.1" fill="#f8f6af"/>
<rect x="3" y="4" width="1.1" height="1.1" fill="#f0ec5f"/>
<rect x="4" y="4" width="1.1" height="1.1" fill="#f0ec5f"/>
<rect x="5" y="4" width="1.1" height="1.1" fill="#e2de12"/>
<rect x="6" y="4" width="1.1" height="1.1" fill="#e88a16"/>
<rect x="7" y="4" width="1.1" height="1.1" fill="#da5612"/>
<rect x="8" y="4" width="1.1" height="1.1" fill="#da5612"/>
<rect x="9" y="4" width="1.1" height="1.1" fill="#da5612"/>
<rect x="10" y="4" width="1.1" height="1.1" fill="#da5612"/>
<rect x="11" y="4" width="1.1" height="1.1" fill="#c8380c"/>
<rect x="12" y="4" width="1.1" height="1.1" fill="#c8380c"/>
<rect x="-1" y="5" width="1.1" height="1.1" fill="#e88a16"/>
<rect x="0" y="5" width="1.1" height="1.1" fill="#e88a16"/>
<rect x="1" y="5" width="1.1" height="1.1" fill="#e2de12"/>
<rect x="2" y="5" width="1.1" height="1.1" fill="#f0ec5f"/>
<rect x="3" y="5" width="1.1" height="1.1" fill="#f0ec5f"/>
<rect x="4" y="5" width="1.1" height="1.1" fill="#e2de12"/>
<rect x="5" y="5" width="1.1" height="1.1" fill="#e2de12"/>
<rect x="6" y="5" width="1.1" height="1.1" fill="#e8c412"/>
<rect x="7" y="5" width="1.1" height="1.1" fill="#e88a16"/>
<rect x="8" y="5" width="1.1" height="1.1" fill="#da5612"/>
<rect x="9" y="5" width="1.1" height="1.1" fill="#c8380c"/>
<rect x="10" y="5" width="1.1" height="1.1" fill="#c8380c"/>
<rect x="11" y="5" width="1.1" height="1.1" fill="#c8380c"/>
<rect x="12" y="5" width="1.1" height="1.1" fill="#c8380c"/>
<rect x="-1" y="6" width="1.1" height="1.1" fill="#da5612"/>
<rect x="0" y="6" width="1.1" height="1.1" fill="#da5612"/>
<rect x="1" y="6" width="1.1" height="1.1" fill="#e88a16"/>
<rect x="2" y="6" width="1.1" height="1.1" fill="#e8c412"/>
<rect x="3" y="6" width="1.1" height="1.1" fill="#e2de12"/>
<rect x="4" y="6" width="1.1" height="1.1" fill="#e8c412"/>
<rect x="5" y="6" width="1.1" height="1.1" fill="#e88a16"/>
<rect x="6" y="6" width="1.1" height="1.1" fill="#e88a16"/>
<rect x="7" y="6" width="1.1" height="1.1" fill="#e88a16"/>
<rect x="8" y="6" width="1.1" height="1.1" fill="#e88a16"/>
<rect x="9" y="6" width="1.1" height="1.1" fill="#da5612"/>
<rect x="10" y="6" width="1.1" height="1.1" fill="#c8380c"/>
<rect x="11" y="6" width="1.1" height="1.1" fill="#da5612"/>
<rect x="12" y="6" width="1.1" height="1.1" fill="#da5612"/>
<rect x="-1" y="7" width="1.1" height="1.1" fill="#e88a16"/>
<rect x="0" y="7" width="1.1" height="1.1" fill="#e88a16"/>
<rect x="1" y="7" width="1.1" height="1.1" fill="#e88a16"/>
<rect x="2" y="7" width="1.1" height="1.1" fill="#e2de12"/>
<rect x="3" y="7" width="1.1" height="1.1" fill="#e8c412"/>
<rect x="4" y="7" width="1.1" height="1.1" fill="#e88a16"/>
<rect x="5" y="7" width="1.1" height="1.1" fill="#e88a16"/>
<rect x="6" y="7" width="1.1" height="1.1" fill="#da5612"/>
<rect x="7" y="7" width="1.1" height="1.1" fill="#e88a16"/>
<rect x="8" y="7" width="1.1" height="1.1" fill="#e8c412"/>
<rect x="9" y="7" width="1.1" height="1.1" fill="#e88a16"/>
<rect x="10" y="7" width="1.1" height="1.1" fill="#da5612"/>
<rect x="11" y="7" width="1.1" height="1.1" fill="#e88a16"/>
<rect x="12" y="7" width="1.1" height="1.1" fill="#e88a16"/>
<rect x="-1" y="8" width="1.1" height="1.1" fill="#e8c412"/>
<rect x="0" y="8" width="1.1" height="1.1" fill="#e8c412"/>
<rect x="1" y="8" width="1.1" height="1.1" fill="#e88a16"/>
<rect x="2" y="8" width="1.1" height="1.1" fill="#e8c412"/>
<rect x="3" y="8" width="1.1" height="1.1" fill="#e88a16"/>
<rect x="4" y="8" width="1.1" height="1.1" fill="#e88a16"/>
<rect x="5" y="8" width="1.1" height="1.1" fill="#e88a16"/>
<rect x="6" y="8" width="1.1" height="1.1" fill="#da5612"/>
<rect x="7" y="8" width="1.1" height="1.1" fill="#e88a16"/>
<rect x="8" y="8" width="1.1" height="1.1" fill="#e8c412"/>
<rect x="9" y="8" width="1.1" height="1.1" fill="#e8c412"/>
<rect x="10" y="8" width="1.1" height="1.1" fill="#e88a16"/>
<rect x="11" y="8" width="1.1" height="1.1" fill="#e88a16"/>
<rect x="12" y="8" width="1.1" height="1.1" fill="#e88a16"/>
<rect x="-1" y="9" width="1.1" height="1.1" fill="#e2de12"/>
<rect x="0" y="9" width="1.1" height="1.1" fill="#e2de12"/>
<rect x="1" y="9" width="1.1" height="1.1" fill="#e8c412"/>
<rect x="2" y="9" width="1.1" height="1.1" fill="#e88a16"/>
<rect x="3" y="9" width="1.1" height="1.1" fill="#e8c412"/>
<rect x="4" y="9" width="1.1" height="1.1" fill="#e88a16"/>
<rect x="5" y="9" width="1.1" height="1.1" fill="#e8c412"/>
<rect x="6" y="9" width="1.1" height="1.1" fill="#e88a16"/>
<rect x="7" y="9" width="1.1" height="1.1" fill="#e88a16"/>
<rect x="8" y="9" width="1.1" height="1.1" fill="#f0ec5f"/>
<rect x="9" y="9" width="1.1" height="1.1" fill="#e2de12"/>
<rect x="10" y="9" width="1.1" height="1.1" fill="#e88a16"/>
<rect x="11" y="9" width="1.1" height="1.1" fill="#da5612"/>
<rect x="12" y="9" width="1.1" height="1.1" fill="#da5612"/>
<rect x="-1" y="10" width="1.1" height="1.1" fill="#f0ec5f"/>
<rect x="0" y="10" width="1.1" height="1.1" fill="#f0ec5f"/>
<rect x="1" y="10" width="1.1" height="1.1" fill="#e8c412"/>
<rect x="2" y="10" width="1.1" height="1.1" fill="#e8c412"/>
<rect x="3" y="10" width="1.1" height="1.1" fill="#f0ec5f"/>
<rect x="4" y="10" width="1.1" height="1.1" fill="#f0ec5f"/>
<rect x="5" y="10" width="1.1" height="1.1" fill="#e88a16"/>
<rect x="6" y="10" width="1.1" height="1.1" fill="#e8c412"/>
<rect x="7" y="10" width="1.1" height="1.1" fill="#e8c412"/>
<rect x="8" y="10" width="1.1" height="1.1" fill="#f0ec5f"/>
<rect x="9" y="10" width="1.1" height="1.1" fill="#e2de12"/>
<rect x="10" y="10" width="1.1" height="1.1" fill="#e88a16"/>
<rect x="11" y="10" width="1.1" height="1.1" fill="#e88a16"/>
<rect x="12" y="10" width="1.1" height="1.1" fill="#e88a16"/>
<rect x="-1" y="11" width="1.1" height="1.1" fill="#e2de12"/>
<rect x="0" y="11" width="1.1" height="1.1" fill="#e2de12"/>
<rect x="1" y="11" width="1.1" height="1.1" fill="#e8c412"/>
<rect x="2" y="11" width="1.1" height="1.1" fill="#e88a16"/>
<rect x="3" y="11" width="1.1" height="1.1" fill="#f0ec5f"/>
<rect x="4" y="11" width="1.1" height="1.1" fill="#f8f6af"/>
<rect x="5" y="11" width="1.1" height="1.1" fill="#e8c412"/>
<rect x="6" y="11" width="1.1" height="1.1" fill="#e88a16"/>
<rect x="7" y="11" width="1.1" height="1.1" fill="#e88a16"/>
<rect x="8" y="11" width="1.1" height="1.1" fill="#e8c412"/>
<rect x="9" y="11" width="1.1" height="1.1" fill="#e8c412"/>
<rect x="10" y="11" width="1.1" height="1.1" fill="#e88a16"/>
<rect x="11" y="11" width="1.1" height="1.1" fill="#e88a16"/>
<rect x="12" y="11" width="1.1" height="1.1" fill="#e88a16"/>
<rect x="-1" y="12" width="1.1" height="1.1" fill="#e2de12"/>
<rect x="0" y="12" width="1.1" height="1.1" fill="#e2de12"/>
<rect x="1" y="12" width="1.1" height="1.1" fill="#e8c412"/>
<rect x="2" y="12" width="1.1" height="1.1" fill="#e88a16"/>
<rect x="3" y="12" width="1.1" height="1.1" fill="#f0ec5f"/>
<rect x="4" y="12" width="1.1" height="1.1" fill="#f8f6af"/>
<rect x="5" y="12" width="1.1" height="1.1" fill="#e8c412"/>
<rect x="6" y="12" width="1.1" height="1.1" fill="#e88a16"/>
<rect x="7" y="12" width="1.1" height="1.1" fill="#e88a16"/>
<rect x="8" y="12" width="1.1" height="1.1" fill="#e8c412"/>
<rect x="9" y="12" width="1.1" height="1.1" fill="#e8c412"/>
<rect x="10" y="12" width="1.1" height="1.1" fill="#e88a16"/>
<rect x="11" y="12" width="1.1" height="1.1" fill="#e88a16"/>
<rect x="12" y="12" width="1.1" height="1.1" fill="#e88a16"/>
</g><rect x="296.50" y="340.80" width="62.50" height="63.50" filter="url(#grain)" opacity="0.18"/></g>
<rect x="297.40" y="341.70" width="60.70" height="61.70" fill="none" stroke="#eeee10" stroke-opacity="0.7" stroke-width="1"/>
<rect x="296.50" y="340.80" width="62.50" height="63.50" fill="none" stroke="#333" stroke-width="0.8"/>
<line x1="296.50" y1="404.30" x2="295.10" y2="404.30" stroke="#222" stroke-width="0.6"/>
<line x1="296.50" y1="401.90" x2="295.50" y2="401.90" stroke="#222" stroke-width="0.6"/>
<line x1="296.50" y1="399.51" x2="295.50" y2="399.51" stroke="#222" stroke-width="0.6"/>
<line x1="296.50" y1="397.11" x2="295.50" y2="397.11" stroke="#222" stroke-width="0.6"/>
<line x1="296.50" y1="394.72" x2="295.50" y2="394.72" stroke="#222" stroke-width="0.6"/>
<line x1="296.50" y1="392.32" x2="295.10" y2="392.32" stroke="#222" stroke-width="0.6"/>
<line x1="296.50" y1="389.92" x2="295.50" y2="389.92" stroke="#222" stroke-width="0.6"/>
<line x1="296.50" y1="387.53" x2="295.50" y2="387.53" stroke="#222" stroke-width="0.6"/>
<line x1="296.50" y1="385.13" x2="295.50" y2="385.13" stroke="#222" stroke-width="0.6"/>
<line x1="296.50" y1="382.73" x2="295.50" y2="382.73" stroke="#222" stroke-width="0.6"/>
<line x1="296.50" y1="380.34" x2="295.10" y2="380.34" stroke="#222" stroke-width="0.6"/>
<line x1="296.50" y1="377.94" x2="295.50" y2="377.94" stroke="#222" stroke-width="0.6"/>
<line x1="296.50" y1="375.55" x2="295.50" y2="375.55" stroke="#222" stroke-width="0.6"/>
<line x1="296.50" y1="373.15" x2="295.50" y2="373.15" stroke="#222" stroke-width="0.6"/>
<line x1="296.50" y1="370.75" x2="295.50" y2="370.75" stroke="#222" stroke-width="0.6"/>
<line x1="296.50" y1="368.36" x2="295.10" y2="368.36" stroke="#222" stroke-width="0.6"/>
<line x1="296.50" y1="365.96" x2="295.50" y2="365.96" stroke="#222" stroke-width="0.6"/>
<line x1="296.50" y1="363.56" x2="295.50" y2="363.56" stroke="#222" stroke-width="0.6"/>
<line x1="296.50" y1="361.17" x2="295.50" y2="361.17" stroke="#222" stroke-width="0.6"/>
<line x1="296.50" y1="358.77" x2="295.50" y2="358.77" stroke="#222" stroke-width="0.6"/>
<line x1="296.50" y1="356.38" x2="295.10" y2="356.38" stroke="#222" stroke-width="0.6"/>
<line x1="296.50" y1="353.98" x2="295.50" y2="353.98" stroke="#222" stroke-width="0.6"/>
<line x1="296.50" y1="351.58" x2="295.50" y2="351.58" stroke="#222" stroke-width="0.6"/>
<line x1="296.50" y1="349.19" x2="295.50" y2="349.19" stroke="#222" stroke-width="0.6"/>
<line x1="296.50" y1="346.79" x2="295.50" y2="346.79" stroke="#222" stroke-width="0.6"/>
<line x1="296.50" y1="344.39" x2="295.10" y2="344.39" stroke="#222" stroke-width="0.6"/>
<line x1="296.50" y1="342.00" x2="295.50" y2="342.00" stroke="#222" stroke-width="0.6"/>
<line x1="296.50" y1="404.30" x2="296.50" y2="405.40" stroke="#333" stroke-width="0.5"/>
<line x1="296.50" y1="340.80" x2="296.50" y2="339.70" stroke="#333" stroke-width="0.5"/>
<line x1="301.29" y1="404.30" x2="301.29" y2="405.00" stroke="#333" stroke-width="0.5"/>
<line x1="301.29" y1="340.80" x2="301.29" y2="340.10" stroke="#333" stroke-width="0.5"/>
<line x1="306.08" y1="404.30" x2="306.08" y2="405.00" stroke="#333" stroke-width="0.5"/>
<line x1="306.08" y1="340.80" x2="306.08" y2="340.10" stroke="#333" stroke-width="0.5"/>
<line x1="310.88" y1="404.30" x2="310.88" y2="405.00" stroke="#333" stroke-width="0.5"/>
<line x1="310.88" y1="340.80" x2="310.88" y2="340.10" stroke="#333" stroke-width="0.5"/>
<line x1="315.67" y1="404.30" x2="315.67" y2="405.00" stroke="#333" stroke-width="0.5"/>
<line x1="315.67" y1="340.80" x2="315.67" y2="340.10" stroke="#333" stroke-width="0.5"/>
<line x1="320.46" y1="404.30" x2="320.46" y2="405.40" stroke="#333" stroke-width="0.5"/>
<line x1="320.46" y1="340.80" x2="320.46" y2="339.70" stroke="#333" stroke-width="0.5"/>
<line x1="325.25" y1="404.30" x2="325.25" y2="405.00" stroke="#333" stroke-width="0.5"/>
<line x1="325.25" y1="340.80" x2="325.25" y2="340.10" stroke="#333" stroke-width="0.5"/>
<line x1="330.05" y1="404.30" x2="330.05" y2="405.00" stroke="#333" stroke-width="0.5"/>
<line x1="330.05" y1="340.80" x2="330.05" y2="340.10" stroke="#333" stroke-width="0.5"/>
<line x1="334.84" y1="404.30" x2="334.84" y2="405.00" stroke="#333" stroke-width="0.5"/>
<line x1="334.84" y1="340.80" x2="334.84" y2="340.10" stroke="#333" stroke-width="0.5"/>
<line x1="339.63" y1="404.30" x2="339.63" y2="405.00" stroke="#333" stroke-width="0.5"/>
<line x1="339.63" y1="340.80" x2="339.63" y2="340.10" stroke="#333" stroke-width="0.5"/>
<line x1="344.42" y1="404.30" x2="344.42" y2="405.40" stroke="#333" stroke-width="0.5"/>
<line x1="344.42" y1="340.80" x2="344.42" y2="339.70" stroke="#333" stroke-width="0.5"/>
<line x1="349.22" y1="404.30" x2="349.22" y2="405.00" stroke="#333" stroke-width="0.5"/>
<line x1="349.22" y1="340.80" x2="349.22" y2="340.10" stroke="#333" stroke-width="0.5"/>
<line x1="354.01" y1="404.30" x2="354.01" y2="405.00" stroke="#333" stroke-width="0.5"/>
<line x1="354.01" y1="340.80" x2="354.01" y2="340.10" stroke="#333" stroke-width="0.5"/>
<line x1="358.80" y1="404.30" x2="358.80" y2="405.00" stroke="#333" stroke-width="0.5"/>
<line x1="358.80" y1="340.80" x2="358.80" y2="340.10" stroke="#333" stroke-width="0.5"/>
<text x="294.70" y="393.32" style="font-family:'Liberation Sans',sans-serif;font-size:3px" fill="#555" text-anchor="end">10</text>
<text x="294.70" y="381.34" style="font-family:'Liberation Sans',sans-serif;font-size:3px" fill="#555" text-anchor="end">20</text>
<text x="294.70" y="369.36" style="font-family:'Liberation Sans',sans-serif;font-size:3px" fill="#555" text-anchor="end">30</text>
<text x="294.70" y="357.38" style="font-family:'Liberation Sans',sans-serif;font-size:3px" fill="#555" text-anchor="end">40</text>
<text x="294.70" y="405.30" style="font-family:'Liberation Sans',sans-serif;font-size:3px" fill="#555" text-anchor="end">0</text>
<text x="296.50" y="408.60" style="font-family:'Liberation Sans',sans-serif;font-size:3px" fill="#555" text-anchor="middle">0</text>
<text x="320.46" y="408.60" style="font-family:'Liberation Sans',sans-serif;font-size:3px" fill="#555" text-anchor="middle">20</text>
<text x="344.42" y="408.60" style="font-family:'Liberation Sans',sans-serif;font-size:3px" fill="#555" text-anchor="middle">40</text>
<line x1="286.50" y1="403.80" x2="287.90" y2="402.10" stroke="#3a3" stroke-width="0.7"/>
<rect x="362.90" y="341.20" width="4.80" height="63.10" fill="url(#cb)" stroke="#444" stroke-width="0.5"/>
<line x1="367.70" y1="348.21" x2="368.70" y2="348.21" stroke="#555" stroke-width="0.4"/>
<line x1="367.70" y1="355.22" x2="368.70" y2="355.22" stroke="#555" stroke-width="0.4"/>
<line x1="367.70" y1="362.23" x2="368.70" y2="362.23" stroke="#555" stroke-width="0.4"/>
<line x1="367.70" y1="369.24" x2="368.70" y2="369.24" stroke="#555" stroke-width="0.4"/>
<line x1="367.70" y1="376.26" x2="368.70" y2="376.26" stroke="#555" stroke-width="0.4"/>
<line x1="367.70" y1="383.27" x2="368.70" y2="383.27" stroke="#555" stroke-width="0.4"/>
<line x1="367.70" y1="390.28" x2="368.70" y2="390.28" stroke="#555" stroke-width="0.4"/>
<line x1="367.70" y1="397.29" x2="368.70" y2="397.29" stroke="#555" stroke-width="0.4"/>
<text x="369.30" y="342.10" style="font-family:'Liberation Sans',sans-serif;font-size:2.6px" fill="#888">10</text>
<text x="369.30" y="349.99" style="font-family:'Liberation Sans',sans-serif;font-size:2.6px" fill="#888">0.8</text>
<text x="369.30" y="357.88" style="font-family:'Liberation Sans',sans-serif;font-size:2.6px" fill="#888">0.7</text>
<text x="369.30" y="365.76" style="font-family:'Liberation Sans',sans-serif;font-size:2.6px" fill="#888">0.6</text>
<text x="369.30" y="373.65" style="font-family:'Liberation Sans',sans-serif;font-size:2.6px" fill="#888">0.4</text>
<text x="369.30" y="381.54" style="font-family:'Liberation Sans',sans-serif;font-size:2.6px" fill="#888">0.3</text>
<text x="369.30" y="389.42" style="font-family:'Liberation Sans',sans-serif;font-size:2.6px" fill="#888">0.2</text>
<text x="369.30" y="397.31" style="font-family:'Liberation Sans',sans-serif;font-size:2.6px" fill="#888">0.1</text>
<text x="369.30" y="405.20" style="font-family:'Liberation Sans',sans-serif;font-size:2.6px" fill="#888">0.0</text>
<g clip-path="url(#cpC3)"><g transform="translate(456.80 343.10) scale(5.1917 5.2083)" filter="url(#bl)">
<rect x="-1" y="-1" width="1.1" height="1.1" fill="#e88a16"/>
<rect x="0" y="-1" width="1.1" height="1.1" fill="#e88a16"/>
<rect x="1" y="-1" width="1.1" height="1.1" fill="#e88a16"/>
<rect x="2" y="-1" width="1.1" height="1.1" fill="#e88a16"/>
<rect x="3" y="-1" width="1.1" height="1.1" fill="#e88a16"/>
<rect x="4" y="-1" width="1.1" height="1.1" fill="#da5612"/>
<rect x="5" y="-1" width="1.1" height="1.1" fill="#e88a16"/>
<rect x="6" y="-1" width="1.1" height="1.1" fill="#e88a16"/>
<rect x="7" y="-1" width="1.1" height="1.1" fill="#e88a16"/>
<rect x="8" y="-1" width="1.1" height="1.1" fill="#e88a16"/>
<rect x="9" y="-1" width="1.1" height="1.1" fill="#e88a16"/>
<rect x="10" y="-1" width="1.1" height="1.1" fill="#e88a16"/>
<rect x="11" y="-1" width="1.1" height="1.1" fill="#e8c412"/>
<rect x="12" y="-1" width="1.1" height="1.1" fill="#e8c412"/>
<rect x="-1" y="0" width="1.1" height="1.1" fill="#e88a16"/>
<rect x="0" y="0" width="1.1" height="1.1" fill="#e88a16"/>
<rect x="1" y="0" width="1.1" height="1.1" fill="#e88a16"/>
<rect x="2" y="0" width="1.1" height="1.1" fill="#e88a16"/>
<rect x="3" y="0" width="1.1" height="1.1" fill="#e88a16"/>
<rect x="4" y="0" width="1.1" height="1.1" fill="#da5612"/>
<rect x="5" y="0" width="1.1" height="1.1" fill="#e88a16"/>
<rect x="6" y="0" width="1.1" height="1.1" fill="#e88a16"/>
<rect x="7" y="0" width="1.1" height="1.1" fill="#e88a16"/>
<rect x="8" y="0" width="1.1" height="1.1" fill="#e88a16"/>
<rect x="9" y="0" width="1.1" height="1.1" fill="#e88a16"/>
<rect x="10" y="0" width="1.1" height="1.1" fill="#e88a16"/>
<rect x="11" y="0" width="1.1" height="1.1" fill="#e8c412"/>
<rect x="12" y="0" width="1.1" height="1.1" fill="#e8c412"/>
<rect x="-1" y="1" width="1.1" height="1.1" fill="#e88a16"/>
<rect x="0" y="1" width="1.1" height="1.1" fill="#e88a16"/>
<rect x="1" y="1" width="1.1" height="1.1" fill="#e88a16"/>
<rect x="2" y="1" width="1.1" height="1.1" fill="#e8c412"/>
<rect x="3" y="1" width="1.1" height="1.1" fill="#e8c412"/>
<rect x="4" y="1" width="1.1" height="1.1" fill="#e2de12"/>
<rect x="5" y="1" width="1.1" height="1.1" fill="#e8c412"/>
<rect x="6" y="1" width="1.1" height="1.1" fill="#e88a16"/>
<rect x="7" y="1" width="1.1" height="1.1" fill="#da5612"/>
<rect x="8" y="1" width="1.1" height="1.1" fill="#e88a16"/>
<rect x="9" y="1" width="1.1" height="1.1" fill="#e88a16"/>
<rect x="10" y="1" width="1.1" height="1.1" fill="#e88a16"/>
<rect x="11" y="1" width="1.1" height="1.1" fill="#e88a16"/>
<rect x="12" y="1" width="1.1" height="1.1" fill="#e88a16"/>
<rect x="-1" y="2" width="1.1" height="1.1" fill="#e8c412"/>
<rect x="0" y="2" width="1.1" height="1.1" fill="#e8c412"/>
<rect x="1" y="2" width="1.1" height="1.1" fill="#e88a16"/>
<rect x="2" y="2" width="1.1" height="1.1" fill="#e8c412"/>
<rect x="3" y="2" width="1.1" height="1.1" fill="#e2de12"/>
<rect x="4" y="2" width="1.1" height="1.1" fill="#e2de12"/>
<rect x="5" y="2" width="1.1" height="1.1" fill="#e2de12"/>
<rect x="6" y="2" width="1.1" height="1.1" fill="#e88a16"/>
<rect x="7" y="2" width="1.1" height="1.1" fill="#da5612"/>
<rect x="8" y="2" width="1.1" height="1.1" fill="#da5612"/>
<rect x="9" y="2" width="1.1" height="1.1" fill="#e88a16"/>
<rect x="10" y="2" width="1.1" height="1.1" fill="#e88a16"/>
<rect x="11" y="2" width="1.1" height="1.1" fill="#e88a16"/>
<rect x="12" y="2" width="1.1" height="1.1" fill="#e88a16"/>
<rect x="-1" y="3" width="1.1" height="1.1" fill="#e8c412"/>
<rect x="0" y="3" width="1.1" height="1.1" fill="#e8c412"/>
<rect x="1" y="3" width="1.1" height="1.1" fill="#e88a16"/>
<rect x="2" y="3" width="1.1" height="1.1" fill="#e88a16"/>
<rect x="3" y="3" width="1.1" height="1.1" fill="#e2de12"/>
<rect x="4" y="3" width="1.1" height="1.1" fill="#e2de12"/>
<rect x="5" y="3" width="1.1" height="1.1" fill="#e8c412"/>
<rect x="6" y="3" width="1.1" height="1.1" fill="#e88a16"/>
<rect x="7" y="3" width="1.1" height="1.1" fill="#da5612"/>
<rect x="8" y="3" width="1.1" height="1.1" fill="#da5612"/>
<rect x="9" y="3" width="1.1" height="1.1" fill="#da5612"/>
<rect x="10" y="3" width="1.1" height="1.1" fill="#e88a16"/>
<rect x="11" y="3" width="1.1" height="1.1" fill="#e88a16"/>
<rect x="12" y="3" width="1.1" height="1.1" fill="#e88a16"/>
<rect x="-1" y="4" width="1.1" height="1.1" fill="#e88a16"/>
<rect x="0" y="4" width="1.1" height="1.1" fill="#e88a16"/>
<rect x="1" y="4" width="1.1" height="1.1" fill="#e88a16"/>
<rect x="2" y="4" width="1.1" height="1.1" fill="#e88a16"/>
<rect x="3" y="4" width="1.1" height="1.1" fill="#e8c412"/>
<rect x="4" y="4" width="1.1" height="1.1" fill="#e8c412"/>
<rect x="5" y="4" width="1.1" height="1.1" fill="#e88a16"/>
<rect x="6" y="4" width="1.1" height="1.1" fill="#da5612"/>
<rect x="7" y="4" width="1.1" height="1.1" fill="#da5612"/>
<rect x="8" y="4" width="1.1" height="1.1" fill="#da5612"/>
<rect x="9" y="4" width="1.1" height="1.1" fill="#da5612"/>
<rect x="10" y="4" width="1.1" height="1.1" fill="#da5612"/>
<rect x="11" y="4" width="1.1" height="1.1" fill="#e88a16"/>
<rect x="12" y="4" width="1.1" height="1.1" fill="#e88a16"/>
<rect x="-1" y="5" width="1.1" height="1.1" fill="#e88a16"/>
<rect x="0" y="5" width="1.1" height="1.1" fill="#e88a16"/>
<rect x="1" y="5" width="1.1" height="1.1" fill="#e8c412"/>
<rect x="2" y="5" width="1.1" height="1.1" fill="#e88a16"/>
<rect x="3" y="5" width="1.1" height="1.1" fill="#e88a16"/>
<rect x="4" y="5" width="1.1" height="1.1" fill="#e88a16"/>
<rect x="5" y="5" width="1.1" height="1.1" fill="#da5612"/>
<rect x="6" y="5" width="1.1" height="1.1" fill="#da5612"/>
<rect x="7" y="5" width="1.1" height="1.1" fill="#da5612"/>
<rect x="8" y="5" width="1.1" height="1.1" fill="#da5612"/>
<rect x="9" y="5" width="1.1" height="1.1" fill="#da5612"/>
<rect x="10" y="5" width="1.1" height="1.1" fill="#da5612"/>
<rect x="11" y="5" width="1.1" height="1.1" fill="#da5612"/>
<rect x="12" y="5" width="1.1" height="1.1" fill="#da5612"/>
<rect x="-1" y="6" width="1.1" height="1.1" fill="#e8c412"/>
<rect x="0" y="6" width="1.1" height="1.1" fill="#e8c412"/>
<rect x="1" y="6" width="1.1" height="1.1" fill="#e8c412"/>
<rect x="2" y="6" width="1.1" height="1.1" fill="#e88a16"/>
<rect x="3" y="6" width="1.1" height="1.1" fill="#da5612"/>
<rect x="4" y="6" width="1.1" height="1.1" fill="#da5612"/>
<rect x="5" y="6" width="1.1" height="1.1" fill="#da5612"/>
<rect x="6" y="6" width="1.1" height="1.1" fill="#da5612"/>
<rect x="7" y="6" width="1.1" height="1.1" fill="#da5612"/>
<rect x="8" y="6" width="1.1" height="1.1" fill="#da5612"/>
<rect x="9" y="6" width="1.1" height="1.1" fill="#da5612"/>
<rect x="10" y="6" width="1.1" height="1.1" fill="#e88a16"/>
<rect x="11" y="6" width="1.1" height="1.1" fill="#e88a16"/>
<rect x="12" y="6" width="1.1" height="1.1" fill="#e88a16"/>
<rect x="-1" y="7" width="1.1" height="1.1" fill="#e2de12"/>
<rect x="0" y="7" width="1.1" height="1.1" fill="#e2de12"/>
<rect x="1" y="7" width="1.1" height="1.1" fill="#e2de12"/>
<rect x="2" y="7" width="1.1" height="1.1" fill="#e8c412"/>
<rect x="3" y="7" width="1.1" height="1.1" fill="#e88a16"/>
<rect x="4" y="7" width="1.1" height="1.1" fill="#da5612"/>
<rect x="5" y="7" width="1.1" height="1.1" fill="#da5612"/>
<rect x="6" y="7" width="1.1" height="1.1" fill="#da5612"/>
<rect x="7" y="7" width="1.1" height="1.1" fill="#da5612"/>
<rect x="8" y="7" width="1.1" height="1.1" fill="#da5612"/>
<rect x="9" y="7" width="1.1" height="1.1" fill="#e88a16"/>
<rect x="10" y="7" width="1.1" height="1.1" fill="#e88a16"/>
<rect x="11" y="7" width="1.1" height="1.1" fill="#e88a16"/>
<rect x="12" y="7" width="1.1" height="1.1" fill="#e88a16"/>
<rect x="-1" y="8" width="1.1" height="1.1" fill="#e8c412"/>
<rect x="0" y="8" width="1.1" height="1.1" fill="#e8c412"/>
<rect x="1" y="8" width="1.1" height="1.1" fill="#e2de12"/>
<rect x="2" y="8" width="1.1" height="1.1" fill="#e8c412"/>
<rect x="3" y="8" width="1.1" height="1.1" fill="#e88a16"/>
<rect x="4" y="8" width="1.1" height="1.1" fill="#da5612"/>
<rect x="5" y="8" width="1.1" height="1.1" fill="#da5612"/>
<rect x="6" y="8" width="1.1" height="1.1" fill="#e88a16"/>
<rect x="7" y="8" width="1.1" height="1.1" fill="#da5612"/>
<rect x="8" y="8" width="1.1" height="1.1" fill="#e88a16"/>
<rect x="9" y="8" width="1.1" height="1.1" fill="#e88a16"/>
<rect x="10" y="8" width="1.1" height="1.1" fill="#e88a16"/>
<rect x="11" y="8" width="1.1" height="1.1" fill="#e88a16"/>
<rect x="12" y="8" width="1.1" height="1.1" fill="#e88a16"/>
<rect x="-1" y="9" width="1.1" height="1.1" fill="#e88a16"/>
<rect x="0" y="9" width="1.1" height="1.1" fill="#e88a16"/>
<rect x="1" y="9" width="1.1" height="1.1" fill="#e88a16"/>
<rect x="2" y="9" width="1.1" height="1.1" fill="#e88a16"/>
<rect x="3" y="9" width="1.1" height="1.1" fill="#da5612"/>
<rect x="4" y="9" width="1.1" height="1.1" fill="#da5612"/>
<rect x="5" y="9" width="1.1" height="1.1" fill="#da5612"/>
<rect x="6" y="9" width="1.1" height="1.1" fill="#da5612"/>
<rect x="7" y="9" width="1.1" height="1.1" fill="#e88a16"/>
<rect x="8" y="9" width="1.1" height="1.1" fill="#e88a16"/>
<rect x="9" y="9" width="1.1" height="1.1" fill="#e88a16"/>
<rect x="10" y="9" width="1.1" height="1.1" fill="#e88a16"/>
<rect x="11" y="9" width="1.1" height="1.1" fill="#e88a16"/>
<rect x="12" y="9" width="1.1" height="1.1" fill="#e88a16"/>
<rect x="-1" y="10" width="1.1" height="1.1" fill="#da5612"/>
<rect x="0" y="10" width="1.1" height="1.1" fill="#da5612"/>
<rect x="1" y="10" width="1.1" height="1.1" fill="#e88a16"/>
<rect x="2" y="10" width="1.1" height="1.1" fill="#da5612"/>
<rect x="3" y="10" width="1.1" height="1.1" fill="#da5612"/>
<rect x="4" y="10" width="1.1" height="1.1" fill="#da5612"/>
<rect x="5" y="10" width="1.1" height="1.1" fill="#e88a16"/>
<rect x="6" y="10" width="1.1" height="1.1" fill="#e88a16"/>
<rect x="7" y="10" width="1.1" height="1.1" fill="#e88a16"/>
<rect x="8" y="10" width="1.1" height="1.1" fill="#e88a16"/>
<rect x="9" y="10" width="1.1" height="1.1" fill="#e88a16"/>
<rect x="10" y="10" width="1.1" height="1.1" fill="#e8c412"/>
<rect x="11" y="10" width="1.1" height="1.1" fill="#e8c412"/>
<rect x="12" y="10" width="1.1" height="1.1" fill="#e8c412"/>
<rect x="-1" y="11" width="1.1" height="1.1" fill="#e88a16"/>
<rect x="0" y="11" width="1.1" height="1.1" fill="#e88a16"/>
<rect x="1" y="11" width="1.1" height="1.1" fill="#da5612"/>
<rect x="2" y="11" width="1.1" height="1.1" fill="#da5612"/>
<rect x="3" y="11" width="1.1" height="1.1" fill="#e88a16"/>
<rect x="4" y="11" width="1.1" height="1.1" fill="#e88a16"/>
<rect x="5" y="11" width="1.1" height="1.1" fill="#e88a16"/>
<rect x="6" y="11" width="1.1" height="1.1" fill="#e88a16"/>
<rect x="7" y="11" width="1.1" height="1.1" fill="#e88a16"/>
<rect x="8" y="11" width="1.1" height="1.1" fill="#e88a16"/>
<rect x="9" y="11" width="1.1" height="1.1" fill="#e8c412"/>
<rect x="10" y="11" width="1.1" height="1.1" fill="#e2de12"/>
<rect x="11" y="11" width="1.1" height="1.1" fill="#f0ec5f"/>
<rect x="12" y="11" width="1.1" height="1.1" fill="#f0ec5f"/>
<rect x="-1" y="12" width="1.1" height="1.1" fill="#e88a16"/>
<rect x="0" y="12" width="1.1" height="1.1" fill="#e88a16"/>
<rect x="1" y="12" width="1.1" height="1.1" fill="#da5612"/>
<rect x="2" y="12" width="1.1" height="1.1" fill="#da5612"/>
<rect x="3" y="12" width="1.1" height="1.1" fill="#e88a16"/>
<rect x="4" y="12" width="1.1" height="1.1" fill="#e88a16"/>
<rect x="5" y="12" width="1.1" height="1.1" fill="#e88a16"/>
<rect x="6" y="12" width="1.1" height="1.1" fill="#e88a16"/>
<rect x="7" y="12" width="1.1" height="1.1" fill="#e88a16"/>
<rect x="8" y="12" width="1.1" height="1.1" fill="#e88a16"/>
<rect x="9" y="12" width="1.1" height="1.1" fill="#e8c412"/>
<rect x="10" y="12" width="1.1" height="1.1" fill="#e2de12"/>
<rect x="11" y="12" width="1.1" height="1.1" fill="#f0ec5f"/>
<rect x="12" y="12" width="1.1" height="1.1" fill="#f0ec5f"/>
</g><rect x="456.80" y="343.10" width="62.30" height="62.50" filter="url(#grain)" opacity="0.18"/></g>
<rect x="457.70" y="344.00" width="60.50" height="60.70" fill="none" stroke="#eeee10" stroke-opacity="0.7" stroke-width="1"/>
<rect x="456.80" y="343.10" width="62.30" height="62.50" fill="none" stroke="#333" stroke-width="0.8"/>
<line x1="456.80" y1="405.60" x2="455.40" y2="405.60" stroke="#222" stroke-width="0.6"/>
<line x1="456.80" y1="403.24" x2="455.80" y2="403.24" stroke="#222" stroke-width="0.6"/>
<line x1="456.80" y1="400.88" x2="455.80" y2="400.88" stroke="#222" stroke-width="0.6"/>
<line x1="456.80" y1="398.52" x2="455.80" y2="398.52" stroke="#222" stroke-width="0.6"/>
<line x1="456.80" y1="396.17" x2="455.80" y2="396.17" stroke="#222" stroke-width="0.6"/>
<line x1="456.80" y1="393.81" x2="455.40" y2="393.81" stroke="#222" stroke-width="0.6"/>
<line x1="456.80" y1="391.45" x2="455.80" y2="391.45" stroke="#222" stroke-width="0.6"/>
<line x1="456.80" y1="389.09" x2="455.80" y2="389.09" stroke="#222" stroke-width="0.6"/>
<line x1="456.80" y1="386.73" x2="455.80" y2="386.73" stroke="#222" stroke-width="0.6"/>
<line x1="456.80" y1="384.37" x2="455.80" y2="384.37" stroke="#222" stroke-width="0.6"/>
<line x1="456.80" y1="382.02" x2="455.40" y2="382.02" stroke="#222" stroke-width="0.6"/>
<line x1="456.80" y1="379.66" x2="455.80" y2="379.66" stroke="#222" stroke-width="0.6"/>
<line x1="456.80" y1="377.30" x2="455.80" y2="377.30" stroke="#222" stroke-width="0.6"/>
<line x1="456.80" y1="374.94" x2="455.80" y2="374.94" stroke="#222" stroke-width="0.6"/>
<line x1="456.80" y1="372.58" x2="455.80" y2="372.58" stroke="#222" stroke-width="0.6"/>
<line x1="456.80" y1="370.22" x2="455.40" y2="370.22" stroke="#222" stroke-width="0.6"/>
<line x1="456.80" y1="367.86" x2="455.80" y2="367.86" stroke="#222" stroke-width="0.6"/>
<line x1="456.80" y1="365.51" x2="455.80" y2="365.51" stroke="#222" stroke-width="0.6"/>
<line x1="456.80" y1="363.15" x2="455.80" y2="363.15" stroke="#222" stroke-width="0.6"/>
<line x1="456.80" y1="360.79" x2="455.80" y2="360.79" stroke="#222" stroke-width="0.6"/>
<line x1="456.80" y1="358.43" x2="455.40" y2="358.43" stroke="#222" stroke-width="0.6"/>
<line x1="456.80" y1="356.07" x2="455.80" y2="356.07" stroke="#222" stroke-width="0.6"/>
<line x1="456.80" y1="353.71" x2="455.80" y2="353.71" stroke="#222" stroke-width="0.6"/>
<line x1="456.80" y1="351.35" x2="455.80" y2="351.35" stroke="#222" stroke-width="0.6"/>
<line x1="456.80" y1="349.00" x2="455.80" y2="349.00" stroke="#222" stroke-width="0.6"/>
<line x1="456.80" y1="346.64" x2="455.40" y2="346.64" stroke="#222" stroke-width="0.6"/>
<line x1="456.80" y1="344.28" x2="455.80" y2="344.28" stroke="#222" stroke-width="0.6"/>
<line x1="456.80" y1="405.60" x2="456.80" y2="406.70" stroke="#333" stroke-width="0.5"/>
<line x1="456.80" y1="343.10" x2="456.80" y2="342.00" stroke="#333" stroke-width="0.5"/>
<line x1="461.52" y1="405.60" x2="461.52" y2="406.30" stroke="#333" stroke-width="0.5"/>
<line x1="461.52" y1="343.10" x2="461.52" y2="342.40" stroke="#333" stroke-width="0.5"/>
<line x1="466.23" y1="405.60" x2="466.23" y2="406.30" stroke="#333" stroke-width="0.5"/>
<line x1="466.23" y1="343.10" x2="466.23" y2="342.40" stroke="#333" stroke-width="0.5"/>
<line x1="470.95" y1="405.60" x2="470.95" y2="406.30" stroke="#333" stroke-width="0.5"/>
<line x1="470.95" y1="343.10" x2="470.95" y2="342.40" stroke="#333" stroke-width="0.5"/>
<line x1="475.67" y1="405.60" x2="475.67" y2="406.30" stroke="#333" stroke-width="0.5"/>
<line x1="475.67" y1="343.10" x2="475.67" y2="342.40" stroke="#333" stroke-width="0.5"/>
<line x1="480.38" y1="405.60" x2="480.38" y2="406.70" stroke="#333" stroke-width="0.5"/>
<line x1="480.38" y1="343.10" x2="480.38" y2="342.00" stroke="#333" stroke-width="0.5"/>
<line x1="485.10" y1="405.60" x2="485.10" y2="406.30" stroke="#333" stroke-width="0.5"/>
<line x1="485.10" y1="343.10" x2="485.10" y2="342.40" stroke="#333" stroke-width="0.5"/>
<line x1="489.82" y1="405.60" x2="489.82" y2="406.30" stroke="#333" stroke-width="0.5"/>
<line x1="489.82" y1="343.10" x2="489.82" y2="342.40" stroke="#333" stroke-width="0.5"/>
<line x1="494.54" y1="405.60" x2="494.54" y2="406.30" stroke="#333" stroke-width="0.5"/>
<line x1="494.54" y1="343.10" x2="494.54" y2="342.40" stroke="#333" stroke-width="0.5"/>
<line x1="499.25" y1="405.60" x2="499.25" y2="406.30" stroke="#333" stroke-width="0.5"/>
<line x1="499.25" y1="343.10" x2="499.25" y2="342.40" stroke="#333" stroke-width="0.5"/>
<line x1="503.97" y1="405.60" x2="503.97" y2="406.70" stroke="#333" stroke-width="0.5"/>
<line x1="503.97" y1="343.10" x2="503.97" y2="342.00" stroke="#333" stroke-width="0.5"/>
<line x1="508.69" y1="405.60" x2="508.69" y2="406.30" stroke="#333" stroke-width="0.5"/>
<line x1="508.69" y1="343.10" x2="508.69" y2="342.40" stroke="#333" stroke-width="0.5"/>
<line x1="513.40" y1="405.60" x2="513.40" y2="406.30" stroke="#333" stroke-width="0.5"/>
<line x1="513.40" y1="343.10" x2="513.40" y2="342.40" stroke="#333" stroke-width="0.5"/>
<line x1="518.12" y1="405.60" x2="518.12" y2="406.30" stroke="#333" stroke-width="0.5"/>
<line x1="518.12" y1="343.10" x2="518.12" y2="342.40" stroke="#333" stroke-width="0.5"/>
<text x="455.00" y="394.81" style="font-family:'Liberation Sans',sans-serif;font-size:3px" fill="#555" text-anchor="end">10</text>
<text x="455.00" y="383.02" style="font-family:'Liberation Sans',sans-serif;font-size:3px" fill="#555" text-anchor="end">20</text>
<text x="455.00" y="371.22" style="font-family:'Liberation Sans',sans-serif;font-size:3px" fill="#555" text-anchor="end">30</text>
<text x="455.00" y="359.43" style="font-family:'Liberation Sans',sans-serif;font-size:3px" fill="#555" text-anchor="end">40</text>
<text x="455.00" y="406.60" style="font-family:'Liberation Sans',sans-serif;font-size:3px" fill="#555" text-anchor="end">0</text>
<text x="456.80" y="409.90" style="font-family:'Liberation Sans',sans-serif;font-size:3px" fill="#555" text-anchor="middle">0</text>
<text x="480.38" y="409.90" style="font-family:'Liberation Sans',sans-serif;font-size:3px" fill="#555" text-anchor="middle">20</text>
<text x="503.97" y="409.90" style="font-family:'Liberation Sans',sans-serif;font-size:3px" fill="#555" text-anchor="middle">40</text>
<line x1="446.80" y1="405.10" x2="448.20" y2="403.40" stroke="#3a3" stroke-width="0.7"/>
<rect x="523.10" y="343.70" width="4.80" height="61.90" fill="url(#cb)" stroke="#444" stroke-width="0.5"/>
<line x1="527.90" y1="350.58" x2="528.90" y2="350.58" stroke="#555" stroke-width="0.4"/>
<line x1="527.90" y1="357.46" x2="528.90" y2="357.46" stroke="#555" stroke-width="0.4"/>
<line x1="527.90" y1="364.33" x2="528.90" y2="364.33" stroke="#555" stroke-width="0.4"/>
<line x1="527.90" y1="371.21" x2="528.90" y2="371.21" stroke="#555" stroke-width="0.4"/>
<line x1="527.90" y1="378.09" x2="528.90" y2="378.09" stroke="#555" stroke-width="0.4"/>
<line x1="527.90" y1="384.97" x2="528.90" y2="384.97" stroke="#555" stroke-width="0.4"/>
<line x1="527.90" y1="391.84" x2="528.90" y2="391.84" stroke="#555" stroke-width="0.4"/>
<line x1="527.90" y1="398.72" x2="528.90" y2="398.72" stroke="#555" stroke-width="0.4"/>
<text x="529.50" y="344.60" style="font-family:'Liberation Sans',sans-serif;font-size:2.6px" fill="#888">10</text>
<text x="529.50" y="352.34" style="font-family:'Liberation Sans',sans-serif;font-size:2.6px" fill="#888">0.8</text>
<text x="529.50" y="360.07" style="font-family:'Liberation Sans',sans-serif;font-size:2.6px" fill="#888">0.7</text>
<text x="529.50" y="367.81" style="font-family:'Liberation Sans',sans-serif;font-size:2.6px" fill="#888">0.6</text>
<text x="529.50" y="375.55" style="font-family:'Liberation Sans',sans-serif;font-size:2.6px" fill="#888">0.4</text>
<text x="529.50" y="383.29" style="font-family:'Liberation Sans',sans-serif;font-size:2.6px" fill="#888">0.3</text>
<text x="529.50" y="391.02" style="font-family:'Liberation Sans',sans-serif;font-size:2.6px" fill="#888">0.2</text>
<text x="529.50" y="398.76" style="font-family:'Liberation Sans',sans-serif;font-size:2.6px" fill="#888">0.1</text>
<text x="529.50" y="406.50" style="font-family:'Liberation Sans',sans-serif;font-size:2.6px" fill="#888">0.0</text>
<polygon points="69.2,176.9 91.7,171.2 124.4,175.4 121.5,215.8 109.0,227.3 71.9,217.7" fill="#f05cf0"/>
<polygon points="69.2,176.9 91.7,171.2 124.4,175.4 105.9,183.1" fill="#fff" fill-opacity="0.06"/>
<polyline points="69.2,176.9 105.9,183.1 124.4,175.4" fill="none" stroke="#000" stroke-opacity="0.04" stroke-width="0.6"/>
<polygon points="68.7,259.1 91.6,253.2 126.5,257.3 124.7,296.0 109.4,311.2 71.2,299.8" fill="#f05cf0"/>
<polygon points="68.7,259.1 91.6,253.2 126.5,257.3 107.6,265.2" fill="#fff" fill-opacity="0.06"/>
<polyline points="68.7,259.1 107.6,265.2 126.5,257.3" fill="none" stroke="#000" stroke-opacity="0.04" stroke-width="0.6"/>
<polygon points="69.2,355.6 90.3,350.0 125.2,353.8 124.2,392.5 109.4,406.5 71.8,396.3" fill="#f05cf0"/>
<polygon points="69.2,355.6 90.3,350.0 125.2,353.8 108.1,361.4" fill="#fff" fill-opacity="0.06"/>
<polyline points="69.2,355.6 108.1,361.4 125.2,353.8" fill="none" stroke="#000" stroke-opacity="0.04" stroke-width="0.6"/>
<polygon points="226.4,175.1 247.8,169.6 282.6,174.1 279.7,212.5 267.1,225.1 228.4,216.7" fill="#eadc9c"/>
<polygon points="226.4,175.1 247.8,169.6 282.6,174.1 265.2,181.6" fill="#fff" fill-opacity="0.06"/>
<polygon points="226.4,175.1 247.8,169.6 282.6,174.1 279.7,212.5 267.1,225.1 228.4,216.7" fill="url(#stripe)" opacity="1"/>
<polygon points="226.4,175.1 247.8,169.6 282.6,174.1 265.2,181.6" fill="#b8a040" fill-opacity="0.16"/>
<polygon points="226.4,175.1 247.8,169.6 282.6,174.1 279.7,212.5 267.1,225.1 228.4,216.7" fill="none" stroke="#fff" stroke-opacity="0.55" stroke-width="1.6"/>
<polygon points="226.4,175.1 247.8,169.6 282.6,174.1 279.7,212.5 267.1,225.1 228.4,216.7" fill="none" stroke="#c9c2a4" stroke-opacity="0.7" stroke-width="0.4"/>
<polyline points="226.4,175.1 265.2,181.6 282.6,174.1" fill="none" stroke="#c9c2a4" stroke-opacity="0.6" stroke-width="0.4"/>
<line x1="265.2" y1="181.6" x2="267.1" y2="225.1" stroke="#c9c2a4" stroke-opacity="0.5" stroke-width="0.4"/>
<polygon points="225.6,262.7 249.0,256.2 284.7,261.0 282.5,302.8 267.4,315.8 228.4,308.2" fill="#dccb72"/>
<polygon points="225.6,262.7 249.0,256.2 284.7,261.0 265.3,269.5" fill="#fff" fill-opacity="0.06"/>
<polygon points="225.6,262.7 249.0,256.2 284.7,261.0 282.5,302.8 267.4,315.8 228.4,308.2" fill="url(#stripe)" opacity="0.6"/>
<polygon points="225.6,262.7 249.0,256.2 284.7,261.0 265.3,269.5" fill="#b8a040" fill-opacity="0.16"/>
<polygon points="225.6,262.7 249.0,256.2 284.7,261.0 282.5,302.8 267.4,315.8 228.4,308.2" fill="none" stroke="#fff" stroke-opacity="0.55" stroke-width="1.6"/>
<polygon points="225.6,262.7 249.0,256.2 284.7,261.0 282.5,302.8 267.4,315.8 228.4,308.2" fill="none" stroke="#c9c2a4" stroke-opacity="0.7" stroke-width="0.4"/>
<polyline points="225.6,262.7 265.3,269.5 284.7,261.0" fill="none" stroke="#c9c2a4" stroke-opacity="0.6" stroke-width="0.4"/>
<line x1="265.3" y1="269.5" x2="267.4" y2="315.8" stroke="#c9c2a4" stroke-opacity="0.5" stroke-width="0.4"/>
<polygon points="226.3,356.7 245.0,350.9 282.5,354.7 279.4,391.9 265.3,405.2 228.6,396.6" fill="#dccc74"/>
<polygon points="226.3,356.7 245.0,350.9 282.5,354.7 267.8,362.5" fill="#fff" fill-opacity="0.06"/>
<polygon points="226.3,356.7 245.0,350.9 282.5,354.7 279.4,391.9 265.3,405.2 228.6,396.6" fill="url(#stripe)" opacity="0.6"/>
<polygon points="226.3,356.7 245.0,350.9 282.5,354.7 267.8,362.5" fill="#b8a040" fill-opacity="0.16"/>
<polygon points="226.3,356.7 245.0,350.9 282.5,354.7 279.4,391.9 265.3,405.2 228.6,396.6" fill="none" stroke="#fff" stroke-opacity="0.55" stroke-width="1.6"/>
<polygon points="226.3,356.7 245.0,350.9 282.5,354.7 279.4,391.9 265.3,405.2 228.6,396.6" fill="none" stroke="#c9c2a4" stroke-opacity="0.7" stroke-width="0.4"/>
<polyline points="226.3,356.7 267.8,362.5 282.5,354.7" fill="none" stroke="#c9c2a4" stroke-opacity="0.6" stroke-width="0.4"/>
<line x1="267.8" y1="362.5" x2="265.3" y2="405.2" stroke="#c9c2a4" stroke-opacity="0.5" stroke-width="0.4"/>
<polygon points="383.1,174.2 405.6,168.1 441.2,172.3 438.3,214.6 422.9,226.2 385.4,214.6" fill="#22c97a"/>
<polygon points="383.1,174.2 405.6,168.1 441.2,172.3 422.7,180.4" fill="#fff" fill-opacity="0.06"/>
<polyline points="383.1,174.2 422.7,180.4 441.2,172.3" fill="none" stroke="#000" stroke-opacity="0.04" stroke-width="0.6"/>
<polygon points="383.4,263.4 405.7,257.3 439.3,261.6 437.1,302.8 421.9,314.7 386.2,307.1" fill="#22c97a"/>
<polygon points="383.4,263.4 405.7,257.3 439.3,261.6 421.0,269.7" fill="#fff" fill-opacity="0.06"/>
<polyline points="383.4,263.4 421.0,269.7 439.3,261.6" fill="none" stroke="#000" stroke-opacity="0.04" stroke-width="0.6"/>
<polygon points="385.1,356.7 404.6,350.9 441.4,355.9 440.3,394.2 425.2,406.1 388.4,398.5" fill="#22c97a"/>
<polygon points="385.1,356.7 404.6,350.9 441.4,355.9 425.9,363.7" fill="#fff" fill-opacity="0.06"/>
<polyline points="385.1,356.7 425.9,363.7 441.4,355.9" fill="none" stroke="#000" stroke-opacity="0.04" stroke-width="0.6"/></svg></body></html>
